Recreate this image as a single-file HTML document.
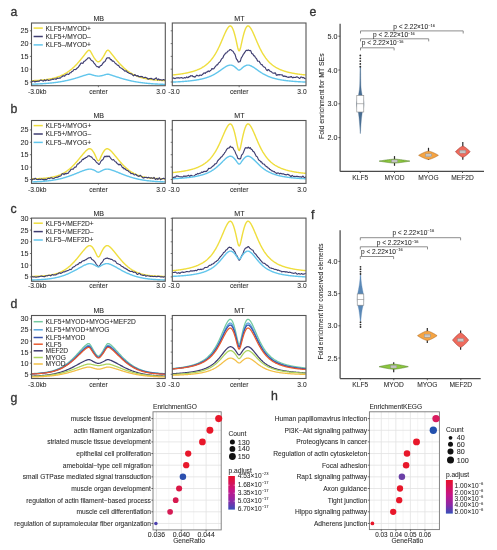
<!DOCTYPE html>
<html><head><meta charset="utf-8"><style>html,body{margin:0;padding:0;background:#fff;width:497px;height:550px;overflow:hidden}svg{display:block;filter:blur(0.3px)}</style></head>
<body><svg width="497" height="550" viewBox="0 0 497 550" font-family='"Liberation Sans", sans-serif'>
<rect width="497" height="550" fill="#fff"/>
<text x="10.6" y="15.6" font-size="12.3" text-anchor="start" fill="#333" stroke="#333" stroke-width="0.3" >a</text>
<svg x="0" y="0" width="497" height="550" overflow="visible"><clipPath id="cpaMB"><rect x="31.5" y="23.0" width="133.8" height="62.7"/></clipPath></svg>
<g clip-path="url(#cpaMB)" fill="none" stroke-linejoin="round">
<polyline points="31.5,80.68 32,80.67 32.5,80.66 33,80.64 33.5,80.62 34,80.59 34.5,80.57 35,80.55 35.5,80.52 36,80.49 36.5,80.46 37,80.43 37.5,80.4 38,80.37 38.5,80.34 39,80.3 39.5,80.26 40,80.22 40.5,80.18 41,80.14 41.5,80.09 42,80.05 42.5,80 43,79.95 43.5,79.89 44,79.84 44.5,79.78 45,79.72 45.5,79.66 46,79.59 46.5,79.52 47,79.45 47.5,79.38 48,79.3 48.5,79.22 49,79.13 49.5,79.04 50,78.95 50.5,78.86 51,78.76 51.5,78.65 52,78.55 52.5,78.43 53,78.32 53.5,78.2 54,78.07 54.5,77.94 55,77.8 55.5,77.66 56,77.51 56.5,77.36 57,77.2 57.5,77.04 58,76.87 58.5,76.69 59,76.5 59.5,76.31 60,76.12 60.5,75.91 61,75.7 61.5,75.48 62,75.25 62.5,75.02 63,74.77 63.5,74.52 64,74.26 64.5,73.99 65,73.71 65.5,73.42 66,73.13 66.5,72.82 67,72.51 67.5,72.18 68,71.84 68.5,71.5 69,71.14 69.5,70.77 70,70.39 70.5,70 71,69.6 71.5,69.19 72,68.77 72.5,68.33 73,67.89 73.5,67.43 74,66.96 74.5,66.48 75,65.99 75.5,65.49 76,64.97 76.5,64.45 77,63.91 77.5,63.36 78,62.8 78.5,62.24 79,61.66 79.5,61.07 80,60.47 80.5,59.87 81,59.25 81.5,58.63 82,58.01 82.5,57.37 83,56.74 83.5,56.1 84,55.46 84.5,54.82 85,54.18 85.5,53.54 86,52.92 86.5,52.3 87,51.71 87.5,51.15 88,50.68 88.5,50.33 89,50.2 89.5,50.34 90,50.76 90.5,51.42 91,52.26 91.5,53.17 92,54.11 92.5,55.03 93,55.92 93.5,56.76 94,57.57 94.5,58.32 95,59.03 95.5,59.69 96,60.28 96.5,60.8 97,61.24 97.5,61.56 98,61.75 98.5,61.8 99,61.69 99.5,61.44 100,61.07 100.5,60.6 101,60.04 101.5,59.42 102,58.74 102.5,58.01 103,57.23 103.5,56.41 104,55.54 104.5,54.63 105,53.7 105.5,52.77 106,51.89 106.5,51.12 107,50.54 107.5,50.23 108,50.2 108.5,50.41 109,50.81 109.5,51.32 110,51.89 110.5,52.49 111,53.11 111.5,53.74 112,54.37 112.5,55.01 113,55.65 113.5,56.29 114,56.93 114.5,57.56 115,58.19 115.5,58.82 116,59.43 116.5,60.04 117,60.64 117.5,61.24 118,61.82 118.5,62.39 119,62.96 119.5,63.51 120,64.05 120.5,64.58 121,65.1 121.5,65.61 122,66.11 122.5,66.6 123,67.07 123.5,67.54 124,67.99 124.5,68.43 125,68.86 125.5,69.28 126,69.68 126.5,70.08 127,70.46 127.5,70.84 128,71.2 128.5,71.55 129,71.89 129.5,72.22 130,72.55 130.5,72.86 131,73.16 131.5,73.45 132,73.74 132.5,74.01 133,74.28 133.5,74.53 134,74.78 134.5,75.02 135,75.25 135.5,75.48 136,75.69 136.5,75.9 137,76.1 137.5,76.3 138,76.48 138.5,76.67 139,76.84 139.5,77.01 140,77.17 140.5,77.33 141,77.48 141.5,77.62 142,77.76 142.5,77.89 143,78.02 143.5,78.15 144,78.27 144.5,78.38 145,78.49 145.5,78.6 146,78.7 146.5,78.8 147,78.89 147.5,78.98 148,79.07 148.5,79.15 149,79.23 149.5,79.31 150,79.38 150.5,79.45 151,79.52 151.5,79.58 152,79.65 152.5,79.71 153,79.76 153.5,79.82 154,79.87 154.5,79.92 155,79.97 155.5,80.01 156,80.06 156.5,80.1 157,80.14 157.5,80.18 158,80.21 158.5,80.25 159,80.28 159.5,80.32 160,80.35 160.5,80.38 161,80.4 161.5,80.43 162,80.46 162.5,80.48 163,80.5 163.5,80.52 164,80.54 164.5,80.56 165,80.57" stroke="#efde3e" stroke-width="1.4"/>
<polyline points="31.5,81.68 32,81.75 32.5,81.44 33,81.2 33.5,81.15 34,81.13 34.5,81.66 35,81.96 35.5,81.54 36,81.18 36.5,81.42 37,81.51 37.5,81.19 38,80.89 38.5,81.28 39,81.37 39.5,80.84 40,80.46 40.5,80.12 41,80.03 41.5,80.26 42,80.5 42.5,80.68 43,80.99 43.5,81.05 44,80.43 44.5,79.81 45,80.26 45.5,80.78 46,80.54 46.5,80.03 47,79.89 47.5,79.82 48,80.14 48.5,80.49 49,80.22 49.5,80.23 50,80.21 50.5,79.8 51,79.71 51.5,79.79 52,79.49 52.5,79.04 53,79.4 53.5,79.38 54,78.88 54.5,79 55,78.96 55.5,78.82 56,79.36 56.5,78.98 57,78.11 57.5,78.14 58,78.37 58.5,78.2 59,78.08 59.5,77.92 60,78.18 60.5,78 61,77.24 61.5,76.82 62,76.71 62.5,76.28 63,75.75 63.5,75.73 64,75.9 64.5,76.16 65,75.86 65.5,74.87 66,74.73 66.5,74.72 67,74.09 67.5,74.01 68,74.27 68.5,74.52 69,74.11 69.5,73.29 70,72.74 70.5,72.73 71,72.6 71.5,71.93 72,71.43 72.5,71.36 73,70.97 73.5,70.23 74,69.66 74.5,69.52 75,69.54 75.5,69.64 76,69.32 76.5,68.75 77,68.28 77.5,67.77 78,67.53 78.5,66.98 79,66.13 79.5,65.46 80,64.91 80.5,63.84 81,63.07 81.5,63.07 82,62.97 82.5,63.2 83,63.37 83.5,62.28 84,61.38 84.5,61.22 85,60.9 85.5,60.33 86,59.87 86.5,59.78 87,59.07 87.5,58.17 88,57.97 88.5,57.86 89,57.68 89.5,57.92 90,58.43 90.5,59.32 91,59.97 91.5,60.36 92,60.76 92.5,61.15 93,61.31 93.5,62.25 94,63.16 94.5,63.56 95,64.24 95.5,64.83 96,65.54 96.5,66.17 97,66.71 97.5,66.73 98,66.57 98.5,67.27 99,67.64 99.5,66.95 100,66.21 100.5,65.75 101,65.48 101.5,65.34 102,64.65 102.5,63.88 103,63.12 103.5,62.38 104,61.94 104.5,62 105,61.33 105.5,60.57 106,59.44 106.5,58.46 107,58.04 107.5,57.85 108,57.81 108.5,57.93 109,57.79 109.5,57.85 110,58.66 110.5,59.75 111,59.67 111.5,59.67 112,60.8 112.5,61.23 113,60.93 113.5,61.27 114,61.64 114.5,61.97 115,62.99 115.5,63.6 116,63.76 116.5,64.17 117,64.72 117.5,65.21 118,65.36 118.5,65.42 119,66.14 119.5,67.07 120,67.46 120.5,67.77 121,68.07 121.5,68.23 122,68.55 122.5,69.17 123,69.38 123.5,69.69 124,70.32 124.5,70.97 125,71.17 125.5,71.09 126,70.76 126.5,70.96 127,71.97 127.5,72.54 128,72.38 128.5,72.72 129,73.17 129.5,73.53 130,73.54 130.5,73.65 131,73.9 131.5,73.89 132,74.2 132.5,74.85 133,75.32 133.5,75.87 134,75.56 134.5,74.67 135,74.65 135.5,75.37 136,75.48 136.5,75.88 137,76.06 137.5,75.52 138,75.48 138.5,76.4 139,76.69 139.5,76.67 140,76.71 140.5,76.48 141,76.38 141.5,76.65 142,76.46 142.5,76.71 143,77.32 143.5,77.78 144,77.7 144.5,77.44 145,77.23 145.5,77.31 146,77.57 146.5,77.86 147,77.99 147.5,78.51 148,79.06 148.5,79.13 149,78.5 149.5,78.63 150,78.79 150.5,78.5 151,78.27 151.5,78.52 152,79.01 152.5,79.03 153,79.04 153.5,79.46 154,79.77 154.5,79.2 155,78.49 155.5,78.42 156,78.04 156.5,77.87 157,78.98 157.5,79.95 158,79.51 158.5,78.91 159,79.22 159.5,79.85 160,79.87 160.5,79.68 161,79.64 161.5,79.9 162,80.14 162.5,80.08 163,79.69 163.5,79.47 164,79.66 164.5,79.9 165,80.16" stroke="#3e3d70" stroke-width="1.15"/>
<polyline points="31.5,84.19 32,84.18 32.5,84.16 33,84.15 33.5,84.13 34,84.11 34.5,84.09 35,84.08 35.5,84.06 36,84.03 36.5,84.01 37,83.99 37.5,83.97 38,83.94 38.5,83.92 39,83.9 39.5,83.87 40,83.84 40.5,83.82 41,83.79 41.5,83.76 42,83.73 42.5,83.7 43,83.67 43.5,83.63 44,83.6 44.5,83.56 45,83.53 45.5,83.49 46,83.45 46.5,83.41 47,83.37 47.5,83.33 48,83.29 48.5,83.24 49,83.2 49.5,83.15 50,83.1 50.5,83.05 51,83 51.5,82.95 52,82.9 52.5,82.84 53,82.79 53.5,82.73 54,82.67 54.5,82.61 55,82.55 55.5,82.48 56,82.42 56.5,82.35 57,82.28 57.5,82.21 58,82.13 58.5,82.06 59,81.98 59.5,81.9 60,81.82 60.5,81.74 61,81.65 61.5,81.57 62,81.48 62.5,81.39 63,81.29 63.5,81.2 64,81.1 64.5,81 65,80.9 65.5,80.8 66,80.69 66.5,80.58 67,80.47 67.5,80.36 68,80.25 68.5,80.13 69,80.01 69.5,79.89 70,79.76 70.5,79.64 71,79.51 71.5,79.38 72,79.24 72.5,79.11 73,78.97 73.5,78.83 74,78.69 74.5,78.55 75,78.4 75.5,78.25 76,78.1 76.5,77.95 77,77.8 77.5,77.64 78,77.49 78.5,77.33 79,77.17 79.5,77.01 80,76.85 80.5,76.68 81,76.52 81.5,76.35 82,76.19 82.5,76.03 83,75.86 83.5,75.7 84,75.53 84.5,75.37 85,75.21 85.5,75.05 86,74.9 86.5,74.75 87,74.6 87.5,74.46 88,74.34 88.5,74.25 89,74.2 89.5,74.2 90,74.26 90.5,74.36 91,74.5 91.5,74.65 92,74.81 92.5,74.96 93,75.11 93.5,75.25 94,75.39 94.5,75.52 95,75.63 95.5,75.74 96,75.84 96.5,75.93 97,76 97.5,76.06 98,76.09 98.5,76.1 99,76.08 99.5,76.04 100,75.98 100.5,75.9 101,75.81 101.5,75.7 102,75.59 102.5,75.46 103,75.33 103.5,75.2 104,75.05 104.5,74.9 105,74.74 105.5,74.59 106,74.44 106.5,74.32 107,74.23 107.5,74.2 108,74.22 108.5,74.29 109,74.4 109.5,74.53 110,74.67 110.5,74.82 111,74.98 111.5,75.14 112,75.3 112.5,75.46 113,75.63 113.5,75.8 114,75.96 114.5,76.13 115,76.3 115.5,76.47 116,76.63 116.5,76.8 117,76.97 117.5,77.13 118,77.29 118.5,77.46 119,77.62 119.5,77.78 120,77.93 120.5,78.09 121,78.24 121.5,78.4 122,78.55 122.5,78.69 123,78.84 123.5,78.98 124,79.12 124.5,79.26 125,79.4 125.5,79.54 126,79.67 126.5,79.8 127,79.93 127.5,80.05 128,80.18 128.5,80.3 129,80.41 129.5,80.53 130,80.65 130.5,80.76 131,80.87 131.5,80.97 132,81.08 132.5,81.18 133,81.28 133.5,81.38 134,81.48 134.5,81.57 135,81.66 135.5,81.75 136,81.84 136.5,81.92 137,82.01 137.5,82.09 138,82.17 138.5,82.25 139,82.32 139.5,82.4 140,82.47 140.5,82.54 141,82.61 141.5,82.67 142,82.74 142.5,82.8 143,82.86 143.5,82.92 144,82.98 144.5,83.04 145,83.1 145.5,83.15 146,83.2 146.5,83.25 147,83.3 147.5,83.35 148,83.4 148.5,83.44 149,83.49 149.5,83.53 150,83.57 150.5,83.61 151,83.65 151.5,83.69 152,83.73 152.5,83.77 153,83.8 153.5,83.83 154,83.87 154.5,83.9 155,83.93 155.5,83.96 156,83.99 156.5,84.02 157,84.05 157.5,84.07 158,84.1 158.5,84.12 159,84.15 159.5,84.17 160,84.2 160.5,84.22 161,84.24 161.5,84.26 162,84.28 162.5,84.3 163,84.32 163.5,84.34 164,84.35 164.5,84.37 165,84.38" stroke="#62c6ec" stroke-width="1.4"/>
</g>
<rect x="31.5" y="23.0" width="133.8" height="62.7" fill="none" stroke="#555555" stroke-width="1.1"/>
<line x1="29.9" y1="30.8" x2="31.5" y2="30.8" stroke="#555555" stroke-width="0.8"/>
<line x1="29.9" y1="43.6" x2="31.5" y2="43.6" stroke="#555555" stroke-width="0.8"/>
<line x1="29.9" y1="56.4" x2="31.5" y2="56.4" stroke="#555555" stroke-width="0.8"/>
<line x1="29.9" y1="69.2" x2="31.5" y2="69.2" stroke="#555555" stroke-width="0.8"/>
<line x1="29.9" y1="82.0" x2="31.5" y2="82.0" stroke="#555555" stroke-width="0.8"/>
<line x1="98.4" y1="85.7" x2="98.4" y2="87.2" stroke="#555555" stroke-width="0.8"/>
<text x="98.7" y="20.6" font-size="7.1" text-anchor="middle" fill="#2a2a2a" stroke="#2a2a2a" stroke-width="0.07" >MB</text>
<text x="98.4" y="94.1" font-size="6.65" text-anchor="middle" fill="#2a2a2a" stroke="#2a2a2a" stroke-width="0.07" >center</text>
<svg x="0" y="0" width="497" height="550" overflow="visible"><clipPath id="cpaMT"><rect x="172.3" y="23.0" width="133.7" height="62.7"/></clipPath></svg>
<g clip-path="url(#cpaMT)" fill="none" stroke-linejoin="round">
<polyline points="172.25,74.96 172.75,74.93 173.25,74.89 173.75,74.85 174.25,74.8 174.75,74.75 175.25,74.69 175.75,74.64 176.25,74.58 176.75,74.52 177.25,74.46 177.75,74.4 178.25,74.34 178.75,74.27 179.25,74.21 179.75,74.14 180.25,74.07 180.75,74 181.25,73.92 181.75,73.85 182.25,73.77 182.75,73.69 183.25,73.61 183.75,73.52 184.25,73.43 184.75,73.34 185.25,73.25 185.75,73.16 186.25,73.06 186.75,72.96 187.25,72.85 187.75,72.75 188.25,72.64 188.75,72.52 189.25,72.41 189.75,72.29 190.25,72.16 190.75,72.03 191.25,71.9 191.75,71.76 192.25,71.62 192.75,71.48 193.25,71.33 193.75,71.17 194.25,71.01 194.75,70.84 195.25,70.67 195.75,70.49 196.25,70.31 196.75,70.11 197.25,69.92 197.75,69.71 198.25,69.5 198.75,69.28 199.25,69.05 199.75,68.81 200.25,68.56 200.75,68.31 201.25,68.04 201.75,67.77 202.25,67.48 202.75,67.18 203.25,66.87 203.75,66.55 204.25,66.21 204.75,65.87 205.25,65.5 205.75,65.13 206.25,64.73 206.75,64.33 207.25,63.9 207.75,63.46 208.25,63 208.75,62.51 209.25,62.01 209.75,61.49 210.25,60.95 210.75,60.38 211.25,59.79 211.75,59.17 212.25,58.53 212.75,57.86 213.25,57.17 213.75,56.45 214.25,55.69 214.75,54.91 215.25,54.1 215.75,53.25 216.25,52.38 216.75,51.47 217.25,50.53 217.75,49.56 218.25,48.56 218.75,47.53 219.25,46.47 219.75,45.38 220.25,44.27 220.75,43.13 221.25,41.98 221.75,40.81 222.25,39.63 222.75,38.45 223.25,37.27 223.75,36.09 224.25,34.94 224.75,33.8 225.25,32.7 225.75,31.64 226.25,30.64 226.75,29.69 227.25,28.82 227.75,28.03 228.25,27.34 228.75,26.75 229.25,26.3 229.75,26.01 230.25,25.9 230.75,26 231.25,26.33 231.75,26.9 232.25,27.69 232.75,28.7 233.25,29.91 233.75,31.33 234.25,32.94 234.75,34.72 235.25,36.67 235.75,38.76 236.25,40.97 236.75,43.27 237.25,45.56 237.75,47.71 238.25,49.48 238.75,50.62 239.25,50.9 239.75,50.26 240.25,48.84 240.75,46.88 241.25,44.65 241.75,42.34 242.25,40.06 242.75,37.89 243.25,35.85 243.75,33.97 244.25,32.26 244.75,30.72 245.25,29.38 245.75,28.24 246.25,27.32 246.75,26.62 247.25,26.16 247.75,25.92 248.25,25.9 248.75,26.08 249.25,26.44 249.75,26.95 250.25,27.58 250.75,28.31 251.25,29.14 251.75,30.04 252.25,31.01 252.75,32.04 253.25,33.12 253.75,34.23 254.25,35.38 254.75,36.54 255.25,37.72 255.75,38.91 256.25,40.09 256.75,41.27 257.25,42.43 257.75,43.58 258.25,44.7 258.75,45.81 259.25,46.88 259.75,47.93 260.25,48.95 260.75,49.94 261.25,50.9 261.75,51.83 262.25,52.72 262.75,53.58 263.25,54.42 263.75,55.22 264.25,55.99 264.75,56.73 265.25,57.44 265.75,58.13 266.25,58.78 266.75,59.42 267.25,60.02 267.75,60.6 268.25,61.16 268.75,61.7 269.25,62.21 269.75,62.7 270.25,63.18 270.75,63.63 271.25,64.07 271.75,64.49 272.25,64.89 272.75,65.28 273.25,65.65 273.75,66 274.25,66.35 274.75,66.68 275.25,66.99 275.75,67.3 276.25,67.59 276.75,67.87 277.25,68.15 277.75,68.41 278.25,68.66 278.75,68.9 279.25,69.14 279.75,69.36 280.25,69.58 280.75,69.79 281.25,69.99 281.75,70.19 282.25,70.38 282.75,70.56 283.25,70.74 283.75,70.91 284.25,71.07 284.75,71.23 285.25,71.38 285.75,71.53 286.25,71.68 286.75,71.82 287.25,71.95 287.75,72.08 288.25,72.21 288.75,72.33 289.25,72.45 289.75,72.57 290.25,72.68 290.75,72.79 291.25,72.9 291.75,73 292.25,73.1 292.75,73.19 293.25,73.29 293.75,73.38 294.25,73.47 294.75,73.55 295.25,73.64 295.75,73.72 296.25,73.8 296.75,73.88 297.25,73.95 297.75,74.02 298.25,74.1 298.75,74.16 299.25,74.23 299.75,74.3 300.25,74.36 300.75,74.42 301.25,74.48 301.75,74.54 302.25,74.6 302.75,74.66 303.25,74.71 303.75,74.77 304.25,74.82 304.75,74.86 305.25,74.9 305.75,74.93" stroke="#efde3e" stroke-width="1.4"/>
<polyline points="172.25,78.21 172.75,78.29 173.25,78.11 173.75,77.88 174.25,78.32 174.75,78.64 175.25,78.38 175.75,78.22 176.25,78.02 176.75,77.82 177.25,77.76 177.75,77.94 178.25,77.85 178.75,77.69 179.25,77.93 179.75,78.11 180.25,77.83 180.75,77.76 181.25,77.68 181.75,77.54 182.25,77.99 182.75,78.22 183.25,78.18 183.75,77.93 184.25,77.66 184.75,77.64 185.25,77.97 185.75,77.96 186.25,77.35 186.75,76.79 187.25,77.32 187.75,77.76 188.25,77.58 188.75,76.79 189.25,76.44 189.75,76.79 190.25,76.23 190.75,75.63 191.25,75.94 191.75,75.8 192.25,75.68 192.75,76.26 193.25,76.77 193.75,76.5 194.25,76.56 194.75,77.16 195.25,77.06 195.75,76.24 196.25,75.6 196.75,75.16 197.25,75.38 197.75,75.71 198.25,75.75 198.75,75.88 199.25,75.78 199.75,75.17 200.25,75.09 200.75,75.3 201.25,75.42 201.75,75.21 202.25,74.68 202.75,74.24 203.25,73.78 203.75,73.05 204.25,72.88 204.75,73.29 205.25,73.35 205.75,72.64 206.25,72.05 206.75,72.11 207.25,72.03 207.75,71.38 208.25,70.9 208.75,71.33 209.25,71.7 209.75,71.19 210.25,70.61 210.75,70.45 211.25,69.7 211.75,68.63 212.25,68.68 212.75,69.06 213.25,68.91 213.75,68.78 214.25,68.17 214.75,67.32 215.25,66.68 215.75,66.12 216.25,65.32 216.75,64.86 217.25,64.96 217.75,64.51 218.25,63.48 218.75,62.69 219.25,62.46 219.75,62.09 220.25,61.47 220.75,60.62 221.25,59.52 221.75,58.75 222.25,58.37 222.75,58.09 223.25,57.07 223.75,55.55 224.25,54.87 224.75,54.52 225.25,53.58 225.75,52.97 226.25,52.99 226.75,52.81 227.25,51.93 227.75,51.27 228.25,50.98 228.75,50.72 229.25,50.39 229.75,49.7 230.25,49.49 230.75,49.73 231.25,49.94 231.75,50.49 232.25,50.94 232.75,50.98 233.25,51.67 233.75,52.59 234.25,53.41 234.75,53.99 235.25,55.05 235.75,56.89 236.25,58.62 236.75,59.46 237.25,59.99 237.75,60.89 238.25,62.03 238.75,62.15 239.25,61.75 239.75,61.78 240.25,61.25 240.75,59.71 241.25,58.03 241.75,57.16 242.25,56.63 242.75,55.49 243.25,54.46 243.75,53.96 244.25,53.16 244.75,52.33 245.25,51.65 245.75,50.88 246.25,50.37 246.75,50.24 247.25,50.56 247.75,50.29 248.25,49.93 248.75,50.17 249.25,50.52 249.75,50.63 250.25,50.42 250.75,50.67 251.25,52.13 251.75,53.52 252.25,53.88 252.75,53.87 253.25,54.76 253.75,55.8 254.25,55.76 254.75,56.25 255.25,57.27 255.75,58.02 256.25,58.41 256.75,59.07 257.25,60.38 257.75,61.16 258.25,61.26 258.75,61.25 259.25,61.35 259.75,62.38 260.25,63.28 260.75,63.98 261.25,64.66 261.75,64.59 262.25,64.84 262.75,65.74 263.25,66.41 263.75,66.75 264.25,67.18 264.75,67.23 265.25,67.62 265.75,68.69 266.25,69.58 266.75,70.24 267.25,70.7 267.75,70.02 268.25,69.5 268.75,69.79 269.25,70.26 269.75,70.97 270.25,71.27 270.75,71.34 271.25,71.81 271.75,72.08 272.25,72.59 272.75,72.97 273.25,73.06 273.75,73.25 274.25,73.18 274.75,72.93 275.25,72.9 275.75,73.67 276.25,74.94 276.75,75.36 277.25,75.12 277.75,74.64 278.25,74.56 278.75,74.9 279.25,74.87 279.75,74.62 280.25,74.75 280.75,74.8 281.25,74.98 281.75,74.92 282.25,74.91 282.75,75.5 283.25,76.38 283.75,76.15 284.25,75.94 284.75,76.47 285.25,76.57 285.75,76.1 286.25,76.46 286.75,76.92 287.25,77.05 287.75,77.19 288.25,77.42 288.75,77.06 289.25,76.95 289.75,77.1 290.25,77.14 290.75,76.57 291.25,76.53 291.75,77.03 292.25,77.54 292.75,77.83 293.25,77.62 293.75,77.18 294.25,77.53 294.75,77.51 295.25,77.35 295.75,77.5 296.25,77.11 296.75,76.73 297.25,77.03 297.75,77.17 298.25,77.42 298.75,77.91 299.25,78.35 299.75,78.49 300.25,77.83 300.75,76.99 301.25,77.13 301.75,77.19 302.25,77.37 302.75,77.82 303.25,77.59 303.75,77.42 304.25,78.14 304.75,78.49 305.25,78.61 305.75,78.56" stroke="#3e3d70" stroke-width="1.15"/>
<polyline points="172.25,82.08 172.75,82.07 173.25,82.05 173.75,82.03 174.25,82.01 174.75,81.99 175.25,81.96 175.75,81.94 176.25,81.91 176.75,81.88 177.25,81.86 177.75,81.83 178.25,81.8 178.75,81.77 179.25,81.74 179.75,81.71 180.25,81.68 180.75,81.65 181.25,81.62 181.75,81.58 182.25,81.55 182.75,81.51 183.25,81.48 183.75,81.44 184.25,81.4 184.75,81.36 185.25,81.32 185.75,81.28 186.25,81.24 186.75,81.19 187.25,81.15 187.75,81.1 188.25,81.05 188.75,81 189.25,80.95 189.75,80.9 190.25,80.84 190.75,80.79 191.25,80.73 191.75,80.67 192.25,80.61 192.75,80.55 193.25,80.48 193.75,80.41 194.25,80.35 194.75,80.27 195.25,80.2 195.75,80.12 196.25,80.04 196.75,79.96 197.25,79.88 197.75,79.79 198.25,79.7 198.75,79.61 199.25,79.51 199.75,79.41 200.25,79.31 200.75,79.2 201.25,79.09 201.75,78.98 202.25,78.86 202.75,78.74 203.25,78.61 203.75,78.48 204.25,78.35 204.75,78.21 205.25,78.06 205.75,77.91 206.25,77.75 206.75,77.59 207.25,77.42 207.75,77.25 208.25,77.07 208.75,76.88 209.25,76.69 209.75,76.48 210.25,76.28 210.75,76.06 211.25,75.84 211.75,75.61 212.25,75.37 212.75,75.12 213.25,74.87 213.75,74.6 214.25,74.33 214.75,74.05 215.25,73.76 215.75,73.47 216.25,73.16 216.75,72.85 217.25,72.53 217.75,72.2 218.25,71.87 218.75,71.52 219.25,71.18 219.75,70.83 220.25,70.47 220.75,70.11 221.25,69.75 221.75,69.39 222.25,69.03 222.75,68.67 223.25,68.32 223.75,67.97 224.25,67.63 224.75,67.31 225.25,66.99 225.75,66.69 226.25,66.41 226.75,66.15 227.25,65.91 227.75,65.69 228.25,65.5 228.75,65.35 229.25,65.22 229.75,65.14 230.25,65.1 230.75,65.11 231.25,65.17 231.75,65.28 232.25,65.44 232.75,65.64 233.25,65.89 233.75,66.17 234.25,66.49 234.75,66.85 235.25,67.24 235.75,67.66 236.25,68.11 236.75,68.57 237.25,69.03 237.75,69.46 238.25,69.82 238.75,70.04 239.25,70.1 239.75,69.97 240.25,69.69 240.75,69.29 241.25,68.85 241.75,68.38 242.25,67.93 242.75,67.49 243.25,67.08 243.75,66.7 244.25,66.36 244.75,66.05 245.25,65.78 245.75,65.55 246.25,65.37 246.75,65.23 247.25,65.14 247.75,65.1 248.25,65.11 248.75,65.17 249.25,65.27 249.75,65.4 250.25,65.57 250.75,65.77 251.25,66 251.75,66.25 252.25,66.52 252.75,66.81 253.25,67.11 253.75,67.43 254.25,67.77 254.75,68.11 255.25,68.46 255.75,68.81 256.25,69.17 256.75,69.53 257.25,69.89 257.75,70.25 258.25,70.61 258.75,70.97 259.25,71.32 259.75,71.66 260.25,72 260.75,72.33 261.25,72.66 261.75,72.97 262.25,73.28 262.75,73.59 263.25,73.88 263.75,74.16 264.25,74.44 264.75,74.71 265.25,74.97 265.75,75.22 266.25,75.46 266.75,75.7 267.25,75.93 267.75,76.15 268.25,76.36 268.75,76.57 269.25,76.76 269.75,76.95 270.25,77.14 270.75,77.32 271.25,77.49 271.75,77.66 272.25,77.82 272.75,77.97 273.25,78.12 273.75,78.26 274.25,78.4 274.75,78.54 275.25,78.66 275.75,78.79 276.25,78.91 276.75,79.03 277.25,79.14 277.75,79.25 278.25,79.35 278.75,79.45 279.25,79.55 279.75,79.65 280.25,79.74 280.75,79.83 281.25,79.91 281.75,80 282.25,80.08 282.75,80.15 283.25,80.23 283.75,80.3 284.25,80.37 284.75,80.44 285.25,80.51 285.75,80.57 286.25,80.63 286.75,80.69 287.25,80.75 287.75,80.81 288.25,80.87 288.75,80.92 289.25,80.97 289.75,81.02 290.25,81.07 290.75,81.12 291.25,81.16 291.75,81.21 292.25,81.25 292.75,81.3 293.25,81.34 293.75,81.38 294.25,81.42 294.75,81.45 295.25,81.49 295.75,81.53 296.25,81.56 296.75,81.6 297.25,81.63 297.75,81.66 298.25,81.69 298.75,81.73 299.25,81.76 299.75,81.78 300.25,81.81 300.75,81.84 301.25,81.87 301.75,81.9 302.25,81.92 302.75,81.95 303.25,81.97 303.75,81.99 304.25,82.02 304.75,82.04 305.25,82.05 305.75,82.07" stroke="#62c6ec" stroke-width="1.4"/>
</g>
<rect x="172.3" y="23.0" width="133.7" height="62.7" fill="none" stroke="#555555" stroke-width="1.1"/>
<line x1="170.70000000000002" y1="30.8" x2="172.3" y2="30.8" stroke="#555555" stroke-width="0.8"/>
<line x1="170.70000000000002" y1="43.6" x2="172.3" y2="43.6" stroke="#555555" stroke-width="0.8"/>
<line x1="170.70000000000002" y1="56.4" x2="172.3" y2="56.4" stroke="#555555" stroke-width="0.8"/>
<line x1="170.70000000000002" y1="69.2" x2="172.3" y2="69.2" stroke="#555555" stroke-width="0.8"/>
<line x1="170.70000000000002" y1="82.0" x2="172.3" y2="82.0" stroke="#555555" stroke-width="0.8"/>
<line x1="239.15" y1="85.7" x2="239.15" y2="87.2" stroke="#555555" stroke-width="0.8"/>
<text x="239.45" y="20.6" font-size="7.1" text-anchor="middle" fill="#2a2a2a" stroke="#2a2a2a" stroke-width="0.07" >MT</text>
<text x="239.15" y="94.1" font-size="6.65" text-anchor="middle" fill="#2a2a2a" stroke="#2a2a2a" stroke-width="0.07" >center</text>
<text x="28.6" y="33.3" font-size="7.2" text-anchor="end" fill="#2a2a2a" stroke="#2a2a2a" stroke-width="0.07" >25</text>
<text x="28.6" y="46.1" font-size="7.2" text-anchor="end" fill="#2a2a2a" stroke="#2a2a2a" stroke-width="0.07" >20</text>
<text x="28.6" y="58.9" font-size="7.2" text-anchor="end" fill="#2a2a2a" stroke="#2a2a2a" stroke-width="0.07" >15</text>
<text x="28.6" y="71.7" font-size="7.2" text-anchor="end" fill="#2a2a2a" stroke="#2a2a2a" stroke-width="0.07" >10</text>
<text x="28.6" y="84.5" font-size="7.2" text-anchor="end" fill="#2a2a2a" stroke="#2a2a2a" stroke-width="0.07" >5</text>
<text x="28" y="94.1" font-size="6.65" text-anchor="start" fill="#2a2a2a" stroke="#2a2a2a" stroke-width="0.07" >-3.0kb</text>
<text x="165.6" y="94.1" font-size="6.65" text-anchor="end" fill="#2a2a2a" stroke="#2a2a2a" stroke-width="0.07" >3.0</text>
<text x="168.2" y="94.1" font-size="6.65" text-anchor="start" fill="#2a2a2a" stroke="#2a2a2a" stroke-width="0.07" >-3.0</text>
<text x="306.6" y="94.1" font-size="6.65" text-anchor="end" fill="#2a2a2a" stroke="#2a2a2a" stroke-width="0.07" >3.0</text>
<line x1="33.6" y1="28.1" x2="42.8" y2="28.1" stroke="#efde3e" stroke-width="1.5"/>
<text x="45.6" y="30.5" font-size="6.65" text-anchor="start" fill="#2a2a2a" stroke="#2a2a2a" stroke-width="0.07" >KLF5+/MYOD+</text>
<line x1="33.6" y1="36.5" x2="42.8" y2="36.5" stroke="#3e3d70" stroke-width="1.5"/>
<text x="45.6" y="38.9" font-size="6.65" text-anchor="start" fill="#2a2a2a" stroke="#2a2a2a" stroke-width="0.07" >KLF5+/MYOD–</text>
<line x1="33.6" y1="44.9" x2="42.8" y2="44.9" stroke="#62c6ec" stroke-width="1.5"/>
<text x="45.6" y="47.3" font-size="6.65" text-anchor="start" fill="#2a2a2a" stroke="#2a2a2a" stroke-width="0.07" >KLF5–/MYOD+</text>
<text x="10.6" y="112.6" font-size="12.3" text-anchor="start" fill="#333" stroke="#333" stroke-width="0.3" >b</text>
<svg x="0" y="0" width="497" height="550" overflow="visible"><clipPath id="cpbMB"><rect x="31.5" y="120.5" width="133.8" height="62.900000000000006"/></clipPath></svg>
<g clip-path="url(#cpbMB)" fill="none" stroke-linejoin="round">
<polyline points="31.5,178.79 32,178.79 32.5,178.78 33,178.77 33.5,178.76 34,178.75 34.5,178.74 35,178.72 35.5,178.71 36,178.69 36.5,178.68 37,178.66 37.5,178.64 38,178.62 38.5,178.6 39,178.58 39.5,178.56 40,178.53 40.5,178.5 41,178.48 41.5,178.45 42,178.42 42.5,178.38 43,178.35 43.5,178.31 44,178.27 44.5,178.23 45,178.18 45.5,178.13 46,178.08 46.5,178.03 47,177.97 47.5,177.91 48,177.85 48.5,177.78 49,177.71 49.5,177.64 50,177.56 50.5,177.48 51,177.39 51.5,177.3 52,177.2 52.5,177.1 53,176.99 53.5,176.88 54,176.76 54.5,176.64 55,176.51 55.5,176.38 56,176.23 56.5,176.08 57,175.93 57.5,175.76 58,175.59 58.5,175.41 59,175.22 59.5,175.03 60,174.82 60.5,174.61 61,174.38 61.5,174.15 62,173.91 62.5,173.66 63,173.4 63.5,173.12 64,172.84 64.5,172.55 65,172.24 65.5,171.92 66,171.6 66.5,171.26 67,170.9 67.5,170.54 68,170.17 68.5,169.78 69,169.38 69.5,168.97 70,168.54 70.5,168.11 71,167.66 71.5,167.2 72,166.72 72.5,166.24 73,165.74 73.5,165.23 74,164.71 74.5,164.18 75,163.64 75.5,163.09 76,162.53 76.5,161.96 77,161.38 77.5,160.79 78,160.2 78.5,159.6 79,159 79.5,158.39 80,157.78 80.5,157.17 81,156.56 81.5,155.95 82,155.34 82.5,154.74 83,154.14 83.5,153.56 84,152.98 84.5,152.42 85,151.88 85.5,151.36 86,150.86 86.5,150.39 87,149.96 87.5,149.56 88,149.23 88.5,148.96 89,148.78 89.5,148.7 90,148.73 90.5,148.89 91,149.16 91.5,149.54 92,150.03 92.5,150.62 93,151.31 93.5,152.09 94,152.95 94.5,153.89 95,154.91 95.5,155.98 96,157.1 96.5,158.21 97,159.25 97.5,160.11 98,160.66 98.5,160.8 99,160.49 99.5,159.8 100,158.85 100.5,157.77 101,156.65 101.5,155.54 102,154.49 102.5,153.5 103,152.59 103.5,151.76 104,151.01 104.5,150.36 105,149.81 105.5,149.36 106,149.03 106.5,148.8 107,148.7 107.5,148.71 108,148.83 108.5,149.05 109,149.35 109.5,149.71 110,150.12 110.5,150.57 111,151.05 111.5,151.56 112,152.09 112.5,152.64 113,153.21 113.5,153.79 114,154.38 114.5,154.97 115,155.58 115.5,156.19 116,156.8 116.5,157.41 117,158.02 117.5,158.63 118,159.23 118.5,159.84 119,160.43 119.5,161.02 120,161.61 120.5,162.18 121,162.75 121.5,163.3 122,163.85 122.5,164.39 123,164.92 123.5,165.43 124,165.94 124.5,166.43 125,166.91 125.5,167.38 126,167.83 126.5,168.28 127,168.71 127.5,169.13 128,169.54 128.5,169.93 129,170.32 129.5,170.69 130,171.05 130.5,171.39 131,171.73 131.5,172.05 132,172.36 132.5,172.66 133,172.95 133.5,173.23 134,173.5 134.5,173.76 135,174.01 135.5,174.24 136,174.47 136.5,174.69 137,174.9 137.5,175.1 138,175.3 138.5,175.48 139,175.66 139.5,175.83 140,175.99 140.5,176.14 141,176.29 141.5,176.43 142,176.56 142.5,176.69 143,176.81 143.5,176.93 144,177.04 144.5,177.14 145,177.24 145.5,177.34 146,177.43 146.5,177.51 147,177.59 147.5,177.67 148,177.74 148.5,177.81 149,177.87 149.5,177.94 150,177.99 150.5,178.05 151,178.1 151.5,178.15 152,178.2 152.5,178.24 153,178.28 153.5,178.32 154,178.36 154.5,178.4 155,178.43 155.5,178.46 156,178.49 156.5,178.52 157,178.54 157.5,178.57 158,178.59 158.5,178.61 159,178.63 159.5,178.65 160,178.67 160.5,178.68 161,178.7 161.5,178.71 162,178.73 162.5,178.74 163,178.75 163.5,178.76 164,178.77 164.5,178.78 165,178.79" stroke="#efde3e" stroke-width="1.4"/>
<polyline points="31.5,180.37 32,180.23 32.5,179.45 33,179.09 33.5,179.05 34,179.09 34.5,179.12 35,178.42 35.5,178.4 36,178.97 36.5,179.35 37,179.49 37.5,179.53 38,179.67 38.5,179.54 39,179 39.5,179.21 40,179.44 40.5,179.53 41,179.29 41.5,179 42,179.18 42.5,179.52 43,179.35 43.5,179.4 44,180.17 44.5,180.01 45,179.03 45.5,179.45 46,180.12 46.5,179.69 47,179.11 47.5,178.75 48,178.39 48.5,178.27 49,178.46 49.5,178.64 50,178.22 50.5,178.01 51,177.8 51.5,177.87 52,177.91 52.5,178.33 53,178.72 53.5,178.5 54,178.24 54.5,178.12 55,177.54 55.5,177.47 56,177.42 56.5,177.34 57,177.06 57.5,177.3 58,177.12 58.5,176.52 59,176.3 59.5,176.34 60,176.11 60.5,175.93 61,175.72 61.5,174.92 62,173.94 62.5,173.69 63,173.56 63.5,174.14 64,174.74 64.5,174.18 65,173.41 65.5,173.51 66,174.01 66.5,173.71 67,173.16 67.5,173.46 68,173.48 68.5,172.71 69,171.88 69.5,171.35 70,170.98 70.5,170.11 71,169.45 71.5,169.24 72,168.96 72.5,168.97 73,169.25 73.5,169 74,168.04 74.5,167.28 75,167.19 75.5,167.19 76,166.9 76.5,165.9 77,164.74 77.5,164.02 78,163.91 78.5,164 79,163.38 79.5,162.52 80,162.12 80.5,162.02 81,161.62 81.5,160.87 82,160.03 82.5,159.25 83,159.36 83.5,159.56 84,158.65 84.5,158.36 85,158.5 85.5,157.82 86,157.49 86.5,157.38 87,157.11 87.5,156.59 88,155.98 88.5,155.87 89,155.88 89.5,155.86 90,156.4 90.5,156.68 91,156.77 91.5,157 92,157.52 92.5,158.25 93,158.86 93.5,159.31 94,159.34 94.5,159.87 95,160.5 95.5,160.85 96,161.7 96.5,162.44 97,162.77 97.5,163.02 98,163.43 98.5,164.2 99,164.47 99.5,164.09 100,163.16 100.5,162.02 101,161.25 101.5,160.65 102,160.1 102.5,159.9 103,159.61 103.5,158.49 104,157.3 104.5,156.66 105,156.19 105.5,156.33 106,156.88 106.5,156.4 107,155.86 107.5,156.39 108,156.69 108.5,156.22 109,156.05 109.5,156.42 110,157.2 110.5,157.93 111,158.69 111.5,159.2 112,159.7 112.5,159.95 113,159.76 113.5,159.62 114,160.22 114.5,160.91 115,161.45 115.5,161.92 116,162 116.5,162.4 117,163.44 117.5,163.92 118,163.97 118.5,164.63 119,165 119.5,164.54 120,164.09 120.5,164.67 121,165.24 121.5,165.86 122,166.83 122.5,167.59 123,167.42 123.5,167.86 124,168.87 124.5,168.77 125,168.52 125.5,169.43 126,169.96 126.5,170.02 127,170.47 127.5,170.54 128,170.66 128.5,171.45 129,171.82 129.5,171.97 130,172.31 130.5,172.97 131,173.67 131.5,173.49 132,173.54 132.5,173.71 133,173.68 133.5,174.36 134,174.79 134.5,174.95 135,174.7 135.5,174.26 136,174.48 136.5,175.05 137,175.49 137.5,175.93 138,175.89 138.5,176.2 139,176.43 139.5,175.86 140,175.42 140.5,175.33 141,175.99 141.5,176.77 142,176.91 142.5,177.35 143,177.87 143.5,178.07 144,177.89 144.5,177.3 145,177.29 145.5,177.54 146,177.51 146.5,177.34 147,177.77 147.5,177.97 148,177.46 148.5,177.39 149,177.62 149.5,177.79 150,178.05 150.5,178.16 151,177.91 151.5,177.72 152,178.04 152.5,178.23 153,178.37 153.5,178.07 154,177.47 154.5,177.91 155,178.9 155.5,179.43 156,179.16 156.5,178.56 157,178.44 157.5,179.18 158,179.41 158.5,178.74 159,178.07 159.5,177.85 160,178.85 160.5,179.69 161,179.41 161.5,179.07 162,178.78 162.5,178.46 163,178.58 163.5,178.28 164,178.38 164.5,178.9 165,179.06" stroke="#3e3d70" stroke-width="1.15"/>
<polyline points="31.5,181.89 32,181.88 32.5,181.86 33,181.85 33.5,181.83 34,181.81 34.5,181.8 35,181.78 35.5,181.75 36,181.73 36.5,181.71 37,181.69 37.5,181.66 38,181.64 38.5,181.61 39,181.58 39.5,181.55 40,181.52 40.5,181.49 41,181.46 41.5,181.43 42,181.39 42.5,181.35 43,181.32 43.5,181.28 44,181.23 44.5,181.19 45,181.15 45.5,181.1 46,181.05 46.5,181 47,180.95 47.5,180.9 48,180.85 48.5,180.79 49,180.73 49.5,180.67 50,180.61 50.5,180.54 51,180.47 51.5,180.4 52,180.33 52.5,180.26 53,180.18 53.5,180.1 54,180.02 54.5,179.93 55,179.85 55.5,179.76 56,179.67 56.5,179.57 57,179.47 57.5,179.37 58,179.27 58.5,179.16 59,179.05 59.5,178.94 60,178.82 60.5,178.7 61,178.58 61.5,178.46 62,178.33 62.5,178.2 63,178.06 63.5,177.93 64,177.79 64.5,177.64 65,177.5 65.5,177.35 66,177.19 66.5,177.04 67,176.88 67.5,176.71 68,176.55 68.5,176.38 69,176.21 69.5,176.03 70,175.86 70.5,175.68 71,175.5 71.5,175.31 72,175.12 72.5,174.93 73,174.74 73.5,174.55 74,174.35 74.5,174.15 75,173.95 75.5,173.75 76,173.55 76.5,173.35 77,173.15 77.5,172.94 78,172.74 78.5,172.53 79,172.33 79.5,172.13 80,171.92 80.5,171.72 81,171.52 81.5,171.33 82,171.13 82.5,170.94 83,170.76 83.5,170.57 84,170.4 84.5,170.22 85,170.06 85.5,169.9 86,169.75 86.5,169.61 87,169.48 87.5,169.36 88,169.26 88.5,169.18 89,169.13 89.5,169.1 90,169.11 90.5,169.14 91,169.21 91.5,169.31 92,169.43 92.5,169.59 93,169.76 93.5,169.96 94,170.18 94.5,170.43 95,170.69 95.5,170.96 96,171.25 96.5,171.53 97,171.8 97.5,172.02 98,172.16 98.5,172.2 99,172.12 99.5,171.94 100,171.7 100.5,171.42 101,171.13 101.5,170.85 102,170.58 102.5,170.33 103,170.09 103.5,169.88 104,169.69 104.5,169.52 105,169.38 105.5,169.27 106,169.18 106.5,169.12 107,169.1 107.5,169.11 108,169.15 108.5,169.21 109,169.3 109.5,169.41 110,169.53 110.5,169.66 111,169.81 111.5,169.96 112,170.12 112.5,170.29 113,170.47 113.5,170.65 114,170.83 114.5,171.02 115,171.21 115.5,171.41 116,171.6 116.5,171.8 117,172.01 117.5,172.21 118,172.41 118.5,172.61 119,172.82 119.5,173.02 120,173.23 120.5,173.43 121,173.63 121.5,173.83 122,174.03 122.5,174.23 123,174.43 123.5,174.62 124,174.82 124.5,175.01 125,175.2 125.5,175.38 126,175.57 126.5,175.75 127,175.93 127.5,176.1 128,176.28 128.5,176.45 129,176.62 129.5,176.78 130,176.94 130.5,177.1 131,177.25 131.5,177.41 132,177.56 132.5,177.7 133,177.84 133.5,177.98 134,178.12 134.5,178.25 135,178.38 135.5,178.51 136,178.63 136.5,178.75 137,178.87 137.5,178.98 138,179.1 138.5,179.2 139,179.31 139.5,179.41 140,179.51 140.5,179.61 141,179.7 141.5,179.79 142,179.88 142.5,179.97 143,180.05 143.5,180.13 144,180.21 144.5,180.29 145,180.36 145.5,180.43 146,180.5 146.5,180.57 147,180.63 147.5,180.69 148,180.75 148.5,180.81 149,180.87 149.5,180.92 150,180.97 150.5,181.02 151,181.07 151.5,181.12 152,181.17 152.5,181.21 153,181.25 153.5,181.29 154,181.33 154.5,181.37 155,181.4 155.5,181.44 156,181.47 156.5,181.5 157,181.54 157.5,181.56 158,181.59 158.5,181.62 159,181.65 159.5,181.67 160,181.7 160.5,181.72 161,181.74 161.5,181.76 162,181.78 162.5,181.8 163,181.82 163.5,181.84 164,181.85 164.5,181.87 165,181.88" stroke="#62c6ec" stroke-width="1.4"/>
</g>
<rect x="31.5" y="120.5" width="133.8" height="62.9" fill="none" stroke="#555555" stroke-width="1.1"/>
<line x1="29.9" y1="129.9" x2="31.5" y2="129.9" stroke="#555555" stroke-width="0.8"/>
<line x1="29.9" y1="142.3" x2="31.5" y2="142.3" stroke="#555555" stroke-width="0.8"/>
<line x1="29.9" y1="154.7" x2="31.5" y2="154.7" stroke="#555555" stroke-width="0.8"/>
<line x1="29.9" y1="167.1" x2="31.5" y2="167.1" stroke="#555555" stroke-width="0.8"/>
<line x1="29.9" y1="179.5" x2="31.5" y2="179.5" stroke="#555555" stroke-width="0.8"/>
<line x1="98.4" y1="183.4" x2="98.4" y2="184.9" stroke="#555555" stroke-width="0.8"/>
<text x="98.7" y="118.1" font-size="7.1" text-anchor="middle" fill="#2a2a2a" stroke="#2a2a2a" stroke-width="0.07" >MB</text>
<text x="98.4" y="191.9" font-size="6.65" text-anchor="middle" fill="#2a2a2a" stroke="#2a2a2a" stroke-width="0.07" >center</text>
<svg x="0" y="0" width="497" height="550" overflow="visible"><clipPath id="cpbMT"><rect x="172.3" y="120.5" width="133.7" height="62.900000000000006"/></clipPath></svg>
<g clip-path="url(#cpbMT)" fill="none" stroke-linejoin="round">
<polyline points="172.25,172.56 172.75,172.53 173.25,172.49 173.75,172.45 174.25,172.4 174.75,172.35 175.25,172.29 175.75,172.24 176.25,172.18 176.75,172.12 177.25,172.06 177.75,172 178.25,171.94 178.75,171.88 179.25,171.81 179.75,171.74 180.25,171.67 180.75,171.6 181.25,171.53 181.75,171.45 182.25,171.38 182.75,171.3 183.25,171.22 183.75,171.13 184.25,171.05 184.75,170.96 185.25,170.87 185.75,170.77 186.25,170.67 186.75,170.57 187.25,170.47 187.75,170.37 188.25,170.26 188.75,170.14 189.25,170.03 189.75,169.91 190.25,169.78 190.75,169.66 191.25,169.53 191.75,169.39 192.25,169.25 192.75,169.1 193.25,168.95 193.75,168.8 194.25,168.64 194.75,168.47 195.25,168.3 195.75,168.12 196.25,167.94 196.75,167.75 197.25,167.55 197.75,167.35 198.25,167.14 198.75,166.92 199.25,166.69 199.75,166.46 200.25,166.21 200.75,165.96 201.25,165.7 201.75,165.42 202.25,165.14 202.75,164.84 203.25,164.53 203.75,164.21 204.25,163.88 204.75,163.54 205.25,163.18 205.75,162.8 206.25,162.41 206.75,162.01 207.25,161.59 207.75,161.15 208.25,160.69 208.75,160.21 209.25,159.71 209.75,159.2 210.25,158.66 210.75,158.09 211.25,157.51 211.75,156.9 212.25,156.26 212.75,155.6 213.25,154.91 213.75,154.19 214.25,153.44 214.75,152.67 215.25,151.86 215.75,151.02 216.25,150.15 216.75,149.25 217.25,148.32 217.75,147.36 218.25,146.37 218.75,145.34 219.25,144.29 219.75,143.21 220.25,142.11 220.75,140.98 221.25,139.84 221.75,138.68 222.25,137.51 222.75,136.33 223.25,135.16 223.75,134 224.25,132.85 224.75,131.72 225.25,130.63 225.75,129.58 226.25,128.58 226.75,127.64 227.25,126.78 227.75,125.99 228.25,125.31 228.75,124.73 229.25,124.28 229.75,124 230.25,123.9 230.75,124.02 231.25,124.38 231.75,124.98 232.25,125.82 232.75,126.89 233.25,128.19 233.75,129.7 234.25,131.41 234.75,133.3 235.25,135.37 235.75,137.59 236.25,139.95 236.75,142.39 237.25,144.83 237.75,147.11 238.25,149 238.75,150.2 239.25,150.5 239.75,149.82 240.25,148.31 240.75,146.23 241.25,143.85 241.75,141.4 242.25,138.98 242.75,136.67 243.25,134.51 243.75,132.5 244.25,130.68 244.75,129.05 245.25,127.62 245.75,126.42 246.25,125.43 246.75,124.69 247.25,124.19 247.75,123.93 248.25,123.9 248.75,124.08 249.25,124.44 249.75,124.95 250.25,125.58 250.75,126.32 251.25,127.15 251.75,128.06 252.25,129.04 252.75,130.08 253.25,131.17 253.75,132.29 254.25,133.45 254.75,134.62 255.25,135.81 255.75,137 256.25,138.2 256.75,139.38 257.25,140.56 257.75,141.71 258.25,142.85 258.75,143.96 259.25,145.05 259.75,146.11 260.25,147.13 260.75,148.13 261.25,149.1 261.75,150.03 262.25,150.93 262.75,151.81 263.25,152.64 263.75,153.45 264.25,154.23 264.75,154.98 265.25,155.7 265.75,156.39 266.25,157.05 266.75,157.68 267.25,158.3 267.75,158.88 268.25,159.44 268.75,159.98 269.25,160.5 269.75,161 270.25,161.48 270.75,161.94 271.25,162.38 271.75,162.8 272.25,163.2 272.75,163.59 273.25,163.97 273.75,164.33 274.25,164.67 274.75,165.01 275.25,165.33 275.75,165.63 276.25,165.93 276.75,166.21 277.25,166.49 277.75,166.75 278.25,167.01 278.75,167.25 279.25,167.49 279.75,167.72 280.25,167.93 280.75,168.15 281.25,168.35 281.75,168.55 282.25,168.74 282.75,168.92 283.25,169.1 283.75,169.27 284.25,169.44 284.75,169.6 285.25,169.75 285.75,169.91 286.25,170.05 286.75,170.19 287.25,170.33 287.75,170.46 288.25,170.59 288.75,170.71 289.25,170.83 289.75,170.95 290.25,171.06 290.75,171.17 291.25,171.28 291.75,171.38 292.25,171.48 292.75,171.58 293.25,171.67 293.75,171.77 294.25,171.86 294.75,171.94 295.25,172.03 295.75,172.11 296.25,172.19 296.75,172.27 297.25,172.34 297.75,172.42 298.25,172.49 298.75,172.56 299.25,172.63 299.75,172.69 300.25,172.76 300.75,172.82 301.25,172.88 301.75,172.94 302.25,173 302.75,173.06 303.25,173.11 303.75,173.16 304.25,173.21 304.75,173.26 305.25,173.3 305.75,173.33" stroke="#efde3e" stroke-width="1.4"/>
<polyline points="172.25,177.8 172.75,177.31 173.25,177.22 173.75,177.56 174.25,177.27 174.75,176.95 175.25,177.28 175.75,176.97 176.25,176.12 176.75,175.85 177.25,176.06 177.75,176.07 178.25,176.17 178.75,176.49 179.25,176.76 179.75,176.69 180.25,176.82 180.75,176.88 181.25,176.69 181.75,176.96 182.25,177.45 182.75,176.95 183.25,176.3 183.75,176.14 184.25,176.07 184.75,176.38 185.25,176.43 185.75,175.96 186.25,176.04 186.75,176.22 187.25,175.88 187.75,175.66 188.25,175.39 188.75,175.23 189.25,175.87 189.75,176.53 190.25,175.99 190.75,175.4 191.25,175.38 191.75,175.64 192.25,175.82 192.75,175.98 193.25,176.25 193.75,176 194.25,175.71 194.75,175.39 195.25,174.91 195.75,174.3 196.25,174.29 196.75,174.38 197.25,173.92 197.75,173.43 198.25,173.87 198.75,173.71 199.25,173.41 199.75,173.22 200.25,173.23 200.75,172.97 201.25,172.28 201.75,172.05 202.25,172.45 202.75,172.45 203.25,171.97 203.75,171.54 204.25,171.33 204.75,171.63 205.25,171.59 205.75,171.25 206.25,171.41 206.75,171.15 207.25,170.43 207.75,170.06 208.25,169.14 208.75,168.41 209.25,168.27 209.75,168.47 210.25,168.32 210.75,168.08 211.25,167.51 211.75,166.96 212.25,166.72 212.75,166.17 213.25,165.81 213.75,165.63 214.25,164.82 214.75,164.11 215.25,163.86 215.75,163.81 216.25,163.53 216.75,162.84 217.25,161.69 217.75,160.7 218.25,160.3 218.75,159.69 219.25,159.04 219.75,158.88 220.25,158.19 220.75,157.33 221.25,157.12 221.75,156.77 222.25,156.21 222.75,155.44 223.25,154.68 223.75,154.21 224.25,153.46 224.75,152.53 225.25,152.06 225.75,151.28 226.25,150.22 226.75,149.26 227.25,148.87 227.75,148.58 228.25,147.95 228.75,147.99 229.25,147.93 229.75,146.97 230.25,146.22 230.75,146.76 231.25,147.26 231.75,147.33 232.25,147.28 232.75,147.59 233.25,148.47 233.75,149.48 234.25,150.26 234.75,150.9 235.25,152.1 235.75,153.45 236.25,154.45 236.75,155.25 237.25,156.61 237.75,158.24 238.25,158.62 238.75,158.67 239.25,158.9 239.75,158.76 240.25,159 240.75,158.29 241.25,156.15 241.75,154.7 242.25,154.4 242.75,153.8 243.25,152.84 243.75,151.6 244.25,150.32 244.75,149.1 245.25,148.03 245.75,147.66 246.25,147.91 246.75,147.92 247.25,148.08 247.75,147.54 248.25,147.06 248.75,147.63 249.25,148.31 249.75,147.97 250.25,147.63 250.75,148.56 251.25,149.48 251.75,149.38 252.25,149.89 252.75,151.03 253.25,151.49 253.75,151.66 254.25,152.3 254.75,153.28 255.25,154.26 255.75,155.26 256.25,156.25 256.75,156.54 257.25,156.71 257.75,157.9 258.25,159.07 258.75,159.86 259.25,160.47 259.75,160.52 260.25,161.18 260.75,162 261.25,161.87 261.75,162.12 262.25,163.26 262.75,163.8 263.25,163.98 263.75,164.03 264.25,164.35 264.75,164.9 265.25,165.81 265.75,166.1 266.25,166.28 266.75,166.87 267.25,167.08 267.75,167.36 268.25,168.23 268.75,168.27 269.25,168.47 269.75,169.4 270.25,169.5 270.75,169.76 271.25,170.57 271.75,170.89 272.25,170.87 272.75,171.07 273.25,171.41 273.75,171.67 274.25,171.47 274.75,172.03 275.25,172.78 275.75,172.83 276.25,173.02 276.75,173.7 277.25,173.21 277.75,172.88 278.25,173.05 278.75,173.09 279.25,173.69 279.75,173.93 280.25,173.39 280.75,173.33 281.25,173.68 281.75,173.81 282.25,173.78 282.75,173.83 283.25,173.73 283.75,173.99 284.25,174.42 284.75,174.57 285.25,174.64 285.75,174.56 286.25,174.93 286.75,174.81 287.25,174.51 287.75,174.26 288.25,174.52 288.75,174.94 289.25,174.98 289.75,175.4 290.25,176.12 290.75,176.41 291.25,176.45 291.75,175.67 292.25,175.44 292.75,175.92 293.25,176.35 293.75,176.39 294.25,176.35 294.75,176.59 295.25,176.73 295.75,176.42 296.25,176.37 296.75,176.22 297.25,176.33 297.75,176.58 298.25,176.58 298.75,176.65 299.25,176.83 299.75,176.79 300.25,176.88 300.75,176.76 301.25,176.99 301.75,177.44 302.25,176.65 302.75,176.04 303.25,176.23 303.75,177.04 304.25,177.68 304.75,177.54 305.25,177.04 305.75,176.71" stroke="#3e3d70" stroke-width="1.15"/>
<polyline points="172.25,178.78 172.75,178.76 173.25,178.74 173.75,178.72 174.25,178.69 174.75,178.66 175.25,178.64 175.75,178.61 176.25,178.58 176.75,178.54 177.25,178.51 177.75,178.48 178.25,178.45 178.75,178.41 179.25,178.38 179.75,178.34 180.25,178.3 180.75,178.27 181.25,178.23 181.75,178.19 182.25,178.14 182.75,178.1 183.25,178.06 183.75,178.01 184.25,177.97 184.75,177.92 185.25,177.87 185.75,177.82 186.25,177.77 186.75,177.72 187.25,177.66 187.75,177.61 188.25,177.55 188.75,177.49 189.25,177.43 189.75,177.36 190.25,177.3 190.75,177.23 191.25,177.16 191.75,177.09 192.25,177.02 192.75,176.94 193.25,176.86 193.75,176.78 194.25,176.7 194.75,176.61 195.25,176.52 195.75,176.43 196.25,176.33 196.75,176.23 197.25,176.13 197.75,176.02 198.25,175.91 198.75,175.8 199.25,175.68 199.75,175.56 200.25,175.43 200.75,175.3 201.25,175.17 201.75,175.03 202.25,174.88 202.75,174.73 203.25,174.57 203.75,174.41 204.25,174.24 204.75,174.07 205.25,173.88 205.75,173.7 206.25,173.5 206.75,173.3 207.25,173.08 207.75,172.86 208.25,172.64 208.75,172.4 209.25,172.15 209.75,171.9 210.25,171.63 210.75,171.35 211.25,171.07 211.75,170.77 212.25,170.46 212.75,170.14 213.25,169.81 213.75,169.47 214.25,169.11 214.75,168.74 215.25,168.36 215.75,167.97 216.25,167.56 216.75,167.14 217.25,166.71 217.75,166.27 218.25,165.82 218.75,165.35 219.25,164.88 219.75,164.39 220.25,163.9 220.75,163.4 221.25,162.9 221.75,162.4 222.25,161.89 222.75,161.38 223.25,160.88 223.75,160.39 224.25,159.9 224.75,159.43 225.25,158.97 225.75,158.54 226.25,158.13 226.75,157.74 227.25,157.39 227.75,157.07 228.25,156.79 228.75,156.56 229.25,156.38 229.75,156.25 230.25,156.2 230.75,156.22 231.25,156.32 231.75,156.49 232.25,156.74 232.75,157.06 233.25,157.45 233.75,157.9 234.25,158.41 234.75,158.97 235.25,159.59 235.75,160.25 236.25,160.95 236.75,161.68 237.25,162.41 237.75,163.09 238.25,163.65 238.75,164.01 239.25,164.1 239.75,163.9 240.25,163.45 240.75,162.83 241.25,162.12 241.75,161.39 242.25,160.67 242.75,159.98 243.25,159.33 243.75,158.74 244.25,158.19 244.75,157.71 245.25,157.28 245.75,156.92 246.25,156.63 246.75,156.41 247.25,156.27 247.75,156.2 248.25,156.21 248.75,156.29 249.25,156.44 249.75,156.64 250.25,156.9 250.75,157.19 251.25,157.52 251.75,157.89 252.25,158.29 252.75,158.71 253.25,159.15 253.75,159.61 254.25,160.09 254.75,160.58 255.25,161.08 255.75,161.58 256.25,162.09 256.75,162.6 257.25,163.1 257.75,163.6 258.25,164.1 258.75,164.59 259.25,165.07 259.75,165.54 260.25,166 260.75,166.45 261.25,166.88 261.75,167.31 262.25,167.72 262.75,168.12 263.25,168.51 263.75,168.89 264.25,169.25 264.75,169.6 265.25,169.94 265.75,170.27 266.25,170.58 266.75,170.89 267.25,171.18 267.75,171.46 268.25,171.74 268.75,172 269.25,172.25 269.75,172.49 270.25,172.73 270.75,172.95 271.25,173.17 271.75,173.38 272.25,173.58 272.75,173.77 273.25,173.96 273.75,174.14 274.25,174.31 274.75,174.48 275.25,174.64 275.75,174.79 276.25,174.94 276.75,175.08 277.25,175.22 277.75,175.36 278.25,175.48 278.75,175.61 279.25,175.73 279.75,175.85 280.25,175.96 280.75,176.07 281.25,176.17 281.75,176.27 282.25,176.37 282.75,176.46 283.25,176.56 283.75,176.64 284.25,176.73 284.75,176.81 285.25,176.89 285.75,176.97 286.25,177.05 286.75,177.12 287.25,177.19 287.75,177.26 288.25,177.33 288.75,177.39 289.25,177.45 289.75,177.51 290.25,177.57 290.75,177.63 291.25,177.68 291.75,177.74 292.25,177.79 292.75,177.84 293.25,177.89 293.75,177.94 294.25,177.99 294.75,178.03 295.25,178.08 295.75,178.12 296.25,178.16 296.75,178.2 297.25,178.24 297.75,178.28 298.25,178.32 298.75,178.36 299.25,178.39 299.75,178.43 300.25,178.46 300.75,178.49 301.25,178.53 301.75,178.56 302.25,178.59 302.75,178.62 303.25,178.65 303.75,178.67 304.25,178.7 304.75,178.73 305.25,178.75 305.75,178.76" stroke="#62c6ec" stroke-width="1.4"/>
</g>
<rect x="172.3" y="120.5" width="133.7" height="62.9" fill="none" stroke="#555555" stroke-width="1.1"/>
<line x1="170.70000000000002" y1="129.9" x2="172.3" y2="129.9" stroke="#555555" stroke-width="0.8"/>
<line x1="170.70000000000002" y1="142.3" x2="172.3" y2="142.3" stroke="#555555" stroke-width="0.8"/>
<line x1="170.70000000000002" y1="154.7" x2="172.3" y2="154.7" stroke="#555555" stroke-width="0.8"/>
<line x1="170.70000000000002" y1="167.1" x2="172.3" y2="167.1" stroke="#555555" stroke-width="0.8"/>
<line x1="170.70000000000002" y1="179.5" x2="172.3" y2="179.5" stroke="#555555" stroke-width="0.8"/>
<line x1="239.15" y1="183.4" x2="239.15" y2="184.9" stroke="#555555" stroke-width="0.8"/>
<text x="239.45" y="118.1" font-size="7.1" text-anchor="middle" fill="#2a2a2a" stroke="#2a2a2a" stroke-width="0.07" >MT</text>
<text x="239.15" y="191.9" font-size="6.65" text-anchor="middle" fill="#2a2a2a" stroke="#2a2a2a" stroke-width="0.07" >center</text>
<text x="28.6" y="132.4" font-size="7.2" text-anchor="end" fill="#2a2a2a" stroke="#2a2a2a" stroke-width="0.07" >25</text>
<text x="28.6" y="144.8" font-size="7.2" text-anchor="end" fill="#2a2a2a" stroke="#2a2a2a" stroke-width="0.07" >20</text>
<text x="28.6" y="157.2" font-size="7.2" text-anchor="end" fill="#2a2a2a" stroke="#2a2a2a" stroke-width="0.07" >15</text>
<text x="28.6" y="169.6" font-size="7.2" text-anchor="end" fill="#2a2a2a" stroke="#2a2a2a" stroke-width="0.07" >10</text>
<text x="28.6" y="182" font-size="7.2" text-anchor="end" fill="#2a2a2a" stroke="#2a2a2a" stroke-width="0.07" >5</text>
<text x="28" y="191.9" font-size="6.65" text-anchor="start" fill="#2a2a2a" stroke="#2a2a2a" stroke-width="0.07" >-3.0kb</text>
<text x="165.6" y="191.9" font-size="6.65" text-anchor="end" fill="#2a2a2a" stroke="#2a2a2a" stroke-width="0.07" >3.0</text>
<text x="168.2" y="191.9" font-size="6.65" text-anchor="start" fill="#2a2a2a" stroke="#2a2a2a" stroke-width="0.07" >-3.0</text>
<text x="306.6" y="191.9" font-size="6.65" text-anchor="end" fill="#2a2a2a" stroke="#2a2a2a" stroke-width="0.07" >3.0</text>
<line x1="33.6" y1="125.6" x2="42.8" y2="125.6" stroke="#efde3e" stroke-width="1.5"/>
<text x="45.6" y="128" font-size="6.65" text-anchor="start" fill="#2a2a2a" stroke="#2a2a2a" stroke-width="0.07" >KLF5+/MYOG+</text>
<line x1="33.6" y1="134" x2="42.8" y2="134" stroke="#3e3d70" stroke-width="1.5"/>
<text x="45.6" y="136.4" font-size="6.65" text-anchor="start" fill="#2a2a2a" stroke="#2a2a2a" stroke-width="0.07" >KLF5+/MYOG–</text>
<line x1="33.6" y1="142.4" x2="42.8" y2="142.4" stroke="#62c6ec" stroke-width="1.5"/>
<text x="45.6" y="144.8" font-size="6.65" text-anchor="start" fill="#2a2a2a" stroke="#2a2a2a" stroke-width="0.07" >KLF5–/MYOG+</text>
<text x="10.6" y="212.6" font-size="12.3" text-anchor="start" fill="#333" stroke="#333" stroke-width="0.3" >c</text>
<svg x="0" y="0" width="497" height="550" overflow="visible"><clipPath id="cpcMB"><rect x="31.5" y="218.1" width="133.8" height="63.20000000000002"/></clipPath></svg>
<g clip-path="url(#cpcMB)" fill="none" stroke-linejoin="round">
<polyline points="31.5,276.39 32,276.39 32.5,276.38 33,276.37 33.5,276.36 34,276.35 34.5,276.33 35,276.32 35.5,276.31 36,276.29 36.5,276.27 37,276.26 37.5,276.24 38,276.22 38.5,276.2 39,276.17 39.5,276.15 40,276.13 40.5,276.1 41,276.07 41.5,276.04 42,276.01 42.5,275.97 43,275.94 43.5,275.9 44,275.86 44.5,275.81 45,275.77 45.5,275.72 46,275.67 46.5,275.61 47,275.55 47.5,275.49 48,275.43 48.5,275.36 49,275.29 49.5,275.21 50,275.13 50.5,275.05 51,274.96 51.5,274.86 52,274.77 52.5,274.66 53,274.55 53.5,274.44 54,274.32 54.5,274.19 55,274.06 55.5,273.92 56,273.77 56.5,273.62 57,273.46 57.5,273.29 58,273.12 58.5,272.93 59,272.74 59.5,272.54 60,272.33 60.5,272.11 61,271.88 61.5,271.65 62,271.4 62.5,271.14 63,270.87 63.5,270.59 64,270.3 64.5,270 65,269.69 65.5,269.37 66,269.03 66.5,268.68 67,268.32 67.5,267.95 68,267.57 68.5,267.17 69,266.76 69.5,266.34 70,265.91 70.5,265.46 71,265 71.5,264.53 72,264.04 72.5,263.55 73,263.04 73.5,262.52 74,261.99 74.5,261.44 75,260.89 75.5,260.33 76,259.75 76.5,259.17 77,258.58 77.5,257.98 78,257.37 78.5,256.76 79,256.14 79.5,255.52 80,254.9 80.5,254.27 81,253.65 81.5,253.02 82,252.4 82.5,251.79 83,251.18 83.5,250.58 84,249.99 84.5,249.42 85,248.86 85.5,248.33 86,247.82 86.5,247.34 87,246.89 87.5,246.49 88,246.15 88.5,245.87 89,245.69 89.5,245.6 90,245.62 90.5,245.76 91,246.02 91.5,246.38 92,246.84 92.5,247.39 93,248.04 93.5,248.78 94,249.59 94.5,250.48 95,251.44 95.5,252.46 96,253.51 96.5,254.56 97,255.54 97.5,256.35 98,256.87 98.5,257 99,256.71 99.5,256.06 100,255.16 100.5,254.14 101,253.08 101.5,252.04 102,251.05 102.5,250.12 103,249.26 103.5,248.47 104,247.77 104.5,247.16 105,246.64 105.5,246.22 106,245.9 106.5,245.69 107,245.6 107.5,245.62 108,245.75 108.5,245.97 109,246.28 109.5,246.65 110,247.07 110.5,247.53 111,248.02 111.5,248.54 112,249.08 112.5,249.65 113,250.23 113.5,250.82 114,251.42 114.5,252.03 115,252.65 115.5,253.27 116,253.9 116.5,254.52 117,255.15 117.5,255.77 118,256.39 118.5,257.01 119,257.62 119.5,258.22 120,258.82 120.5,259.4 121,259.98 121.5,260.55 122,261.11 122.5,261.66 123,262.2 123.5,262.73 124,263.24 124.5,263.75 125,264.24 125.5,264.72 126,265.19 126.5,265.64 127,266.08 127.5,266.51 128,266.93 128.5,267.33 129,267.72 129.5,268.1 130,268.47 130.5,268.82 131,269.17 131.5,269.5 132,269.82 132.5,270.12 133,270.42 133.5,270.71 134,270.98 134.5,271.24 135,271.5 135.5,271.74 136,271.98 136.5,272.2 137,272.41 137.5,272.62 138,272.82 138.5,273.01 139,273.19 139.5,273.36 140,273.52 140.5,273.68 141,273.83 141.5,273.98 142,274.11 142.5,274.24 143,274.37 143.5,274.49 144,274.6 144.5,274.7 145,274.81 145.5,274.9 146,274.99 146.5,275.08 147,275.16 147.5,275.24 148,275.32 148.5,275.39 149,275.45 149.5,275.52 150,275.58 150.5,275.63 151,275.69 151.5,275.74 152,275.78 152.5,275.83 153,275.87 153.5,275.91 154,275.95 154.5,275.99 155,276.02 155.5,276.05 156,276.08 156.5,276.11 157,276.14 157.5,276.16 158,276.18 158.5,276.21 159,276.23 159.5,276.25 160,276.26 160.5,276.28 161,276.3 161.5,276.31 162,276.33 162.5,276.34 163,276.35 163.5,276.36 164,276.37 164.5,276.38 165,276.39" stroke="#efde3e" stroke-width="1.4"/>
<polyline points="31.5,276.6 32,276.65 32.5,276.76 33,277.01 33.5,277.05 34,276.73 34.5,276.84 35,277.04 35.5,277.08 36,277.13 36.5,277.11 37,277.02 37.5,276.93 38,276.99 38.5,276.88 39,276.47 39.5,276.59 40,276.55 40.5,276.34 41,276.1 41.5,275.97 42,276.17 42.5,276.42 43,276.45 43.5,276.5 44,276.77 44.5,276.72 45,276.31 45.5,276.08 46,275.92 46.5,275.78 47,275.78 47.5,275.81 48,275.53 48.5,275.31 49,275.28 49.5,275.26 50,275.56 50.5,275.87 51,275.63 51.5,275.18 52,274.81 52.5,274.62 53,274.79 53.5,275.06 54,275.06 54.5,274.91 55,274.77 55.5,274.86 56,274.81 56.5,274.32 57,274.02 57.5,273.94 58,273.87 58.5,273.48 59,273.04 59.5,272.86 60,272.84 60.5,273.34 61,273.47 61.5,272.96 62,272.77 62.5,272.57 63,272.07 63.5,271.92 64,271.77 64.5,271.85 65,271.76 65.5,271.29 66,271.16 66.5,271.1 67,270.71 67.5,270.63 68,270.59 68.5,270.32 69,270.06 69.5,269.63 70,269.14 70.5,269.46 71,269.61 71.5,269.05 72,268.38 72.5,267.66 73,267.22 73.5,266.91 74,266.69 74.5,266.62 75,266.12 75.5,265.5 76,265.13 76.5,264.97 77,264.86 77.5,264.37 78,264.17 78.5,264.1 79,263.29 79.5,262.63 80,262.57 80.5,262.81 81,262.77 81.5,261.89 82,261.23 82.5,261.07 83,260.97 83.5,260.67 84,260.68 84.5,260.59 85,260.06 85.5,259.7 86,259.7 86.5,259.29 87,258.78 87.5,258.59 88,258.25 88.5,257.93 89,257.93 89.5,257.77 90,257.51 90.5,257.44 91,257.98 91.5,258.98 92,259.53 92.5,259.76 93,260.06 93.5,260.34 94,260.91 94.5,261.6 95,262.04 95.5,262.83 96,263.83 96.5,264.52 97,265.17 97.5,265.93 98,266.43 98.5,266.68 99,266.34 99.5,265.73 100,265.09 100.5,264.26 101,263.34 101.5,262.79 102,262.31 102.5,261.81 103,260.95 103.5,259.9 104,259.34 104.5,259.06 105,258.76 105.5,258.44 106,258.21 106.5,258.33 107,258.11 107.5,258.02 108,258.5 108.5,258.66 109,258.67 109.5,258.78 110,258.92 110.5,259.3 111,259.33 111.5,259.36 112,259.52 112.5,259.88 113,260.38 113.5,260.72 114,260.97 114.5,260.89 115,260.83 115.5,261.48 116,262.02 116.5,262.8 117,263.49 117.5,263.65 118,263.7 118.5,263.99 119,264.26 119.5,264.48 120,264.7 120.5,265.2 121,265.79 121.5,266.12 122,266.44 122.5,266.62 123,266.84 123.5,267.23 124,267.74 124.5,268.07 125,268.17 125.5,268.24 126,268.73 126.5,269.25 127,269.37 127.5,269.63 128,270.26 128.5,270.56 129,270.55 129.5,270.86 130,271.39 130.5,271.5 131,271.44 131.5,271.42 132,271.24 132.5,271.44 133,272.04 133.5,272.38 134,272.29 134.5,272.17 135,272.23 135.5,272.53 136,272.85 136.5,273.45 137,274.19 137.5,274.48 138,274.16 138.5,273.74 139,273.36 139.5,273.32 140,273.86 140.5,274.49 141,274.88 141.5,274.98 142,274.99 142.5,275.19 143,275.44 143.5,275.49 144,275.13 144.5,275 145,275.32 145.5,275.96 146,276.23 146.5,275.93 147,275.62 147.5,275.77 148,275.93 148.5,275.98 149,276.04 149.5,276.09 150,276.17 150.5,276.39 151,276.44 151.5,276.29 152,276.26 152.5,276.4 153,276.58 153.5,276.53 154,276.54 154.5,276.38 155,276.33 155.5,276.53 156,276.6 156.5,276.77 157,276.71 157.5,276.24 158,276.3 158.5,276.41 159,276.27 159.5,276.43 160,276.72 160.5,276.81 161,276.84 161.5,276.83 162,276.88 162.5,276.78 163,276.92 163.5,277.12 164,277.01 164.5,276.78 165,276.69" stroke="#3e3d70" stroke-width="1.15"/>
<polyline points="31.5,279.99 32,279.98 32.5,279.97 33,279.96 33.5,279.94 34,279.93 34.5,279.91 35,279.89 35.5,279.87 36,279.85 36.5,279.83 37,279.81 37.5,279.79 38,279.76 38.5,279.74 39,279.71 39.5,279.68 40,279.66 40.5,279.63 41,279.59 41.5,279.56 42,279.53 42.5,279.49 43,279.45 43.5,279.41 44,279.37 44.5,279.33 45,279.28 45.5,279.24 46,279.19 46.5,279.14 47,279.08 47.5,279.03 48,278.97 48.5,278.91 49,278.85 49.5,278.78 50,278.72 50.5,278.64 51,278.57 51.5,278.5 52,278.42 52.5,278.33 53,278.25 53.5,278.16 54,278.07 54.5,277.97 55,277.87 55.5,277.77 56,277.67 56.5,277.56 57,277.44 57.5,277.33 58,277.2 58.5,277.08 59,276.95 59.5,276.82 60,276.68 60.5,276.54 61,276.39 61.5,276.24 62,276.08 62.5,275.92 63,275.76 63.5,275.59 64,275.41 64.5,275.24 65,275.05 65.5,274.86 66,274.67 66.5,274.47 67,274.27 67.5,274.06 68,273.85 68.5,273.63 69,273.41 69.5,273.18 70,272.95 70.5,272.72 71,272.48 71.5,272.23 72,271.99 72.5,271.73 73,271.48 73.5,271.22 74,270.96 74.5,270.69 75,270.42 75.5,270.15 76,269.87 76.5,269.6 77,269.32 77.5,269.04 78,268.76 78.5,268.48 79,268.19 79.5,267.91 80,267.63 80.5,267.35 81,267.07 81.5,266.79 82,266.52 82.5,266.25 83,265.99 83.5,265.73 84,265.47 84.5,265.23 85,264.99 85.5,264.77 86,264.55 86.5,264.35 87,264.16 87.5,263.99 88,263.85 88.5,263.73 89,263.65 89.5,263.6 90,263.6 90.5,263.63 91,263.7 91.5,263.81 92,263.94 92.5,264.1 93,264.29 93.5,264.51 94,264.74 94.5,265 95,265.28 95.5,265.58 96,265.88 96.5,266.19 97,266.47 97.5,266.71 98,266.86 98.5,266.9 99,266.82 99.5,266.63 100,266.37 100.5,266.07 101,265.76 101.5,265.46 102,265.17 102.5,264.9 103,264.65 103.5,264.42 104,264.22 104.5,264.04 105,263.89 105.5,263.77 106,263.67 106.5,263.62 107,263.6 107.5,263.62 108,263.68 108.5,263.78 109,263.91 109.5,264.06 110,264.24 110.5,264.43 111,264.64 111.5,264.86 112,265.09 112.5,265.33 113,265.58 113.5,265.83 114,266.09 114.5,266.36 115,266.63 115.5,266.91 116,267.18 116.5,267.46 117,267.74 117.5,268.03 118,268.31 118.5,268.59 119,268.87 119.5,269.15 120,269.43 120.5,269.71 121,269.99 121.5,270.26 122,270.53 122.5,270.8 123,271.06 123.5,271.33 124,271.58 124.5,271.84 125,272.09 125.5,272.33 126,272.58 126.5,272.81 127,273.05 127.5,273.28 128,273.5 128.5,273.72 129,273.94 129.5,274.15 130,274.35 130.5,274.55 131,274.75 131.5,274.94 132,275.13 132.5,275.31 133,275.48 133.5,275.66 134,275.82 134.5,275.99 135,276.15 135.5,276.3 136,276.45 136.5,276.59 137,276.73 137.5,276.87 138,277 138.5,277.13 139,277.25 139.5,277.37 140,277.49 140.5,277.6 141,277.71 141.5,277.81 142,277.91 142.5,278.01 143,278.11 143.5,278.2 144,278.28 144.5,278.37 145,278.45 145.5,278.53 146,278.6 146.5,278.67 147,278.74 147.5,278.81 148,278.87 148.5,278.94 149,278.99 149.5,279.05 150,279.11 150.5,279.16 151,279.21 151.5,279.26 152,279.3 152.5,279.35 153,279.39 153.5,279.43 154,279.47 154.5,279.51 155,279.54 155.5,279.57 156,279.61 156.5,279.64 157,279.67 157.5,279.7 158,279.72 158.5,279.75 159,279.77 159.5,279.8 160,279.82 160.5,279.84 161,279.86 161.5,279.88 162,279.9 162.5,279.92 163,279.93 163.5,279.95 164,279.96 164.5,279.97 165,279.98" stroke="#62c6ec" stroke-width="1.4"/>
</g>
<rect x="31.5" y="218.1" width="133.8" height="63.2" fill="none" stroke="#555555" stroke-width="1.1"/>
<line x1="29.9" y1="218.4" x2="31.5" y2="218.4" stroke="#555555" stroke-width="0.8"/>
<line x1="29.9" y1="230.1" x2="31.5" y2="230.1" stroke="#555555" stroke-width="0.8"/>
<line x1="29.9" y1="241.8" x2="31.5" y2="241.8" stroke="#555555" stroke-width="0.8"/>
<line x1="29.9" y1="253.5" x2="31.5" y2="253.5" stroke="#555555" stroke-width="0.8"/>
<line x1="29.9" y1="265.2" x2="31.5" y2="265.2" stroke="#555555" stroke-width="0.8"/>
<line x1="29.9" y1="276.9" x2="31.5" y2="276.9" stroke="#555555" stroke-width="0.8"/>
<line x1="98.4" y1="281.3" x2="98.4" y2="282.8" stroke="#555555" stroke-width="0.8"/>
<text x="98.7" y="215.7" font-size="7.1" text-anchor="middle" fill="#2a2a2a" stroke="#2a2a2a" stroke-width="0.07" >MB</text>
<text x="98.4" y="288.4" font-size="6.65" text-anchor="middle" fill="#2a2a2a" stroke="#2a2a2a" stroke-width="0.07" >center</text>
<svg x="0" y="0" width="497" height="550" overflow="visible"><clipPath id="cpcMT"><rect x="172.3" y="218.1" width="133.7" height="63.20000000000002"/></clipPath></svg>
<g clip-path="url(#cpcMT)" fill="none" stroke-linejoin="round">
<polyline points="172.25,270.66 172.75,270.63 173.25,270.59 173.75,270.55 174.25,270.5 174.75,270.44 175.25,270.39 175.75,270.33 176.25,270.28 176.75,270.22 177.25,270.16 177.75,270.09 178.25,270.03 178.75,269.97 179.25,269.9 179.75,269.83 180.25,269.76 180.75,269.69 181.25,269.61 181.75,269.54 182.25,269.46 182.75,269.38 183.25,269.29 183.75,269.21 184.25,269.12 184.75,269.03 185.25,268.94 185.75,268.84 186.25,268.74 186.75,268.64 187.25,268.54 187.75,268.43 188.25,268.32 188.75,268.2 189.25,268.09 189.75,267.96 190.25,267.84 190.75,267.71 191.25,267.58 191.75,267.44 192.25,267.3 192.75,267.15 193.25,267 193.75,266.84 194.25,266.68 194.75,266.51 195.25,266.33 195.75,266.15 196.25,265.97 196.75,265.77 197.25,265.57 197.75,265.37 198.25,265.15 198.75,264.93 199.25,264.7 199.75,264.46 200.25,264.21 200.75,263.95 201.25,263.69 201.75,263.41 202.25,263.12 202.75,262.82 203.25,262.51 203.75,262.18 204.25,261.84 204.75,261.49 205.25,261.13 205.75,260.75 206.25,260.35 206.75,259.94 207.25,259.51 207.75,259.06 208.25,258.6 208.75,258.11 209.25,257.61 209.75,257.08 210.25,256.53 210.75,255.96 211.25,255.37 211.75,254.75 212.25,254.1 212.75,253.43 213.25,252.73 213.75,252 214.25,251.24 214.75,250.45 215.25,249.63 215.75,248.78 216.25,247.9 216.75,246.98 217.25,246.03 217.75,245.06 218.25,244.05 218.75,243.01 219.25,241.94 219.75,240.84 220.25,239.72 220.75,238.58 221.25,237.41 221.75,236.24 222.25,235.05 222.75,233.86 223.25,232.66 223.75,231.48 224.25,230.31 224.75,229.17 225.25,228.06 225.75,226.99 226.25,225.98 226.75,225.03 227.25,224.15 227.75,223.35 228.25,222.65 228.75,222.06 229.25,221.61 229.75,221.31 230.25,221.2 230.75,221.3 231.25,221.63 231.75,222.18 232.25,222.97 232.75,223.97 233.25,225.18 233.75,226.59 234.25,228.18 234.75,229.95 235.25,231.88 235.75,233.95 236.25,236.15 236.75,238.43 237.25,240.7 237.75,242.84 238.25,244.6 238.75,245.72 239.25,246 239.75,245.37 240.25,243.96 240.75,242.01 241.25,239.8 241.75,237.5 242.25,235.25 242.75,233.09 243.25,231.07 243.75,229.2 244.25,227.5 244.75,225.98 245.25,224.65 245.75,223.52 246.25,222.61 246.75,221.91 247.25,221.45 247.75,221.21 248.25,221.2 248.75,221.39 249.25,221.75 249.75,222.26 250.25,222.9 250.75,223.64 251.25,224.47 251.75,225.38 252.25,226.36 252.75,227.39 253.25,228.48 253.75,229.6 254.25,230.76 254.75,231.93 255.25,233.12 255.75,234.32 256.25,235.51 256.75,236.69 257.25,237.87 257.75,239.02 258.25,240.16 258.75,241.27 259.25,242.36 259.75,243.41 260.25,244.44 260.75,245.44 261.25,246.4 261.75,247.34 262.25,248.24 262.75,249.11 263.25,249.95 263.75,250.76 264.25,251.54 264.75,252.28 265.25,253 265.75,253.69 266.25,254.35 266.75,254.99 267.25,255.6 267.75,256.19 268.25,256.75 268.75,257.29 269.25,257.81 269.75,258.3 270.25,258.78 270.75,259.24 271.25,259.68 271.75,260.1 272.25,260.51 272.75,260.9 273.25,261.27 273.75,261.63 274.25,261.98 274.75,262.31 275.25,262.63 275.75,262.94 276.25,263.23 276.75,263.52 277.25,263.79 277.75,264.05 278.25,264.31 278.75,264.55 279.25,264.79 279.75,265.02 280.25,265.24 280.75,265.45 281.25,265.65 281.75,265.85 282.25,266.04 282.75,266.22 283.25,266.4 283.75,266.57 284.25,266.74 284.75,266.9 285.25,267.06 285.75,267.21 286.25,267.35 286.75,267.49 287.25,267.63 287.75,267.76 288.25,267.89 288.75,268.01 289.25,268.13 289.75,268.25 290.25,268.36 290.75,268.47 291.25,268.58 291.75,268.68 292.25,268.78 292.75,268.88 293.25,268.97 293.75,269.07 294.25,269.16 294.75,269.24 295.25,269.33 295.75,269.41 296.25,269.49 296.75,269.57 297.25,269.64 297.75,269.72 298.25,269.79 298.75,269.86 299.25,269.93 299.75,269.99 300.25,270.06 300.75,270.12 301.25,270.18 301.75,270.24 302.25,270.3 302.75,270.36 303.25,270.41 303.75,270.46 304.25,270.51 304.75,270.56 305.25,270.6 305.75,270.63" stroke="#efde3e" stroke-width="1.4"/>
<polyline points="172.25,272.59 172.75,272.5 173.25,272.46 173.75,272.47 174.25,272.51 174.75,272.19 175.25,272.02 175.75,272.22 176.25,272.65 176.75,272.94 177.25,273.13 177.75,273.07 178.25,272.88 178.75,272.65 179.25,272.78 179.75,273.33 180.25,273.25 180.75,272.61 181.25,272.28 181.75,272.25 182.25,271.96 182.75,272.05 183.25,272.43 183.75,272.37 184.25,272.24 184.75,272.23 185.25,272 185.75,271.9 186.25,271.66 186.75,271.48 187.25,271.51 187.75,271.68 188.25,271.8 188.75,271.78 189.25,271.73 189.75,271.43 190.25,271.1 190.75,270.82 191.25,270.74 191.75,271.12 192.25,271.09 192.75,270.89 193.25,270.94 193.75,270.72 194.25,270.61 194.75,270.89 195.25,270.55 195.75,270.27 196.25,270.68 196.75,270.66 197.25,270.1 197.75,269.59 198.25,269.36 198.75,269.48 199.25,269.67 199.75,269.48 200.25,269.16 200.75,269.38 201.25,269.62 201.75,269.2 202.25,269.07 202.75,269.23 203.25,269.1 203.75,268.61 204.25,268.05 204.75,267.62 205.25,267.41 205.75,267.45 206.25,267.47 206.75,267.42 207.25,267.26 207.75,266.98 208.25,266.49 208.75,265.86 209.25,265.41 209.75,265.41 210.25,265.28 210.75,265.09 211.25,264.88 211.75,264.34 212.25,264 212.75,264.05 213.25,263.76 213.75,263.28 214.25,263.01 214.75,262.45 215.25,261.83 215.75,261.71 216.25,261.56 216.75,260.88 217.25,260.57 217.75,260.31 218.25,259.59 218.75,258.8 219.25,258.4 219.75,257.7 220.25,256.77 220.75,256.29 221.25,255.84 221.75,255.18 222.25,254.67 222.75,254.06 223.25,253.07 223.75,252.48 224.25,252.18 224.75,251.88 225.25,251.11 225.75,250.28 226.25,249.89 226.75,249.77 227.25,249.18 227.75,248.42 228.25,247.92 228.75,247.6 229.25,247.08 229.75,247.23 230.25,247.65 230.75,247.56 231.25,247.58 231.75,248.28 232.25,248.89 232.75,249.19 233.25,249.4 233.75,250.17 234.25,251.13 234.75,251.65 235.25,252.56 235.75,254.07 236.25,255.21 236.75,255.53 237.25,256.1 237.75,257.4 238.25,258.78 238.75,259.72 239.25,260.22 239.75,259.78 240.25,258.98 240.75,257.99 241.25,256.68 241.75,255.48 242.25,254.74 242.75,254.19 243.25,252.84 243.75,251.14 244.25,250.04 244.75,249.24 245.25,248.36 245.75,247.99 246.25,247.84 246.75,247.76 247.25,247.28 247.75,246.83 248.25,246.62 248.75,246.88 249.25,247.37 249.75,248.06 250.25,248.54 250.75,248.89 251.25,249.36 251.75,249.76 252.25,249.95 252.75,250.03 253.25,250.78 253.75,252.05 254.25,252.92 254.75,253.35 255.25,253.81 255.75,254.24 256.25,254.84 256.75,255.57 257.25,256.46 257.75,257 258.25,257.35 258.75,257.98 259.25,258.78 259.75,259.26 260.25,259.84 260.75,260.6 261.25,260.98 261.75,261.49 262.25,262.34 262.75,262.85 263.25,262.98 263.75,263.18 264.25,263.36 264.75,263.43 265.25,263.86 265.75,264.53 266.25,264.82 266.75,265.22 267.25,265.37 267.75,265.62 268.25,266.21 268.75,266.75 269.25,267.34 269.75,267.82 270.25,267.98 270.75,268.01 271.25,268.09 271.75,268.41 272.25,268.52 272.75,268.45 273.25,268.62 273.75,268.93 274.25,269.24 274.75,269.43 275.25,269.33 275.75,269.54 276.25,269.77 276.75,269.67 277.25,270.09 277.75,270.42 278.25,269.96 278.75,270.19 279.25,270.59 279.75,270.87 280.25,271.07 280.75,270.93 281.25,271.38 281.75,271.98 282.25,271.78 282.75,271.54 283.25,271.52 283.75,271.57 284.25,271.71 284.75,271.67 285.25,271.83 285.75,272.08 286.25,271.82 286.75,271.89 287.25,272 287.75,272.1 288.25,272.51 288.75,272.45 289.25,272.12 289.75,272.24 290.25,272.33 290.75,272.49 291.25,272.68 291.75,272.91 292.25,273.02 292.75,273.09 293.25,273.27 293.75,273.36 294.25,273.28 294.75,273.05 295.25,272.77 295.75,272.89 296.25,273.32 296.75,273.88 297.25,274.22 297.75,274.06 298.25,273.62 298.75,273.53 299.25,273.66 299.75,273.93 300.25,274.21 300.75,274.06 301.25,273.63 301.75,273.69 302.25,274.06 302.75,274.09 303.25,274.02 303.75,274.14 304.25,273.94 304.75,273.74 305.25,273.53 305.75,273.33" stroke="#3e3d70" stroke-width="1.15"/>
<polyline points="172.25,276.38 172.75,276.36 173.25,276.34 173.75,276.32 174.25,276.3 174.75,276.27 175.25,276.24 175.75,276.21 176.25,276.18 176.75,276.15 177.25,276.12 177.75,276.09 178.25,276.06 178.75,276.03 179.25,275.99 179.75,275.96 180.25,275.92 180.75,275.88 181.25,275.85 181.75,275.81 182.25,275.77 182.75,275.73 183.25,275.68 183.75,275.64 184.25,275.59 184.75,275.55 185.25,275.5 185.75,275.45 186.25,275.4 186.75,275.35 187.25,275.3 187.75,275.24 188.25,275.19 188.75,275.13 189.25,275.07 189.75,275 190.25,274.94 190.75,274.87 191.25,274.81 191.75,274.74 192.25,274.66 192.75,274.59 193.25,274.51 193.75,274.43 194.25,274.35 194.75,274.26 195.25,274.17 195.75,274.08 196.25,273.99 196.75,273.89 197.25,273.79 197.75,273.68 198.25,273.57 198.75,273.46 199.25,273.34 199.75,273.22 200.25,273.09 200.75,272.96 201.25,272.82 201.75,272.68 202.25,272.53 202.75,272.38 203.25,272.22 203.75,272.05 204.25,271.88 204.75,271.7 205.25,271.52 205.75,271.32 206.25,271.12 206.75,270.91 207.25,270.69 207.75,270.46 208.25,270.23 208.75,269.98 209.25,269.72 209.75,269.45 210.25,269.17 210.75,268.88 211.25,268.58 211.75,268.26 212.25,267.93 212.75,267.59 213.25,267.23 213.75,266.86 214.25,266.47 214.75,266.07 215.25,265.65 215.75,265.22 216.25,264.77 216.75,264.3 217.25,263.82 217.75,263.32 218.25,262.8 218.75,262.27 219.25,261.73 219.75,261.17 220.25,260.6 220.75,260.01 221.25,259.42 221.75,258.82 222.25,258.21 222.75,257.61 223.25,257 223.75,256.39 224.25,255.8 224.75,255.22 225.25,254.65 225.75,254.11 226.25,253.59 226.75,253.1 227.25,252.65 227.75,252.25 228.25,251.89 228.75,251.59 229.25,251.35 229.75,251.18 230.25,251.1 230.75,251.1 231.25,251.19 231.75,251.36 232.25,251.62 232.75,251.94 233.25,252.33 233.75,252.79 234.25,253.31 234.75,253.88 235.25,254.51 235.75,255.18 236.25,255.9 236.75,256.64 237.25,257.38 237.75,258.07 238.25,258.64 238.75,259.01 239.25,259.1 239.75,258.89 240.25,258.44 240.75,257.81 241.25,257.09 241.75,256.34 242.25,255.61 242.75,254.91 243.25,254.26 243.75,253.65 244.25,253.1 244.75,252.6 245.25,252.17 245.75,251.81 246.25,251.51 246.75,251.29 247.25,251.15 247.75,251.1 248.25,251.13 248.75,251.25 249.25,251.45 249.75,251.72 250.25,252.06 250.75,252.44 251.25,252.87 251.75,253.34 252.25,253.85 252.75,254.39 253.25,254.96 253.75,255.54 254.25,256.14 254.75,256.75 255.25,257.37 255.75,257.99 256.25,258.61 256.75,259.23 257.25,259.84 257.75,260.44 258.25,261.03 258.75,261.6 259.25,262.17 259.75,262.72 260.25,263.25 260.75,263.77 261.25,264.27 261.75,264.76 262.25,265.23 262.75,265.68 263.25,266.12 263.75,266.54 264.25,266.94 264.75,267.33 265.25,267.7 265.75,268.06 266.25,268.4 266.75,268.73 267.25,269.05 267.75,269.36 268.25,269.65 268.75,269.93 269.25,270.2 269.75,270.46 270.25,270.71 270.75,270.94 271.25,271.17 271.75,271.39 272.25,271.6 272.75,271.8 273.25,272 273.75,272.19 274.25,272.37 274.75,272.54 275.25,272.7 275.75,272.86 276.25,273.02 276.75,273.17 277.25,273.31 277.75,273.45 278.25,273.58 278.75,273.71 279.25,273.83 279.75,273.95 280.25,274.06 280.75,274.17 281.25,274.28 281.75,274.38 282.25,274.48 282.75,274.57 283.25,274.67 283.75,274.76 284.25,274.84 284.75,274.93 285.25,275.01 285.75,275.08 286.25,275.16 286.75,275.23 287.25,275.3 287.75,275.37 288.25,275.44 288.75,275.5 289.25,275.57 289.75,275.63 290.25,275.69 290.75,275.74 291.25,275.8 291.75,275.85 292.25,275.9 292.75,275.95 293.25,276 293.75,276.05 294.25,276.1 294.75,276.14 295.25,276.19 295.75,276.23 296.25,276.27 296.75,276.31 297.25,276.35 297.75,276.39 298.25,276.43 298.75,276.46 299.25,276.5 299.75,276.53 300.25,276.57 300.75,276.6 301.25,276.63 301.75,276.66 302.25,276.69 302.75,276.72 303.25,276.75 303.75,276.78 304.25,276.8 304.75,276.83 305.25,276.85 305.75,276.86" stroke="#62c6ec" stroke-width="1.4"/>
</g>
<rect x="172.3" y="218.1" width="133.7" height="63.2" fill="none" stroke="#555555" stroke-width="1.1"/>
<line x1="170.70000000000002" y1="218.4" x2="172.3" y2="218.4" stroke="#555555" stroke-width="0.8"/>
<line x1="170.70000000000002" y1="230.1" x2="172.3" y2="230.1" stroke="#555555" stroke-width="0.8"/>
<line x1="170.70000000000002" y1="241.8" x2="172.3" y2="241.8" stroke="#555555" stroke-width="0.8"/>
<line x1="170.70000000000002" y1="253.5" x2="172.3" y2="253.5" stroke="#555555" stroke-width="0.8"/>
<line x1="170.70000000000002" y1="265.2" x2="172.3" y2="265.2" stroke="#555555" stroke-width="0.8"/>
<line x1="170.70000000000002" y1="276.9" x2="172.3" y2="276.9" stroke="#555555" stroke-width="0.8"/>
<line x1="239.15" y1="281.3" x2="239.15" y2="282.8" stroke="#555555" stroke-width="0.8"/>
<text x="239.45" y="215.7" font-size="7.1" text-anchor="middle" fill="#2a2a2a" stroke="#2a2a2a" stroke-width="0.07" >MT</text>
<text x="239.15" y="288.4" font-size="6.65" text-anchor="middle" fill="#2a2a2a" stroke="#2a2a2a" stroke-width="0.07" >center</text>
<text x="28.6" y="220.9" font-size="7.2" text-anchor="end" fill="#2a2a2a" stroke="#2a2a2a" stroke-width="0.07" >30</text>
<text x="28.6" y="232.6" font-size="7.2" text-anchor="end" fill="#2a2a2a" stroke="#2a2a2a" stroke-width="0.07" >25</text>
<text x="28.6" y="244.3" font-size="7.2" text-anchor="end" fill="#2a2a2a" stroke="#2a2a2a" stroke-width="0.07" >20</text>
<text x="28.6" y="256" font-size="7.2" text-anchor="end" fill="#2a2a2a" stroke="#2a2a2a" stroke-width="0.07" >15</text>
<text x="28.6" y="267.7" font-size="7.2" text-anchor="end" fill="#2a2a2a" stroke="#2a2a2a" stroke-width="0.07" >10</text>
<text x="28.6" y="279.4" font-size="7.2" text-anchor="end" fill="#2a2a2a" stroke="#2a2a2a" stroke-width="0.07" >5</text>
<text x="28" y="288.4" font-size="6.65" text-anchor="start" fill="#2a2a2a" stroke="#2a2a2a" stroke-width="0.07" >-3.0kb</text>
<text x="165.6" y="288.4" font-size="6.65" text-anchor="end" fill="#2a2a2a" stroke="#2a2a2a" stroke-width="0.07" >3.0</text>
<text x="168.2" y="288.4" font-size="6.65" text-anchor="start" fill="#2a2a2a" stroke="#2a2a2a" stroke-width="0.07" >-3.0</text>
<text x="306.6" y="288.4" font-size="6.65" text-anchor="end" fill="#2a2a2a" stroke="#2a2a2a" stroke-width="0.07" >3.0</text>
<line x1="33.6" y1="223.2" x2="42.8" y2="223.2" stroke="#efde3e" stroke-width="1.5"/>
<text x="45.6" y="225.6" font-size="6.65" text-anchor="start" fill="#2a2a2a" stroke="#2a2a2a" stroke-width="0.07" >KLF5+/MEF2D+</text>
<line x1="33.6" y1="231.6" x2="42.8" y2="231.6" stroke="#3e3d70" stroke-width="1.5"/>
<text x="45.6" y="234" font-size="6.65" text-anchor="start" fill="#2a2a2a" stroke="#2a2a2a" stroke-width="0.07" >KLF5+/MEF2D–</text>
<line x1="33.6" y1="240" x2="42.8" y2="240" stroke="#62c6ec" stroke-width="1.5"/>
<text x="45.6" y="242.4" font-size="6.65" text-anchor="start" fill="#2a2a2a" stroke="#2a2a2a" stroke-width="0.07" >KLF5–/MEF2D+</text>
<text x="10.6" y="307.6" font-size="12.3" text-anchor="start" fill="#333" stroke="#333" stroke-width="0.3" >d</text>
<svg x="0" y="0" width="497" height="550" overflow="visible"><clipPath id="cpdMB"><rect x="31.5" y="315.5" width="133.8" height="63.0"/></clipPath></svg>
<g clip-path="url(#cpdMB)" fill="none" stroke-linejoin="round">
<polyline points="31.5,373.58 32,373.57 32.5,373.55 33,373.53 33.5,373.51 34,373.49 34.5,373.46 35,373.44 35.5,373.41 36,373.38 36.5,373.35 37,373.31 37.5,373.28 38,373.24 38.5,373.2 39,373.16 39.5,373.12 40,373.08 40.5,373.03 41,372.98 41.5,372.93 42,372.87 42.5,372.82 43,372.76 43.5,372.69 44,372.63 44.5,372.56 45,372.49 45.5,372.41 46,372.33 46.5,372.25 47,372.16 47.5,372.07 48,371.97 48.5,371.87 49,371.77 49.5,371.66 50,371.55 50.5,371.43 51,371.31 51.5,371.18 52,371.04 52.5,370.9 53,370.76 53.5,370.61 54,370.45 54.5,370.29 55,370.12 55.5,369.94 56,369.75 56.5,369.56 57,369.37 57.5,369.16 58,368.95 58.5,368.73 59,368.5 59.5,368.26 60,368.01 60.5,367.76 61,367.5 61.5,367.23 62,366.95 62.5,366.66 63,366.36 63.5,366.06 64,365.74 64.5,365.41 65,365.08 65.5,364.73 66,364.38 66.5,364.01 67,363.64 67.5,363.26 68,362.86 68.5,362.46 69,362.04 69.5,361.62 70,361.19 70.5,360.75 71,360.3 71.5,359.84 72,359.37 72.5,358.89 73,358.41 73.5,357.91 74,357.41 74.5,356.9 75,356.39 75.5,355.87 76,355.34 76.5,354.81 77,354.27 77.5,353.73 78,353.18 78.5,352.64 79,352.09 79.5,351.54 80,350.99 80.5,350.44 81,349.9 81.5,349.36 82,348.82 82.5,348.29 83,347.77 83.5,347.26 84,346.76 84.5,346.28 85,345.81 85.5,345.36 86,344.94 86.5,344.53 87,344.17 87.5,343.85 88,343.62 88.5,343.5 89,343.56 89.5,343.84 90,344.33 90.5,345.02 91,345.84 91.5,346.73 92,347.64 92.5,348.54 93,349.42 93.5,350.28 94,351.11 94.5,351.92 95,352.69 95.5,353.42 96,354.11 96.5,354.73 97,355.27 97.5,355.69 98,355.94 98.5,356 99,355.86 99.5,355.53 100,355.06 100.5,354.48 101,353.83 101.5,353.12 102,352.37 102.5,351.59 103,350.77 103.5,349.93 104,349.06 104.5,348.16 105,347.26 105.5,346.36 106,345.49 106.5,344.72 107,344.1 107.5,343.69 108,343.5 108.5,343.51 109,343.67 109.5,343.94 110,344.28 110.5,344.66 111,345.07 111.5,345.51 112,345.97 112.5,346.44 113,346.93 113.5,347.44 114,347.95 114.5,348.48 115,349.01 115.5,349.55 116,350.09 116.5,350.64 117,351.19 117.5,351.74 118,352.29 118.5,352.83 119,353.38 119.5,353.92 120,354.46 120.5,355 121,355.53 121.5,356.06 122,356.58 122.5,357.09 123,357.6 123.5,358.1 124,358.59 124.5,359.07 125,359.54 125.5,360.01 126,360.47 126.5,360.91 127,361.35 127.5,361.78 128,362.2 128.5,362.61 129,363.01 129.5,363.4 130,363.78 130.5,364.15 131,364.51 131.5,364.86 132,365.2 132.5,365.54 133,365.86 133.5,366.17 134,366.48 134.5,366.77 135,367.06 135.5,367.33 136,367.6 136.5,367.86 137,368.11 137.5,368.35 138,368.58 138.5,368.81 139,369.03 139.5,369.24 140,369.44 140.5,369.64 141,369.82 141.5,370.01 142,370.18 142.5,370.35 143,370.51 143.5,370.67 144,370.81 144.5,370.96 145,371.1 145.5,371.23 146,371.35 146.5,371.48 147,371.59 147.5,371.7 148,371.81 148.5,371.91 149,372.01 149.5,372.1 150,372.19 150.5,372.28 151,372.36 151.5,372.44 152,372.51 152.5,372.59 153,372.65 153.5,372.72 154,372.78 154.5,372.84 155,372.9 155.5,372.95 156,373 156.5,373.05 157,373.09 157.5,373.14 158,373.18 158.5,373.22 159,373.26 159.5,373.29 160,373.33 160.5,373.36 161,373.39 161.5,373.42 162,373.45 162.5,373.47 163,373.5 163.5,373.52 164,373.54 164.5,373.56 165,373.57" stroke="#74c9a0" stroke-width="1.25"/>
<polyline points="31.5,373.78 32,373.77 32.5,373.76 33,373.74 33.5,373.72 34,373.7 34.5,373.67 35,373.65 35.5,373.62 36,373.59 36.5,373.56 37,373.53 37.5,373.5 38,373.46 38.5,373.43 39,373.39 39.5,373.35 40,373.3 40.5,373.26 41,373.21 41.5,373.16 42,373.11 42.5,373.06 43,373 43.5,372.94 44,372.88 44.5,372.81 45,372.74 45.5,372.67 46,372.6 46.5,372.52 47,372.44 47.5,372.35 48,372.26 48.5,372.17 49,372.07 49.5,371.96 50,371.86 50.5,371.75 51,371.63 51.5,371.51 52,371.38 52.5,371.25 53,371.11 53.5,370.97 54,370.82 54.5,370.66 55,370.5 55.5,370.33 56,370.16 56.5,369.98 57,369.79 57.5,369.6 58,369.39 58.5,369.19 59,368.97 59.5,368.74 60,368.51 60.5,368.27 61,368.02 61.5,367.77 62,367.5 62.5,367.23 63,366.95 63.5,366.66 64,366.36 64.5,366.05 65,365.73 65.5,365.4 66,365.07 66.5,364.72 67,364.37 67.5,364.01 68,363.63 68.5,363.25 69,362.86 69.5,362.46 70,362.05 70.5,361.63 71,361.21 71.5,360.77 72,360.33 72.5,359.87 73,359.42 73.5,358.95 74,358.47 74.5,357.99 75,357.5 75.5,357.01 76,356.51 76.5,356.01 77,355.5 77.5,354.99 78,354.47 78.5,353.95 79,353.43 79.5,352.91 80,352.39 80.5,351.88 81,351.36 81.5,350.85 82,350.34 82.5,349.84 83,349.35 83.5,348.86 84,348.39 84.5,347.93 85,347.49 85.5,347.07 86,346.66 86.5,346.28 87,345.93 87.5,345.64 88,345.41 88.5,345.3 89,345.35 89.5,345.61 90,346.08 90.5,346.72 91,347.49 91.5,348.32 92,349.17 92.5,350.02 93,350.84 93.5,351.65 94,352.43 94.5,353.18 95,353.9 95.5,354.58 96,355.23 96.5,355.81 97,356.32 97.5,356.71 98,356.94 98.5,357 99,356.87 99.5,356.56 100,356.12 100.5,355.58 101,354.97 101.5,354.31 102,353.6 102.5,352.87 103,352.11 103.5,351.31 104,350.5 104.5,349.66 105,348.81 105.5,347.97 106,347.16 106.5,346.44 107,345.86 107.5,345.48 108,345.3 108.5,345.31 109,345.47 109.5,345.72 110,346.04 110.5,346.4 111,346.79 111.5,347.21 112,347.64 112.5,348.09 113,348.56 113.5,349.03 114,349.52 114.5,350.02 115,350.52 115.5,351.03 116,351.54 116.5,352.06 117,352.58 117.5,353.1 118,353.62 118.5,354.14 119,354.66 119.5,355.17 120,355.68 120.5,356.19 121,356.69 121.5,357.19 122,357.68 122.5,358.17 123,358.65 123.5,359.12 124,359.59 124.5,360.04 125,360.49 125.5,360.93 126,361.37 126.5,361.79 127,362.2 127.5,362.61 128,363.01 128.5,363.39 129,363.77 129.5,364.14 130,364.5 130.5,364.85 131,365.2 131.5,365.53 132,365.85 132.5,366.17 133,366.47 133.5,366.77 134,367.05 134.5,367.33 135,367.6 135.5,367.87 136,368.12 136.5,368.36 137,368.6 137.5,368.83 138,369.05 138.5,369.27 139,369.47 139.5,369.67 140,369.86 140.5,370.05 141,370.23 141.5,370.4 142,370.56 142.5,370.72 143,370.87 143.5,371.02 144,371.16 144.5,371.3 145,371.43 145.5,371.55 146,371.67 146.5,371.79 147,371.9 147.5,372 148,372.11 148.5,372.2 149,372.3 149.5,372.38 150,372.47 150.5,372.55 151,372.63 151.5,372.7 152,372.77 152.5,372.84 153,372.9 153.5,372.97 154,373.02 154.5,373.08 155,373.13 155.5,373.18 156,373.23 156.5,373.28 157,373.32 157.5,373.36 158,373.4 158.5,373.44 159,373.48 159.5,373.51 160,373.54 160.5,373.57 161,373.6 161.5,373.63 162,373.66 162.5,373.68 163,373.7 163.5,373.73 164,373.74 164.5,373.76 165,373.77" stroke="#58a6de" stroke-width="1.25"/>
<polyline points="31.5,373.88 32,373.87 32.5,373.86 33,373.84 33.5,373.82 34,373.8 34.5,373.78 35,373.75 35.5,373.73 36,373.7 36.5,373.67 37,373.64 37.5,373.61 38,373.57 38.5,373.54 39,373.5 39.5,373.46 40,373.42 40.5,373.38 41,373.33 41.5,373.29 42,373.24 42.5,373.18 43,373.13 43.5,373.07 44,373.01 44.5,372.95 45,372.88 45.5,372.81 46,372.74 46.5,372.66 47,372.58 47.5,372.5 48,372.41 48.5,372.32 49,372.23 49.5,372.13 50,372.03 50.5,371.92 51,371.8 51.5,371.69 52,371.56 52.5,371.44 53,371.3 53.5,371.17 54,371.02 54.5,370.87 55,370.72 55.5,370.56 56,370.39 56.5,370.21 57,370.03 57.5,369.84 58,369.65 58.5,369.45 59,369.24 59.5,369.02 60,368.8 60.5,368.57 61,368.33 61.5,368.08 62,367.82 62.5,367.56 63,367.29 63.5,367.01 64,366.72 64.5,366.42 65,366.12 65.5,365.8 66,365.48 66.5,365.14 67,364.8 67.5,364.45 68,364.09 68.5,363.72 69,363.35 69.5,362.96 70,362.56 70.5,362.16 71,361.75 71.5,361.33 72,360.9 72.5,360.47 73,360.02 73.5,359.57 74,359.11 74.5,358.65 75,358.18 75.5,357.7 76,357.22 76.5,356.73 77,356.24 77.5,355.75 78,355.25 78.5,354.75 79,354.25 79.5,353.75 80,353.25 80.5,352.75 81,352.25 81.5,351.76 82,351.27 82.5,350.78 83,350.31 83.5,349.84 84,349.39 84.5,348.95 85,348.52 85.5,348.11 86,347.72 86.5,347.35 87,347.02 87.5,346.73 88,346.51 88.5,346.4 89,346.45 89.5,346.69 90,347.12 90.5,347.73 91,348.45 91.5,349.23 92,350.03 92.5,350.83 93,351.61 93.5,352.36 94,353.1 94.5,353.8 95,354.48 95.5,355.13 96,355.73 96.5,356.28 97,356.76 97.5,357.12 98,357.35 98.5,357.4 99,357.28 99.5,356.99 100,356.57 100.5,356.07 101,355.49 101.5,354.87 102,354.21 102.5,353.51 103,352.79 103.5,352.05 104,351.28 104.5,350.5 105,349.7 105.5,348.9 106,348.14 106.5,347.47 107,346.92 107.5,346.56 108,346.4 108.5,346.42 109,346.57 109.5,346.82 110,347.12 110.5,347.47 111,347.85 111.5,348.25 112,348.67 112.5,349.1 113,349.55 113.5,350.01 114,350.48 114.5,350.96 115,351.44 115.5,351.94 116,352.43 116.5,352.93 117,353.43 117.5,353.93 118,354.43 118.5,354.94 119,355.43 119.5,355.93 120,356.42 120.5,356.91 121,357.4 121.5,357.88 122,358.35 122.5,358.82 123,359.29 123.5,359.74 124,360.19 124.5,360.63 125,361.06 125.5,361.49 126,361.91 126.5,362.31 127,362.71 127.5,363.11 128,363.49 128.5,363.86 129,364.23 129.5,364.58 130,364.93 130.5,365.27 131,365.6 131.5,365.92 132,366.23 132.5,366.54 133,366.83 133.5,367.12 134,367.39 134.5,367.66 135,367.92 135.5,368.18 136,368.42 136.5,368.66 137,368.88 137.5,369.11 138,369.32 138.5,369.53 139,369.72 139.5,369.92 140,370.1 140.5,370.28 141,370.45 141.5,370.62 142,370.78 142.5,370.93 143,371.08 143.5,371.22 144,371.36 144.5,371.49 145,371.61 145.5,371.73 146,371.85 146.5,371.96 147,372.07 147.5,372.17 148,372.27 148.5,372.36 149,372.45 149.5,372.53 150,372.62 150.5,372.69 151,372.77 151.5,372.84 152,372.91 152.5,372.97 153,373.04 153.5,373.09 154,373.15 154.5,373.21 155,373.26 155.5,373.31 156,373.35 156.5,373.4 157,373.44 157.5,373.48 158,373.52 158.5,373.55 159,373.59 159.5,373.62 160,373.65 160.5,373.68 161,373.71 161.5,373.74 162,373.76 162.5,373.78 163,373.81 163.5,373.83 164,373.85 164.5,373.86 165,373.87" stroke="#3553ac" stroke-width="1.25"/>
<polyline points="31.5,373.98 32,373.97 32.5,373.96 33,373.94 33.5,373.92 34,373.9 34.5,373.88 35,373.86 35.5,373.83 36,373.8 36.5,373.78 37,373.75 37.5,373.72 38,373.68 38.5,373.65 39,373.61 39.5,373.58 40,373.54 40.5,373.49 41,373.45 41.5,373.4 42,373.36 42.5,373.31 43,373.25 43.5,373.2 44,373.14 44.5,373.08 45,373.01 45.5,372.94 46,372.87 46.5,372.8 47,372.72 47.5,372.64 48,372.56 48.5,372.47 49,372.38 49.5,372.28 50,372.18 50.5,372.08 51,371.97 51.5,371.85 52,371.73 52.5,371.61 53,371.48 53.5,371.35 54,371.21 54.5,371.06 55,370.91 55.5,370.75 56,370.59 56.5,370.42 57,370.24 57.5,370.06 58,369.87 58.5,369.68 59,369.47 59.5,369.26 60,369.05 60.5,368.82 61,368.59 61.5,368.35 62,368.1 62.5,367.85 63,367.58 63.5,367.31 64,367.03 64.5,366.74 65,366.44 65.5,366.14 66,365.82 66.5,365.5 67,365.17 67.5,364.83 68,364.48 68.5,364.12 69,363.75 69.5,363.38 70,362.99 70.5,362.6 71,362.2 71.5,361.8 72,361.38 72.5,360.96 73,360.53 73.5,360.09 74,359.64 74.5,359.19 75,358.74 75.5,358.27 76,357.81 76.5,357.33 77,356.86 77.5,356.38 78,355.89 78.5,355.41 79,354.92 79.5,354.43 80,353.95 80.5,353.46 81,352.98 81.5,352.5 82,352.03 82.5,351.56 83,351.1 83.5,350.64 84,350.2 84.5,349.77 85,349.36 85.5,348.96 86,348.58 86.5,348.22 87,347.9 87.5,347.62 88,347.41 88.5,347.3 89,347.35 89.5,347.58 90,348 90.5,348.59 91,349.3 91.5,350.06 92,350.83 92.5,351.61 93,352.36 93.5,353.1 94,353.81 94.5,354.5 95,355.16 95.5,355.79 96,356.38 96.5,356.91 97,357.37 97.5,357.73 98,357.95 98.5,358 99,357.88 99.5,357.6 100,357.2 100.5,356.7 101,356.14 101.5,355.53 102,354.89 102.5,354.22 103,353.52 103.5,352.8 104,352.05 104.5,351.28 105,350.51 105.5,349.73 106,348.99 106.5,348.33 107,347.81 107.5,347.46 108,347.3 108.5,347.32 109,347.47 109.5,347.71 110,348.01 110.5,348.36 111,348.73 111.5,349.12 112,349.53 112.5,349.95 113,350.39 113.5,350.84 114,351.31 114.5,351.78 115,352.25 115.5,352.74 116,353.22 116.5,353.71 117,354.21 117.5,354.7 118,355.19 118.5,355.68 119,356.17 119.5,356.66 120,357.14 120.5,357.63 121,358.1 121.5,358.57 122,359.04 122.5,359.5 123,359.95 123.5,360.4 124,360.84 124.5,361.27 125,361.7 125.5,362.12 126,362.52 126.5,362.93 127,363.32 127.5,363.7 128,364.08 128.5,364.45 129,364.8 129.5,365.15 130,365.5 130.5,365.83 131,366.15 131.5,366.47 132,366.77 132.5,367.07 133,367.36 133.5,367.64 134,367.91 134.5,368.18 135,368.43 135.5,368.68 136,368.92 136.5,369.15 137,369.38 137.5,369.59 138,369.8 138.5,370.01 139,370.2 139.5,370.39 140,370.57 140.5,370.75 141,370.92 141.5,371.08 142,371.23 142.5,371.38 143,371.53 143.5,371.67 144,371.8 144.5,371.93 145,372.05 145.5,372.17 146,372.29 146.5,372.4 147,372.5 147.5,372.6 148,372.7 148.5,372.79 149,372.87 149.5,372.96 150,373.04 150.5,373.12 151,373.19 151.5,373.26 152,373.33 152.5,373.39 153,373.45 153.5,373.51 154,373.56 154.5,373.62 155,373.67 155.5,373.72 156,373.76 156.5,373.81 157,373.85 157.5,373.89 158,373.92 158.5,373.96 159,373.99 159.5,374.03 160,374.06 160.5,374.09 161,374.11 161.5,374.14 162,374.16 162.5,374.19 163,374.21 163.5,374.23 164,374.25 164.5,374.26 165,374.27" stroke="#e85a2e" stroke-width="1.25"/>
<polyline points="31.5,376.09 32,376.07 32.5,376.06 33,376.04 33.5,376.03 34,376.01 34.5,375.99 35,375.96 35.5,375.94 36,375.92 36.5,375.89 37,375.87 37.5,375.84 38,375.81 38.5,375.78 39,375.75 39.5,375.72 40,375.68 40.5,375.65 41,375.61 41.5,375.57 42,375.53 42.5,375.49 43,375.44 43.5,375.4 44,375.35 44.5,375.3 45,375.25 45.5,375.19 46,375.14 46.5,375.08 47,375.02 47.5,374.96 48,374.89 48.5,374.82 49,374.75 49.5,374.68 50,374.61 50.5,374.53 51,374.45 51.5,374.36 52,374.27 52.5,374.18 53,374.09 53.5,373.99 54,373.89 54.5,373.79 55,373.68 55.5,373.57 56,373.46 56.5,373.34 57,373.22 57.5,373.09 58,372.96 58.5,372.83 59,372.69 59.5,372.55 60,372.4 60.5,372.25 61,372.1 61.5,371.94 62,371.78 62.5,371.61 63,371.44 63.5,371.26 64,371.08 64.5,370.9 65,370.71 65.5,370.52 66,370.32 66.5,370.12 67,369.91 67.5,369.7 68,369.48 68.5,369.26 69,369.04 69.5,368.81 70,368.58 70.5,368.34 71,368.1 71.5,367.85 72,367.61 72.5,367.35 73,367.1 73.5,366.84 74,366.58 74.5,366.32 75,366.05 75.5,365.78 76,365.51 76.5,365.24 77,364.96 77.5,364.69 78,364.41 78.5,364.14 79,363.86 79.5,363.59 80,363.31 80.5,363.04 81,362.77 81.5,362.5 82,362.24 82.5,361.98 83,361.72 83.5,361.47 84,361.23 84.5,360.99 85,360.77 85.5,360.55 86,360.34 86.5,360.15 87,359.97 87.5,359.81 88,359.69 88.5,359.61 89,359.6 89.5,359.66 90,359.8 90.5,360.01 91,360.26 91.5,360.53 92,360.81 92.5,361.09 93,361.37 93.5,361.63 94,361.89 94.5,362.14 95,362.37 95.5,362.6 96,362.81 96.5,363.01 97,363.17 97.5,363.3 98,363.38 98.5,363.4 99,363.36 99.5,363.26 100,363.11 100.5,362.93 101,362.73 101.5,362.51 102,362.28 102.5,362.04 103,361.79 103.5,361.52 104,361.26 104.5,360.98 105,360.7 105.5,360.42 106,360.16 106.5,359.92 107,359.74 107.5,359.63 108,359.6 108.5,359.64 109,359.73 109.5,359.87 110,360.04 110.5,360.22 111,360.42 111.5,360.63 112,360.85 112.5,361.08 113,361.32 113.5,361.57 114,361.82 114.5,362.08 115,362.34 115.5,362.61 116,362.88 116.5,363.15 117,363.42 117.5,363.7 118,363.97 118.5,364.25 119,364.52 119.5,364.8 120,365.07 120.5,365.35 121,365.62 121.5,365.89 122,366.15 122.5,366.42 123,366.68 123.5,366.94 124,367.2 124.5,367.45 125,367.7 125.5,367.95 126,368.19 126.5,368.43 127,368.67 127.5,368.9 128,369.13 128.5,369.35 129,369.57 129.5,369.78 130,369.99 130.5,370.2 131,370.4 131.5,370.59 132,370.79 132.5,370.97 133,371.16 133.5,371.34 134,371.51 134.5,371.68 135,371.84 135.5,372.01 136,372.16 136.5,372.31 137,372.46 137.5,372.61 138,372.75 138.5,372.88 139,373.01 139.5,373.14 140,373.27 140.5,373.39 141,373.5 141.5,373.62 142,373.72 142.5,373.83 143,373.93 143.5,374.03 144,374.13 144.5,374.22 145,374.31 145.5,374.39 146,374.48 146.5,374.56 147,374.64 147.5,374.71 148,374.78 148.5,374.85 149,374.92 149.5,374.98 150,375.04 150.5,375.1 151,375.16 151.5,375.22 152,375.27 152.5,375.32 153,375.37 153.5,375.42 154,375.46 154.5,375.5 155,375.55 155.5,375.59 156,375.62 156.5,375.66 157,375.69 157.5,375.73 158,375.76 158.5,375.79 159,375.82 159.5,375.85 160,375.88 160.5,375.9 161,375.93 161.5,375.95 162,375.97 162.5,375.99 163,376.01 163.5,376.03 164,376.05 164.5,376.06 165,376.08" stroke="#3e3d70" stroke-width="1.25"/>
<polyline points="31.5,376.39 32,376.38 32.5,376.37 33,376.35 33.5,376.33 34,376.32 34.5,376.3 35,376.28 35.5,376.26 36,376.24 36.5,376.22 37,376.19 37.5,376.17 38,376.14 38.5,376.12 39,376.09 39.5,376.06 40,376.03 40.5,376 41,375.97 41.5,375.94 42,375.9 42.5,375.87 43,375.83 43.5,375.79 44,375.75 44.5,375.71 45,375.67 45.5,375.62 46,375.58 46.5,375.53 47,375.48 47.5,375.43 48,375.37 48.5,375.32 49,375.26 49.5,375.2 50,375.14 50.5,375.08 51,375.01 51.5,374.94 52,374.87 52.5,374.8 53,374.72 53.5,374.65 54,374.57 54.5,374.48 55,374.4 55.5,374.31 56,374.22 56.5,374.13 57,374.03 57.5,373.94 58,373.84 58.5,373.73 59,373.62 59.5,373.52 60,373.4 60.5,373.29 61,373.17 61.5,373.05 62,372.92 62.5,372.79 63,372.66 63.5,372.53 64,372.39 64.5,372.25 65,372.11 65.5,371.96 66,371.81 66.5,371.66 67,371.51 67.5,371.35 68,371.19 68.5,371.02 69,370.86 69.5,370.69 70,370.51 70.5,370.34 71,370.16 71.5,369.98 72,369.8 72.5,369.61 73,369.43 73.5,369.24 74,369.05 74.5,368.85 75,368.66 75.5,368.46 76,368.27 76.5,368.07 77,367.87 77.5,367.67 78,367.47 78.5,367.27 79,367.08 79.5,366.88 80,366.68 80.5,366.49 81,366.29 81.5,366.1 82,365.91 82.5,365.73 83,365.54 83.5,365.37 84,365.19 84.5,365.02 85,364.86 85.5,364.71 86,364.56 86.5,364.42 87,364.3 87.5,364.19 88,364.09 88.5,364.03 89,364 89.5,364.01 90,364.06 90.5,364.14 91,364.25 91.5,364.37 92,364.49 92.5,364.61 93,364.72 93.5,364.84 94,364.95 94.5,365.06 95,365.16 95.5,365.26 96,365.35 96.5,365.43 97,365.5 97.5,365.56 98,365.59 98.5,365.6 99,365.58 99.5,365.54 100,365.48 100.5,365.4 101,365.31 101.5,365.22 102,365.12 102.5,365.01 103,364.9 103.5,364.79 104,364.67 104.5,364.56 105,364.43 105.5,364.32 106,364.2 106.5,364.11 107,364.03 107.5,364 108,364.01 108.5,364.05 109,364.13 109.5,364.23 110,364.34 110.5,364.47 111,364.62 111.5,364.77 112,364.92 112.5,365.09 113,365.26 113.5,365.43 114,365.61 114.5,365.8 115,365.98 115.5,366.17 116,366.37 116.5,366.56 117,366.76 117.5,366.95 118,367.15 118.5,367.35 119,367.55 119.5,367.75 120,367.95 120.5,368.15 121,368.34 121.5,368.54 122,368.73 122.5,368.93 123,369.12 123.5,369.31 124,369.5 124.5,369.68 125,369.87 125.5,370.05 126,370.23 126.5,370.41 127,370.58 127.5,370.75 128,370.92 128.5,371.09 129,371.25 129.5,371.41 130,371.57 130.5,371.72 131,371.87 131.5,372.02 132,372.17 132.5,372.31 133,372.45 133.5,372.58 134,372.72 134.5,372.84 135,372.97 135.5,373.09 136,373.22 136.5,373.33 137,373.45 137.5,373.56 138,373.67 138.5,373.77 139,373.88 139.5,373.98 140,374.07 140.5,374.17 141,374.26 141.5,374.35 142,374.43 142.5,374.52 143,374.6 143.5,374.68 144,374.75 144.5,374.83 145,374.9 145.5,374.97 146,375.04 146.5,375.1 147,375.16 147.5,375.22 148,375.28 148.5,375.34 149,375.39 149.5,375.45 150,375.5 150.5,375.55 151,375.59 151.5,375.64 152,375.68 152.5,375.73 153,375.77 153.5,375.81 154,375.85 154.5,375.88 155,375.92 155.5,375.95 156,375.98 156.5,376.01 157,376.04 157.5,376.07 158,376.1 158.5,376.13 159,376.15 159.5,376.18 160,376.2 160.5,376.22 161,376.25 161.5,376.27 162,376.29 162.5,376.31 163,376.32 163.5,376.34 164,376.36 164.5,376.37 165,376.38" stroke="#acd35e" stroke-width="1.25"/>
<polyline points="31.5,376.99 32,376.98 32.5,376.97 33,376.96 33.5,376.95 34,376.93 34.5,376.92 35,376.9 35.5,376.89 36,376.87 36.5,376.85 37,376.83 37.5,376.81 38,376.79 38.5,376.77 39,376.75 39.5,376.73 40,376.7 40.5,376.68 41,376.65 41.5,376.63 42,376.6 42.5,376.57 43,376.54 43.5,376.51 44,376.48 44.5,376.44 45,376.41 45.5,376.37 46,376.33 46.5,376.29 47,376.25 47.5,376.21 48,376.17 48.5,376.12 49,376.08 49.5,376.03 50,375.98 50.5,375.93 51,375.88 51.5,375.82 52,375.76 52.5,375.7 53,375.64 53.5,375.58 54,375.52 54.5,375.45 55,375.38 55.5,375.31 56,375.24 56.5,375.16 57,375.09 57.5,375.01 58,374.93 58.5,374.84 59,374.76 59.5,374.67 60,374.58 60.5,374.48 61,374.39 61.5,374.29 62,374.19 62.5,374.08 63,373.98 63.5,373.87 64,373.76 64.5,373.65 65,373.53 65.5,373.41 66,373.29 66.5,373.17 67,373.04 67.5,372.91 68,372.78 68.5,372.65 69,372.51 69.5,372.38 70,372.24 70.5,372.1 71,371.95 71.5,371.81 72,371.66 72.5,371.51 73,371.36 73.5,371.2 74,371.05 74.5,370.89 75,370.74 75.5,370.58 76,370.42 76.5,370.26 77,370.1 77.5,369.94 78,369.78 78.5,369.62 79,369.46 79.5,369.3 80,369.14 80.5,368.98 81,368.82 81.5,368.67 82,368.52 82.5,368.37 83,368.22 83.5,368.07 84,367.93 84.5,367.8 85,367.67 85.5,367.54 86,367.42 86.5,367.31 87,367.21 87.5,367.12 88,367.05 88.5,367.01 89,367 89.5,367.04 90,367.12 90.5,367.24 91,367.38 91.5,367.54 92,367.7 92.5,367.86 93,368.02 93.5,368.18 94,368.33 94.5,368.47 95,368.61 95.5,368.74 96,368.86 96.5,368.97 97,369.07 97.5,369.14 98,369.19 98.5,369.2 99,369.17 99.5,369.12 100,369.03 100.5,368.93 101,368.81 101.5,368.69 102,368.55 102.5,368.41 103,368.27 103.5,368.12 104,367.96 104.5,367.8 105,367.64 105.5,367.48 106,367.32 106.5,367.19 107,367.08 107.5,367.02 108,367 108.5,367.02 109,367.08 109.5,367.15 110,367.25 110.5,367.35 111,367.47 111.5,367.59 112,367.72 112.5,367.85 113,367.99 113.5,368.13 114,368.28 114.5,368.42 115,368.58 115.5,368.73 116,368.88 116.5,369.04 117,369.2 117.5,369.36 118,369.52 118.5,369.68 119,369.84 119.5,370 120,370.16 120.5,370.32 121,370.48 121.5,370.64 122,370.8 122.5,370.96 123,371.11 123.5,371.27 124,371.42 124.5,371.57 125,371.72 125.5,371.86 126,372.01 126.5,372.15 127,372.29 127.5,372.43 128,372.57 128.5,372.7 129,372.83 129.5,372.96 130,373.09 130.5,373.22 131,373.34 131.5,373.46 132,373.58 132.5,373.69 133,373.8 133.5,373.91 134,374.02 134.5,374.12 135,374.23 135.5,374.33 136,374.42 136.5,374.52 137,374.61 137.5,374.7 138,374.79 138.5,374.88 139,374.96 139.5,375.04 140,375.12 140.5,375.19 141,375.27 141.5,375.34 142,375.41 142.5,375.48 143,375.54 143.5,375.61 144,375.67 144.5,375.73 145,375.79 145.5,375.84 146,375.9 146.5,375.95 147,376 147.5,376.05 148,376.1 148.5,376.14 149,376.19 149.5,376.23 150,376.27 150.5,376.31 151,376.35 151.5,376.39 152,376.42 152.5,376.46 153,376.49 153.5,376.52 154,376.55 154.5,376.58 155,376.61 155.5,376.64 156,376.66 156.5,376.69 157,376.71 157.5,376.74 158,376.76 158.5,376.78 159,376.8 159.5,376.82 160,376.84 160.5,376.86 161,376.88 161.5,376.89 162,376.91 162.5,376.92 163,376.94 163.5,376.95 164,376.96 164.5,376.97 165,376.98" stroke="#f3bf45" stroke-width="1.25"/>
</g>
<rect x="31.5" y="315.5" width="133.8" height="63" fill="none" stroke="#555555" stroke-width="1.1"/>
<line x1="29.9" y1="318.8" x2="31.5" y2="318.8" stroke="#555555" stroke-width="0.8"/>
<line x1="29.9" y1="329.9" x2="31.5" y2="329.9" stroke="#555555" stroke-width="0.8"/>
<line x1="29.9" y1="341.0" x2="31.5" y2="341.0" stroke="#555555" stroke-width="0.8"/>
<line x1="29.9" y1="352.1" x2="31.5" y2="352.1" stroke="#555555" stroke-width="0.8"/>
<line x1="29.9" y1="363.2" x2="31.5" y2="363.2" stroke="#555555" stroke-width="0.8"/>
<line x1="29.9" y1="374.3" x2="31.5" y2="374.3" stroke="#555555" stroke-width="0.8"/>
<line x1="98.4" y1="378.5" x2="98.4" y2="380.0" stroke="#555555" stroke-width="0.8"/>
<text x="98.7" y="313.2" font-size="7.1" text-anchor="middle" fill="#2a2a2a" stroke="#2a2a2a" stroke-width="0.07" >MB</text>
<text x="98.4" y="386.7" font-size="6.65" text-anchor="middle" fill="#2a2a2a" stroke="#2a2a2a" stroke-width="0.07" >center</text>
<svg x="0" y="0" width="497" height="550" overflow="visible"><clipPath id="cpdMT"><rect x="172.3" y="315.5" width="133.7" height="63.0"/></clipPath></svg>
<g clip-path="url(#cpdMT)" fill="none" stroke-linejoin="round">
<polyline points="172.25,368.56 172.75,368.53 173.25,368.49 173.75,368.45 174.25,368.4 174.75,368.34 175.25,368.29 175.75,368.23 176.25,368.18 176.75,368.12 177.25,368.06 177.75,368 178.25,367.93 178.75,367.87 179.25,367.8 179.75,367.73 180.25,367.66 180.75,367.59 181.25,367.52 181.75,367.44 182.25,367.36 182.75,367.28 183.25,367.2 183.75,367.11 184.25,367.03 184.75,366.94 185.25,366.84 185.75,366.75 186.25,366.65 186.75,366.55 187.25,366.45 187.75,366.34 188.25,366.23 188.75,366.11 189.25,366 189.75,365.88 190.25,365.75 190.75,365.62 191.25,365.49 191.75,365.35 192.25,365.21 192.75,365.06 193.25,364.91 193.75,364.75 194.25,364.59 194.75,364.42 195.25,364.25 195.75,364.07 196.25,363.89 196.75,363.69 197.25,363.49 197.75,363.29 198.25,363.07 198.75,362.85 199.25,362.62 199.75,362.38 200.25,362.14 200.75,361.88 201.25,361.61 201.75,361.34 202.25,361.05 202.75,360.75 203.25,360.44 203.75,360.12 204.25,359.78 204.75,359.43 205.25,359.07 205.75,358.69 206.25,358.29 206.75,357.88 207.25,357.46 207.75,357.01 208.25,356.55 208.75,356.06 209.25,355.56 209.75,355.04 210.25,354.49 210.75,353.92 211.25,353.33 211.75,352.71 212.25,352.07 212.75,351.4 213.25,350.7 213.75,349.97 214.25,349.22 214.75,348.43 215.25,347.61 215.75,346.77 216.25,345.89 216.75,344.98 217.25,344.03 217.75,343.06 218.25,342.05 218.75,341.02 219.25,339.95 219.75,338.86 220.25,337.75 220.75,336.61 221.25,335.45 221.75,334.27 222.25,333.09 222.75,331.9 223.25,330.72 223.75,329.54 224.25,328.38 224.75,327.24 225.25,326.13 225.75,325.07 226.25,324.06 226.75,323.11 227.25,322.23 227.75,321.44 228.25,320.74 228.75,320.16 229.25,319.7 229.75,319.41 230.25,319.3 230.75,319.4 231.25,319.73 231.75,320.29 232.25,321.08 232.75,322.08 233.25,323.3 233.75,324.71 234.25,326.31 234.75,328.08 235.25,330.02 235.75,332.1 236.25,334.31 236.75,336.6 237.25,338.88 237.75,341.02 238.25,342.79 238.75,343.92 239.25,344.2 239.75,343.57 240.25,342.15 240.75,340.2 241.25,337.97 241.75,335.67 242.25,333.41 242.75,331.24 243.25,329.22 243.75,327.34 244.25,325.63 244.75,324.1 245.25,322.77 245.75,321.64 246.25,320.72 246.75,320.02 247.25,319.56 247.75,319.32 248.25,319.3 248.75,319.48 249.25,319.84 249.75,320.34 250.25,320.97 250.75,321.69 251.25,322.51 251.75,323.41 252.25,324.37 252.75,325.39 253.25,326.46 253.75,327.56 254.25,328.7 254.75,329.86 255.25,331.03 255.75,332.2 256.25,333.37 256.75,334.54 257.25,335.69 257.75,336.83 258.25,337.95 258.75,339.04 259.25,340.11 259.75,341.15 260.25,342.16 260.75,343.15 261.25,344.1 261.75,345.01 262.25,345.9 262.75,346.76 263.25,347.58 263.75,348.38 264.25,349.14 264.75,349.88 265.25,350.59 265.75,351.26 266.25,351.92 266.75,352.54 267.25,353.14 267.75,353.72 268.25,354.27 268.75,354.8 269.25,355.31 269.75,355.8 270.25,356.27 270.75,356.72 271.25,357.16 271.75,357.57 272.25,357.97 272.75,358.35 273.25,358.72 273.75,359.08 274.25,359.42 274.75,359.74 275.25,360.06 275.75,360.36 276.25,360.65 276.75,360.93 277.25,361.2 277.75,361.46 278.25,361.71 278.75,361.95 279.25,362.18 279.75,362.41 280.25,362.62 280.75,362.83 281.25,363.03 281.75,363.23 282.25,363.42 282.75,363.6 283.25,363.77 283.75,363.94 284.25,364.1 284.75,364.26 285.25,364.41 285.75,364.56 286.25,364.71 286.75,364.84 287.25,364.98 287.75,365.11 288.25,365.23 288.75,365.36 289.25,365.47 289.75,365.59 290.25,365.7 290.75,365.81 291.25,365.91 291.75,366.01 292.25,366.11 292.75,366.21 293.25,366.3 293.75,366.39 294.25,366.48 294.75,366.57 295.25,366.65 295.75,366.73 296.25,366.81 296.75,366.89 297.25,366.96 297.75,367.03 298.25,367.1 298.75,367.17 299.25,367.24 299.75,367.3 300.25,367.37 300.75,367.43 301.25,367.49 301.75,367.55 302.25,367.6 302.75,367.66 303.25,367.72 303.75,367.77 304.25,367.82 304.75,367.86 305.25,367.9 305.75,367.93" stroke="#74c9a0" stroke-width="1.25"/>
<polyline points="172.25,368.76 172.75,368.73 173.25,368.7 173.75,368.66 174.25,368.61 174.75,368.56 175.25,368.51 175.75,368.46 176.25,368.41 176.75,368.35 177.25,368.3 177.75,368.24 178.25,368.18 178.75,368.12 179.25,368.06 179.75,368 180.25,367.93 180.75,367.86 181.25,367.79 181.75,367.72 182.25,367.65 182.75,367.58 183.25,367.5 183.75,367.42 184.25,367.34 184.75,367.26 185.25,367.17 185.75,367.08 186.25,366.99 186.75,366.9 187.25,366.8 187.75,366.7 188.25,366.6 188.75,366.49 189.25,366.38 189.75,366.27 190.25,366.15 190.75,366.03 191.25,365.91 191.75,365.78 192.25,365.65 192.75,365.51 193.25,365.37 193.75,365.23 194.25,365.08 194.75,364.92 195.25,364.76 195.75,364.59 196.25,364.42 196.75,364.24 197.25,364.06 197.75,363.87 198.25,363.67 198.75,363.46 199.25,363.25 199.75,363.03 200.25,362.8 200.75,362.56 201.25,362.31 201.75,362.05 202.25,361.78 202.75,361.51 203.25,361.22 203.75,360.92 204.25,360.61 204.75,360.28 205.25,359.94 205.75,359.59 206.25,359.23 206.75,358.84 207.25,358.45 207.75,358.03 208.25,357.6 208.75,357.15 209.25,356.69 209.75,356.2 210.25,355.69 210.75,355.16 211.25,354.61 211.75,354.04 212.25,353.44 212.75,352.82 213.25,352.17 213.75,351.49 214.25,350.79 214.75,350.06 215.25,349.3 215.75,348.52 216.25,347.7 216.75,346.85 217.25,345.98 217.75,345.07 218.25,344.14 218.75,343.18 219.25,342.19 219.75,341.17 220.25,340.14 220.75,339.08 221.25,338 221.75,336.91 222.25,335.81 222.75,334.71 223.25,333.61 223.75,332.51 224.25,331.43 224.75,330.37 225.25,329.35 225.75,328.36 226.25,327.42 226.75,326.54 227.25,325.73 227.75,324.99 228.25,324.34 228.75,323.8 229.25,323.38 229.75,323.1 230.25,323 230.75,323.09 231.25,323.4 231.75,323.91 232.25,324.64 232.75,325.57 233.25,326.69 233.75,328 234.25,329.47 234.75,331.11 235.25,332.9 235.75,334.83 236.25,336.87 236.75,338.98 237.25,341.09 237.75,343.07 238.25,344.7 238.75,345.74 239.25,346 239.75,345.41 240.25,344.11 240.75,342.3 241.25,340.25 241.75,338.12 242.25,336.03 242.75,334.03 243.25,332.16 243.75,330.42 244.25,328.84 244.75,327.43 245.25,326.2 245.75,325.15 246.25,324.3 246.75,323.66 247.25,323.23 247.75,323.01 248.25,323 248.75,323.17 249.25,323.51 249.75,323.98 250.25,324.57 250.75,325.25 251.25,326.02 251.75,326.86 252.25,327.77 252.75,328.73 253.25,329.73 253.75,330.78 254.25,331.84 254.75,332.93 255.25,334.03 255.75,335.13 256.25,336.24 256.75,337.33 257.25,338.42 257.75,339.49 258.25,340.54 258.75,341.57 259.25,342.57 259.75,343.55 260.25,344.5 260.75,345.43 261.25,346.32 261.75,347.19 262.25,348.02 262.75,348.83 263.25,349.6 263.75,350.35 264.25,351.07 264.75,351.76 265.25,352.42 265.75,353.06 266.25,353.67 266.75,354.26 267.25,354.83 267.75,355.37 268.25,355.89 268.75,356.39 269.25,356.87 269.75,357.33 270.25,357.77 270.75,358.2 271.25,358.6 271.75,358.99 272.25,359.37 272.75,359.73 273.25,360.08 273.75,360.41 274.25,360.73 274.75,361.04 275.25,361.33 275.75,361.62 276.25,361.89 276.75,362.15 277.25,362.41 277.75,362.65 278.25,362.89 278.75,363.11 279.25,363.33 279.75,363.54 280.25,363.74 280.75,363.94 281.25,364.13 281.75,364.31 282.25,364.49 282.75,364.66 283.25,364.82 283.75,364.98 284.25,365.14 284.75,365.28 285.25,365.43 285.75,365.57 286.25,365.7 286.75,365.83 287.25,365.96 287.75,366.08 288.25,366.2 288.75,366.31 289.25,366.42 289.75,366.53 290.25,366.64 290.75,366.74 291.25,366.84 291.75,366.93 292.25,367.03 292.75,367.12 293.25,367.2 293.75,367.29 294.25,367.37 294.75,367.45 295.25,367.53 295.75,367.61 296.25,367.68 296.75,367.75 297.25,367.82 297.75,367.89 298.25,367.96 298.75,368.02 299.25,368.08 299.75,368.14 300.25,368.2 300.75,368.26 301.25,368.32 301.75,368.37 302.25,368.43 302.75,368.48 303.25,368.53 303.75,368.58 304.25,368.63 304.75,368.67 305.25,368.71 305.75,368.73" stroke="#58a6de" stroke-width="1.25"/>
<polyline points="172.25,368.86 172.75,368.84 173.25,368.8 173.75,368.76 174.25,368.72 174.75,368.67 175.25,368.62 175.75,368.57 176.25,368.52 176.75,368.47 177.25,368.42 177.75,368.36 178.25,368.31 178.75,368.25 179.25,368.19 179.75,368.13 180.25,368.07 180.75,368 181.25,367.94 181.75,367.87 182.25,367.8 182.75,367.73 183.25,367.65 183.75,367.58 184.25,367.5 184.75,367.42 185.25,367.34 185.75,367.25 186.25,367.16 186.75,367.07 187.25,366.98 187.75,366.89 188.25,366.79 188.75,366.69 189.25,366.58 189.75,366.47 190.25,366.36 190.75,366.25 191.25,366.13 191.75,366.01 192.25,365.88 192.75,365.75 193.25,365.62 193.75,365.48 194.25,365.33 194.75,365.18 195.25,365.03 195.75,364.87 196.25,364.7 196.75,364.53 197.25,364.35 197.75,364.17 198.25,363.98 198.75,363.78 199.25,363.58 199.75,363.37 200.25,363.14 200.75,362.92 201.25,362.68 201.75,362.43 202.25,362.18 202.75,361.91 203.25,361.63 203.75,361.35 204.25,361.05 204.75,360.73 205.25,360.41 205.75,360.07 206.25,359.72 206.75,359.36 207.25,358.98 207.75,358.58 208.25,358.17 208.75,357.74 209.25,357.29 209.75,356.82 210.25,356.34 210.75,355.83 211.25,355.3 211.75,354.75 212.25,354.18 212.75,353.58 213.25,352.96 213.75,352.31 214.25,351.64 214.75,350.94 215.25,350.21 215.75,349.46 216.25,348.68 216.75,347.86 217.25,347.03 217.75,346.16 218.25,345.26 218.75,344.34 219.25,343.39 219.75,342.42 220.25,341.43 220.75,340.41 221.25,339.38 221.75,338.34 222.25,337.28 222.75,336.22 223.25,335.17 223.75,334.12 224.25,333.08 224.75,332.07 225.25,331.08 225.75,330.14 226.25,329.24 226.75,328.39 227.25,327.61 227.75,326.91 228.25,326.29 228.75,325.77 229.25,325.36 229.75,325.1 230.25,325 230.75,325.09 231.25,325.38 231.75,325.87 232.25,326.57 232.75,327.46 233.25,328.53 233.75,329.78 234.25,331.19 234.75,332.76 235.25,334.47 235.75,336.31 236.25,338.26 236.75,340.28 237.25,342.3 237.75,344.19 238.25,345.75 238.75,346.75 239.25,347 239.75,346.44 240.25,345.19 240.75,343.46 241.25,341.5 241.75,339.46 242.25,337.46 242.75,335.55 243.25,333.76 243.75,332.1 244.25,330.59 244.75,329.24 245.25,328.06 245.75,327.06 246.25,326.25 246.75,325.63 247.25,325.22 247.75,325.01 248.25,325 248.75,325.17 249.25,325.49 249.75,325.94 250.25,326.51 250.75,327.17 251.25,327.9 251.75,328.71 252.25,329.58 252.75,330.51 253.25,331.47 253.75,332.47 254.25,333.5 254.75,334.54 255.25,335.6 255.75,336.66 256.25,337.72 256.75,338.77 257.25,339.81 257.75,340.84 258.25,341.85 258.75,342.84 259.25,343.81 259.75,344.75 260.25,345.66 260.75,346.55 261.25,347.4 261.75,348.23 262.25,349.04 262.75,349.81 263.25,350.56 263.75,351.27 264.25,351.96 264.75,352.63 265.25,353.27 265.75,353.88 266.25,354.47 266.75,355.04 267.25,355.58 267.75,356.1 268.25,356.6 268.75,357.08 269.25,357.54 269.75,357.98 270.25,358.41 270.75,358.81 271.25,359.2 271.75,359.58 272.25,359.94 272.75,360.29 273.25,360.62 273.75,360.94 274.25,361.25 274.75,361.54 275.25,361.82 275.75,362.1 276.25,362.36 276.75,362.61 277.25,362.86 277.75,363.09 278.25,363.32 278.75,363.54 279.25,363.75 279.75,363.95 280.25,364.14 280.75,364.33 281.25,364.51 281.75,364.69 282.25,364.86 282.75,365.02 283.25,365.18 283.75,365.33 284.25,365.48 284.75,365.62 285.25,365.76 285.75,365.89 286.25,366.02 286.75,366.15 287.25,366.27 287.75,366.39 288.25,366.5 288.75,366.61 289.25,366.72 289.75,366.82 290.25,366.92 290.75,367.02 291.25,367.11 291.75,367.21 292.25,367.3 292.75,367.38 293.25,367.47 293.75,367.55 294.25,367.63 294.75,367.7 295.25,367.78 295.75,367.85 296.25,367.92 296.75,367.99 297.25,368.06 297.75,368.13 298.25,368.19 298.75,368.25 299.25,368.31 299.75,368.37 300.25,368.43 300.75,368.48 301.25,368.54 301.75,368.59 302.25,368.64 302.75,368.69 303.25,368.74 303.75,368.79 304.25,368.83 304.75,368.88 305.25,368.91 305.75,368.94" stroke="#3553ac" stroke-width="1.25"/>
<polyline points="172.25,368.97 172.75,368.94 173.25,368.91 173.75,368.87 174.25,368.83 174.75,368.79 175.25,368.74 175.75,368.7 176.25,368.65 176.75,368.6 177.25,368.55 177.75,368.5 178.25,368.45 178.75,368.39 179.25,368.34 179.75,368.28 180.25,368.22 180.75,368.16 181.25,368.1 181.75,368.04 182.25,367.97 182.75,367.9 183.25,367.84 183.75,367.76 184.25,367.69 184.75,367.62 185.25,367.54 185.75,367.46 186.25,367.38 186.75,367.3 187.25,367.21 187.75,367.12 188.25,367.03 188.75,366.93 189.25,366.84 189.75,366.73 190.25,366.63 190.75,366.52 191.25,366.41 191.75,366.3 192.25,366.18 192.75,366.06 193.25,365.93 193.75,365.8 194.25,365.67 194.75,365.53 195.25,365.38 195.75,365.23 196.25,365.08 196.75,364.92 197.25,364.75 197.75,364.58 198.25,364.4 198.75,364.22 199.25,364.03 199.75,363.83 200.25,363.62 200.75,363.41 201.25,363.19 201.75,362.96 202.25,362.72 202.75,362.47 203.25,362.21 203.75,361.94 204.25,361.66 204.75,361.37 205.25,361.07 205.75,360.76 206.25,360.43 206.75,360.09 207.25,359.73 207.75,359.36 208.25,358.98 208.75,358.57 209.25,358.16 209.75,357.72 210.25,357.26 210.75,356.79 211.25,356.3 211.75,355.78 212.25,355.25 212.75,354.69 213.25,354.11 213.75,353.51 214.25,352.88 214.75,352.22 215.25,351.54 215.75,350.84 216.25,350.11 216.75,349.35 217.25,348.57 217.75,347.76 218.25,346.92 218.75,346.06 219.25,345.17 219.75,344.27 220.25,343.34 220.75,342.39 221.25,341.43 221.75,340.45 222.25,339.47 222.75,338.48 223.25,337.49 223.75,336.51 224.25,335.54 224.75,334.6 225.25,333.68 225.75,332.79 226.25,331.95 226.75,331.16 227.25,330.44 227.75,329.78 228.25,329.2 228.75,328.71 229.25,328.33 229.75,328.09 230.25,328 230.75,328.09 231.25,328.37 231.75,328.84 232.25,329.51 232.75,330.36 233.25,331.39 233.75,332.59 234.25,333.94 234.75,335.45 235.25,337.09 235.75,338.85 236.25,340.72 236.75,342.66 237.25,344.6 237.75,346.41 238.25,347.91 238.75,348.86 239.25,349.1 239.75,348.56 240.25,347.36 240.75,345.71 241.25,343.82 241.75,341.87 242.25,339.95 242.75,338.12 243.25,336.4 243.75,334.81 244.25,333.36 244.75,332.07 245.25,330.94 245.75,329.98 246.25,329.2 246.75,328.61 247.25,328.21 247.75,328.01 248.25,328 248.75,328.16 249.25,328.46 249.75,328.89 250.25,329.42 250.75,330.05 251.25,330.74 251.75,331.51 252.25,332.33 252.75,333.2 253.25,334.12 253.75,335.06 254.25,336.03 254.75,337.02 255.25,338.02 255.75,339.02 256.25,340.02 256.75,341.02 257.25,342 257.75,342.98 258.25,343.93 258.75,344.87 259.25,345.78 259.75,346.67 260.25,347.53 260.75,348.37 261.25,349.18 261.75,349.97 262.25,350.72 262.75,351.46 263.25,352.16 263.75,352.84 264.25,353.49 264.75,354.12 265.25,354.72 265.75,355.3 266.25,355.86 266.75,356.4 267.25,356.91 267.75,357.4 268.25,357.87 268.75,358.33 269.25,358.76 269.75,359.18 270.25,359.58 270.75,359.97 271.25,360.34 271.75,360.69 272.25,361.03 272.75,361.36 273.25,361.68 273.75,361.98 274.25,362.27 274.75,362.55 275.25,362.82 275.75,363.07 276.25,363.32 276.75,363.56 277.25,363.79 277.75,364.01 278.25,364.23 278.75,364.43 279.25,364.63 279.75,364.82 280.25,365.01 280.75,365.19 281.25,365.36 281.75,365.52 282.25,365.68 282.75,365.84 283.25,365.99 283.75,366.13 284.25,366.27 284.75,366.41 285.25,366.54 285.75,366.66 286.25,366.79 286.75,366.9 287.25,367.02 287.75,367.13 288.25,367.24 288.75,367.34 289.25,367.44 289.75,367.54 290.25,367.64 290.75,367.73 291.25,367.82 291.75,367.9 292.25,367.99 292.75,368.07 293.25,368.15 293.75,368.23 294.25,368.3 294.75,368.38 295.25,368.45 295.75,368.52 296.25,368.58 296.75,368.65 297.25,368.71 297.75,368.77 298.25,368.83 298.75,368.89 299.25,368.95 299.75,369 300.25,369.06 300.75,369.11 301.25,369.16 301.75,369.21 302.25,369.26 302.75,369.31 303.25,369.36 303.75,369.4 304.25,369.44 304.75,369.48 305.25,369.51 305.75,369.54" stroke="#e85a2e" stroke-width="1.25"/>
<polyline points="172.25,373.68 172.75,373.66 173.25,373.64 173.75,373.62 174.25,373.59 174.75,373.56 175.25,373.53 175.75,373.5 176.25,373.47 176.75,373.44 177.25,373.4 177.75,373.37 178.25,373.34 178.75,373.3 179.25,373.26 179.75,373.23 180.25,373.19 180.75,373.15 181.25,373.11 181.75,373.07 182.25,373.02 182.75,372.98 183.25,372.93 183.75,372.89 184.25,372.84 184.75,372.79 185.25,372.74 185.75,372.69 186.25,372.64 186.75,372.58 187.25,372.52 187.75,372.46 188.25,372.4 188.75,372.34 189.25,372.28 189.75,372.21 190.25,372.14 190.75,372.07 191.25,372 191.75,371.92 192.25,371.85 192.75,371.77 193.25,371.68 193.75,371.6 194.25,371.51 194.75,371.42 195.25,371.32 195.75,371.23 196.25,371.12 196.75,371.02 197.25,370.91 197.75,370.8 198.25,370.68 198.75,370.56 199.25,370.43 199.75,370.3 200.25,370.17 200.75,370.03 201.25,369.88 201.75,369.73 202.25,369.57 202.75,369.41 203.25,369.24 203.75,369.06 204.25,368.88 204.75,368.69 205.25,368.49 205.75,368.28 206.25,368.07 206.75,367.84 207.25,367.61 207.75,367.37 208.25,367.11 208.75,366.85 209.25,366.57 209.75,366.29 210.25,365.99 210.75,365.68 211.25,365.35 211.75,365.02 212.25,364.66 212.75,364.3 213.25,363.92 213.75,363.52 214.25,363.11 214.75,362.68 215.25,362.23 215.75,361.77 216.25,361.29 216.75,360.79 217.25,360.28 217.75,359.74 218.25,359.19 218.75,358.63 219.25,358.05 219.75,357.45 220.25,356.84 220.75,356.22 221.25,355.58 221.75,354.94 222.25,354.3 222.75,353.65 223.25,353 223.75,352.35 224.25,351.72 224.75,351.1 225.25,350.49 225.75,349.91 226.25,349.36 226.75,348.84 227.25,348.36 227.75,347.93 228.25,347.55 228.75,347.23 229.25,346.97 229.75,346.79 230.25,346.7 230.75,346.7 231.25,346.79 231.75,346.97 232.25,347.22 232.75,347.56 233.25,347.96 233.75,348.43 234.25,348.96 234.75,349.55 235.25,350.19 235.75,350.88 236.25,351.62 236.75,352.37 237.25,353.13 237.75,353.84 238.25,354.43 238.75,354.81 239.25,354.9 239.75,354.69 240.25,354.22 240.75,353.58 241.25,352.84 241.75,352.07 242.25,351.32 242.75,350.61 243.25,349.94 243.75,349.31 244.25,348.75 244.75,348.24 245.25,347.8 245.75,347.43 246.25,347.12 246.75,346.9 247.25,346.76 247.75,346.7 248.25,346.73 248.75,346.86 249.25,347.06 249.75,347.33 250.25,347.67 250.75,348.06 251.25,348.5 251.75,348.98 252.25,349.49 252.75,350.04 253.25,350.62 253.75,351.21 254.25,351.82 254.75,352.44 255.25,353.07 255.75,353.7 256.25,354.33 256.75,354.95 257.25,355.57 257.75,356.18 258.25,356.78 258.75,357.37 259.25,357.94 259.75,358.5 260.25,359.04 260.75,359.57 261.25,360.08 261.75,360.57 262.25,361.05 262.75,361.51 263.25,361.95 263.75,362.37 264.25,362.78 264.75,363.18 265.25,363.56 265.75,363.92 266.25,364.27 266.75,364.61 267.25,364.93 267.75,365.24 268.25,365.54 268.75,365.82 269.25,366.09 269.75,366.36 270.25,366.61 270.75,366.85 271.25,367.08 271.75,367.31 272.25,367.52 272.75,367.73 273.25,367.92 273.75,368.11 274.25,368.3 274.75,368.47 275.25,368.64 275.75,368.8 276.25,368.96 276.75,369.11 277.25,369.25 277.75,369.39 278.25,369.53 278.75,369.66 279.25,369.78 279.75,369.9 280.25,370.02 280.75,370.13 281.25,370.24 281.75,370.34 282.25,370.44 282.75,370.54 283.25,370.63 283.75,370.72 284.25,370.81 284.75,370.89 285.25,370.98 285.75,371.06 286.25,371.13 286.75,371.21 287.25,371.28 287.75,371.35 288.25,371.42 288.75,371.48 289.25,371.55 289.75,371.61 290.25,371.67 290.75,371.72 291.25,371.78 291.75,371.83 292.25,371.89 292.75,371.94 293.25,371.99 293.75,372.04 294.25,372.08 294.75,372.13 295.25,372.18 295.75,372.22 296.25,372.26 296.75,372.3 297.25,372.34 297.75,372.38 298.25,372.42 298.75,372.46 299.25,372.49 299.75,372.53 300.25,372.56 300.75,372.59 301.25,372.63 301.75,372.66 302.25,372.69 302.75,372.72 303.25,372.75 303.75,372.78 304.25,372.8 304.75,372.83 305.25,372.85 305.75,372.86" stroke="#3e3d70" stroke-width="1.25"/>
<polyline points="172.25,374.48 172.75,374.47 173.25,374.45 173.75,374.43 174.25,374.4 174.75,374.38 175.25,374.35 175.75,374.32 176.25,374.3 176.75,374.27 177.25,374.24 177.75,374.21 178.25,374.18 178.75,374.15 179.25,374.11 179.75,374.08 180.25,374.05 180.75,374.01 181.25,373.98 181.75,373.94 182.25,373.9 182.75,373.86 183.25,373.82 183.75,373.78 184.25,373.74 184.75,373.7 185.25,373.65 185.75,373.6 186.25,373.56 186.75,373.51 187.25,373.46 187.75,373.41 188.25,373.35 188.75,373.3 189.25,373.24 189.75,373.18 190.25,373.12 190.75,373.06 191.25,372.99 191.75,372.93 192.25,372.86 192.75,372.79 193.25,372.71 193.75,372.64 194.25,372.56 194.75,372.48 195.25,372.4 195.75,372.31 196.25,372.22 196.75,372.13 197.25,372.03 197.75,371.93 198.25,371.83 198.75,371.72 199.25,371.61 199.75,371.49 200.25,371.37 200.75,371.25 201.25,371.12 201.75,370.99 202.25,370.85 202.75,370.7 203.25,370.55 203.75,370.39 204.25,370.23 204.75,370.06 205.25,369.89 205.75,369.7 206.25,369.51 206.75,369.31 207.25,369.11 207.75,368.89 208.25,368.67 208.75,368.43 209.25,368.19 209.75,367.94 210.25,367.67 210.75,367.4 211.25,367.11 211.75,366.81 212.25,366.5 212.75,366.17 213.25,365.84 213.75,365.49 214.25,365.12 214.75,364.74 215.25,364.34 215.75,363.93 216.25,363.51 216.75,363.07 217.25,362.61 217.75,362.14 218.25,361.65 218.75,361.15 219.25,360.64 219.75,360.11 220.25,359.57 220.75,359.02 221.25,358.46 221.75,357.89 222.25,357.32 222.75,356.74 223.25,356.17 223.75,355.6 224.25,355.04 224.75,354.48 225.25,353.95 225.75,353.44 226.25,352.95 226.75,352.49 227.25,352.06 227.75,351.68 228.25,351.34 228.75,351.06 229.25,350.83 229.75,350.68 230.25,350.6 230.75,350.61 231.25,350.7 231.75,350.87 232.25,351.12 232.75,351.45 233.25,351.84 233.75,352.3 234.25,352.81 234.75,353.39 235.25,354.01 235.75,354.69 236.25,355.4 236.75,356.14 237.25,356.88 237.75,357.57 238.25,358.14 238.75,358.51 239.25,358.6 239.75,358.4 240.25,357.94 240.75,357.31 241.25,356.59 241.75,355.85 242.25,355.12 242.75,354.42 243.25,353.76 243.75,353.16 244.25,352.61 244.75,352.12 245.25,351.68 245.75,351.32 246.25,351.02 246.75,350.8 247.25,350.66 247.75,350.6 248.25,350.62 248.75,350.72 249.25,350.9 249.75,351.13 250.25,351.42 250.75,351.76 251.25,352.14 251.75,352.55 252.25,353 252.75,353.47 253.25,353.96 253.75,354.48 254.25,355 254.75,355.54 255.25,356.08 255.75,356.62 256.25,357.17 256.75,357.71 257.25,358.24 257.75,358.77 258.25,359.29 258.75,359.79 259.25,360.29 259.75,360.77 260.25,361.24 260.75,361.69 261.25,362.13 261.75,362.56 262.25,362.97 262.75,363.36 263.25,363.75 263.75,364.11 264.25,364.47 264.75,364.81 265.25,365.14 265.75,365.45 266.25,365.75 266.75,366.04 267.25,366.32 267.75,366.59 268.25,366.84 268.75,367.09 269.25,367.33 269.75,367.55 270.25,367.77 270.75,367.98 271.25,368.18 271.75,368.37 272.25,368.56 272.75,368.73 273.25,368.9 273.75,369.07 274.25,369.23 274.75,369.38 275.25,369.52 275.75,369.66 276.25,369.8 276.75,369.93 277.25,370.05 277.75,370.17 278.25,370.29 278.75,370.4 279.25,370.51 279.75,370.61 280.25,370.71 280.75,370.81 281.25,370.9 281.75,370.99 282.25,371.08 282.75,371.16 283.25,371.24 283.75,371.32 284.25,371.4 284.75,371.47 285.25,371.54 285.75,371.61 286.25,371.67 286.75,371.74 287.25,371.8 287.75,371.86 288.25,371.92 288.75,371.98 289.25,372.03 289.75,372.08 290.25,372.14 290.75,372.19 291.25,372.23 291.75,372.28 292.25,372.33 292.75,372.37 293.25,372.41 293.75,372.46 294.25,372.5 294.75,372.54 295.25,372.57 295.75,372.61 296.25,372.65 296.75,372.68 297.25,372.72 297.75,372.75 298.25,372.78 298.75,372.82 299.25,372.85 299.75,372.88 300.25,372.91 300.75,372.94 301.25,372.96 301.75,372.99 302.25,373.02 302.75,373.04 303.25,373.07 303.75,373.09 304.25,373.12 304.75,373.14 305.25,373.15 305.75,373.17" stroke="#acd35e" stroke-width="1.25"/>
<polyline points="172.25,375.29 172.75,375.28 173.25,375.26 173.75,375.25 174.25,375.23 174.75,375.21 175.25,375.19 175.75,375.17 176.25,375.15 176.75,375.13 177.25,375.11 177.75,375.09 178.25,375.07 178.75,375.05 179.25,375.02 179.75,375 180.25,374.97 180.75,374.95 181.25,374.92 181.75,374.9 182.25,374.87 182.75,374.84 183.25,374.81 183.75,374.78 184.25,374.75 184.75,374.72 185.25,374.69 185.75,374.66 186.25,374.62 186.75,374.59 187.25,374.55 187.75,374.51 188.25,374.47 188.75,374.44 189.25,374.39 189.75,374.35 190.25,374.31 190.75,374.26 191.25,374.22 191.75,374.17 192.25,374.12 192.75,374.07 193.25,374.02 193.75,373.96 194.25,373.91 194.75,373.85 195.25,373.79 195.75,373.72 196.25,373.66 196.75,373.59 197.25,373.52 197.75,373.45 198.25,373.38 198.75,373.3 199.25,373.22 199.75,373.14 200.25,373.05 200.75,372.96 201.25,372.87 201.75,372.77 202.25,372.67 202.75,372.57 203.25,372.46 203.75,372.35 204.25,372.23 204.75,372.11 205.25,371.98 205.75,371.85 206.25,371.71 206.75,371.57 207.25,371.42 207.75,371.27 208.25,371.11 208.75,370.94 209.25,370.76 209.75,370.58 210.25,370.39 210.75,370.19 211.25,369.99 211.75,369.77 212.25,369.55 212.75,369.31 213.25,369.07 213.75,368.82 214.25,368.55 214.75,368.28 215.25,368 215.75,367.7 216.25,367.4 216.75,367.08 217.25,366.75 217.75,366.41 218.25,366.06 218.75,365.7 219.25,365.33 219.75,364.95 220.25,364.56 220.75,364.17 221.25,363.76 221.75,363.36 222.25,362.94 222.75,362.53 223.25,362.12 223.75,361.71 224.25,361.3 224.75,360.91 225.25,360.52 225.75,360.15 226.25,359.8 226.75,359.47 227.25,359.17 227.75,358.89 228.25,358.65 228.75,358.44 229.25,358.28 229.75,358.16 230.25,358.1 230.75,358.1 231.25,358.15 231.75,358.26 232.25,358.41 232.75,358.61 233.25,358.85 233.75,359.13 234.25,359.45 234.75,359.8 235.25,360.18 235.75,360.6 236.25,361.04 236.75,361.49 237.25,361.94 237.75,362.37 238.25,362.72 238.75,362.94 239.25,363 239.75,362.87 240.25,362.59 240.75,362.21 241.25,361.77 241.75,361.31 242.25,360.86 242.75,360.43 243.25,360.03 243.75,359.66 244.25,359.32 244.75,359.02 245.25,358.75 245.75,358.53 246.25,358.35 246.75,358.22 247.25,358.13 247.75,358.1 248.25,358.12 248.75,358.2 249.25,358.33 249.75,358.5 250.25,358.71 250.75,358.95 251.25,359.23 251.75,359.53 252.25,359.85 252.75,360.2 253.25,360.55 253.75,360.93 254.25,361.31 254.75,361.7 255.25,362.09 255.75,362.48 256.25,362.88 256.75,363.27 257.25,363.65 257.75,364.04 258.25,364.41 258.75,364.78 259.25,365.14 259.75,365.49 260.25,365.83 260.75,366.16 261.25,366.48 261.75,366.78 262.25,367.08 262.75,367.37 263.25,367.65 263.75,367.91 264.25,368.17 264.75,368.42 265.25,368.65 265.75,368.88 266.25,369.1 266.75,369.31 267.25,369.51 267.75,369.71 268.25,369.89 268.75,370.07 269.25,370.24 269.75,370.41 270.25,370.56 270.75,370.71 271.25,370.86 271.75,371 272.25,371.13 272.75,371.26 273.25,371.39 273.75,371.5 274.25,371.62 274.75,371.73 275.25,371.83 275.75,371.94 276.25,372.03 276.75,372.13 277.25,372.22 277.75,372.3 278.25,372.39 278.75,372.47 279.25,372.55 279.75,372.62 280.25,372.7 280.75,372.77 281.25,372.83 281.75,372.9 282.25,372.96 282.75,373.02 283.25,373.08 283.75,373.14 284.25,373.19 284.75,373.24 285.25,373.3 285.75,373.35 286.25,373.39 286.75,373.44 287.25,373.49 287.75,373.53 288.25,373.57 288.75,373.61 289.25,373.65 289.75,373.69 290.25,373.73 290.75,373.76 291.25,373.8 291.75,373.83 292.25,373.87 292.75,373.9 293.25,373.93 293.75,373.96 294.25,373.99 294.75,374.02 295.25,374.05 295.75,374.07 296.25,374.1 296.75,374.13 297.25,374.15 297.75,374.17 298.25,374.2 298.75,374.22 299.25,374.24 299.75,374.27 300.25,374.29 300.75,374.31 301.25,374.33 301.75,374.35 302.25,374.37 302.75,374.39 303.25,374.4 303.75,374.42 304.25,374.44 304.75,374.45 305.25,374.47 305.75,374.48" stroke="#f3bf45" stroke-width="1.25"/>
</g>
<rect x="172.3" y="315.5" width="133.7" height="63" fill="none" stroke="#555555" stroke-width="1.1"/>
<line x1="170.70000000000002" y1="318.8" x2="172.3" y2="318.8" stroke="#555555" stroke-width="0.8"/>
<line x1="170.70000000000002" y1="329.9" x2="172.3" y2="329.9" stroke="#555555" stroke-width="0.8"/>
<line x1="170.70000000000002" y1="341.0" x2="172.3" y2="341.0" stroke="#555555" stroke-width="0.8"/>
<line x1="170.70000000000002" y1="352.1" x2="172.3" y2="352.1" stroke="#555555" stroke-width="0.8"/>
<line x1="170.70000000000002" y1="363.2" x2="172.3" y2="363.2" stroke="#555555" stroke-width="0.8"/>
<line x1="170.70000000000002" y1="374.3" x2="172.3" y2="374.3" stroke="#555555" stroke-width="0.8"/>
<line x1="239.15" y1="378.5" x2="239.15" y2="380.0" stroke="#555555" stroke-width="0.8"/>
<text x="239.45" y="313.2" font-size="7.1" text-anchor="middle" fill="#2a2a2a" stroke="#2a2a2a" stroke-width="0.07" >MT</text>
<text x="239.15" y="386.7" font-size="6.65" text-anchor="middle" fill="#2a2a2a" stroke="#2a2a2a" stroke-width="0.07" >center</text>
<text x="28.6" y="321.3" font-size="7.2" text-anchor="end" fill="#2a2a2a" stroke="#2a2a2a" stroke-width="0.07" >30</text>
<text x="28.6" y="332.4" font-size="7.2" text-anchor="end" fill="#2a2a2a" stroke="#2a2a2a" stroke-width="0.07" >25</text>
<text x="28.6" y="343.5" font-size="7.2" text-anchor="end" fill="#2a2a2a" stroke="#2a2a2a" stroke-width="0.07" >20</text>
<text x="28.6" y="354.6" font-size="7.2" text-anchor="end" fill="#2a2a2a" stroke="#2a2a2a" stroke-width="0.07" >15</text>
<text x="28.6" y="365.7" font-size="7.2" text-anchor="end" fill="#2a2a2a" stroke="#2a2a2a" stroke-width="0.07" >10</text>
<text x="28.6" y="376.8" font-size="7.2" text-anchor="end" fill="#2a2a2a" stroke="#2a2a2a" stroke-width="0.07" >5</text>
<text x="28" y="386.7" font-size="6.65" text-anchor="start" fill="#2a2a2a" stroke="#2a2a2a" stroke-width="0.07" >-3.0kb</text>
<text x="165.6" y="386.7" font-size="6.65" text-anchor="end" fill="#2a2a2a" stroke="#2a2a2a" stroke-width="0.07" >3.0</text>
<text x="168.2" y="386.7" font-size="6.65" text-anchor="start" fill="#2a2a2a" stroke="#2a2a2a" stroke-width="0.07" >-3.0</text>
<text x="306.6" y="386.7" font-size="6.65" text-anchor="end" fill="#2a2a2a" stroke="#2a2a2a" stroke-width="0.07" >3.0</text>
<line x1="33.6" y1="321.7" x2="42.8" y2="321.7" stroke="#74c9a0" stroke-width="1.5"/>
<text x="45.6" y="324.1" font-size="6.65" text-anchor="start" fill="#2a2a2a" stroke="#2a2a2a" stroke-width="0.07" >KLF5+MYOD+MYOG+MEF2D</text>
<line x1="33.6" y1="329.8" x2="42.8" y2="329.8" stroke="#58a6de" stroke-width="1.5"/>
<text x="45.6" y="332.2" font-size="6.65" text-anchor="start" fill="#2a2a2a" stroke="#2a2a2a" stroke-width="0.07" >KLF5+MYOD+MYOG</text>
<line x1="33.6" y1="337.5" x2="42.8" y2="337.5" stroke="#3553ac" stroke-width="1.5"/>
<text x="45.6" y="339.9" font-size="6.65" text-anchor="start" fill="#2a2a2a" stroke="#2a2a2a" stroke-width="0.07" >KLF5+MYOD</text>
<line x1="33.6" y1="344.2" x2="42.8" y2="344.2" stroke="#e85a2e" stroke-width="1.5"/>
<text x="45.6" y="346.6" font-size="6.65" text-anchor="start" fill="#2a2a2a" stroke="#2a2a2a" stroke-width="0.07" >KLF5</text>
<line x1="33.6" y1="350.8" x2="42.8" y2="350.8" stroke="#3e3d70" stroke-width="1.5"/>
<text x="45.6" y="353.2" font-size="6.65" text-anchor="start" fill="#2a2a2a" stroke="#2a2a2a" stroke-width="0.07" >MEF2D</text>
<line x1="33.6" y1="357.5" x2="42.8" y2="357.5" stroke="#acd35e" stroke-width="1.5"/>
<text x="45.6" y="359.9" font-size="6.65" text-anchor="start" fill="#2a2a2a" stroke="#2a2a2a" stroke-width="0.07" >MYOG</text>
<line x1="33.6" y1="364" x2="42.8" y2="364" stroke="#f3bf45" stroke-width="1.5"/>
<text x="45.6" y="366.4" font-size="6.65" text-anchor="start" fill="#2a2a2a" stroke="#2a2a2a" stroke-width="0.07" >MYOD</text>
<text x="309.6" y="15.7" font-size="12.3" text-anchor="start" fill="#333" stroke="#333" stroke-width="0.3" >e</text>
<line x1="340.1" y1="23.7" x2="340.1" y2="171.4" stroke="#4a4a4a" stroke-width="1.25"/>
<line x1="340.1" y1="171.4" x2="484.0" y2="171.4" stroke="#4a4a4a" stroke-width="1.25"/>
<line x1="338.4" y1="36.2" x2="340.1" y2="36.2" stroke="#4a4a4a" stroke-width="0.9"/>
<text x="337.6" y="38.7" font-size="7.2" text-anchor="end" fill="#2a2a2a" stroke="#2a2a2a" stroke-width="0.07" >5.0</text>
<line x1="338.4" y1="70.0" x2="340.1" y2="70.0" stroke="#4a4a4a" stroke-width="0.9"/>
<text x="337.6" y="72.5" font-size="7.2" text-anchor="end" fill="#2a2a2a" stroke="#2a2a2a" stroke-width="0.07" >4.0</text>
<line x1="338.4" y1="103.8" x2="340.1" y2="103.8" stroke="#4a4a4a" stroke-width="0.9"/>
<text x="337.6" y="106.3" font-size="7.2" text-anchor="end" fill="#2a2a2a" stroke="#2a2a2a" stroke-width="0.07" >3.0</text>
<line x1="338.4" y1="137.6" x2="340.1" y2="137.6" stroke="#4a4a4a" stroke-width="0.9"/>
<text x="337.6" y="140.1" font-size="7.2" text-anchor="end" fill="#2a2a2a" stroke="#2a2a2a" stroke-width="0.07" >2.0</text>
<line x1="360.3" y1="171.4" x2="360.3" y2="173.0" stroke="#4a4a4a" stroke-width="0.9"/>
<text x="360.3" y="180" font-size="6.65" text-anchor="middle" fill="#2a2a2a" stroke="#2a2a2a" stroke-width="0.07" >KLF5</text>
<line x1="394.5" y1="171.4" x2="394.5" y2="173.0" stroke="#4a4a4a" stroke-width="0.9"/>
<text x="394.5" y="180" font-size="6.65" text-anchor="middle" fill="#2a2a2a" stroke="#2a2a2a" stroke-width="0.07" >MYOD</text>
<line x1="428.4" y1="171.4" x2="428.4" y2="173.0" stroke="#4a4a4a" stroke-width="0.9"/>
<text x="428.4" y="180" font-size="6.65" text-anchor="middle" fill="#2a2a2a" stroke="#2a2a2a" stroke-width="0.07" >MYOG</text>
<line x1="462.5" y1="171.4" x2="462.5" y2="173.0" stroke="#4a4a4a" stroke-width="0.9"/>
<text x="462.5" y="180" font-size="6.65" text-anchor="middle" fill="#2a2a2a" stroke="#2a2a2a" stroke-width="0.07" >MEF2D</text>
<text x="0" y="0" font-size="6.9" text-anchor="middle" fill="#2a2a2a" stroke="#2a2a2a" stroke-width="0.07" transform="translate(323.8,96.2) rotate(-90)">Fold enrichment for MT SEs</text>
<path d="M360.5,33.5 V30.9 H463.2 V33.5" fill="none" stroke="#7a7a7a" stroke-width="0.85"/>
<text x="393.2" y="29.2" font-size="6.55" fill="#2a2a2a" stroke="#2a2a2a" stroke-width="0.06">p &lt; 2.22×10<tspan font-size="4.0" dy="-2.7">−16</tspan></text>
<path d="M360.5,41.4 V38.8 H428.7 V41.4" fill="none" stroke="#7a7a7a" stroke-width="0.85"/>
<text x="373.1" y="37.4" font-size="6.55" fill="#2a2a2a" stroke="#2a2a2a" stroke-width="0.06">p &lt; 2.22×10<tspan font-size="4.0" dy="-2.7">−16</tspan></text>
<path d="M360.5,50.4 V47.8 H394.1 V50.4" fill="none" stroke="#7a7a7a" stroke-width="0.85"/>
<text x="361.8" y="45.4" font-size="6.55" fill="#2a2a2a" stroke="#2a2a2a" stroke-width="0.06">p &lt; 2.22×10<tspan font-size="4.0" dy="-2.7">−16</tspan></text>
<polygon points="360,66.5 359.99,66.92 359.99,67.34 359.99,67.76 359.98,68.19 359.98,68.61 359.97,69.03 359.97,69.45 359.96,69.87 359.96,70.29 359.95,70.71 359.95,71.14 359.94,71.56 359.94,71.98 359.93,72.4 359.93,72.82 359.93,73.24 359.92,73.66 359.92,74.08 359.91,74.51 359.91,74.93 359.9,75.35 359.9,75.77 359.89,76.19 359.89,76.61 359.88,77.03 359.88,77.46 359.87,77.88 359.87,78.3 359.86,78.72 359.86,79.14 359.85,79.56 359.85,79.98 359.84,80.41 359.83,80.83 359.82,81.25 359.81,81.67 359.8,82.09 359.79,82.51 359.78,82.93 359.77,83.36 359.76,83.78 359.75,84.2 359.73,84.62 359.72,85.04 359.7,85.46 359.68,85.88 359.66,86.31 359.63,86.73 359.6,87.15 359.56,87.57 359.53,87.99 359.49,88.41 359.45,88.83 359.41,89.25 359.36,89.68 359.31,90.1 359.25,90.52 359.19,90.94 359.12,91.36 359.05,91.78 358.98,92.2 358.9,92.63 358.83,93.05 358.76,93.47 358.69,93.89 358.61,94.31 358.52,94.73 358.42,95.15 358.32,95.58 358.22,96 358.1,96.42 357.98,96.84 357.87,97.26 357.75,97.68 357.63,98.1 357.51,98.53 357.4,98.95 357.29,99.37 357.19,99.79 357.1,100.21 357.02,100.63 356.95,101.05 356.88,101.47 356.82,101.9 356.75,102.32 356.69,102.74 356.64,103.16 356.61,103.58 356.6,104 356.6,104.42 356.62,104.85 356.66,105.27 356.71,105.69 356.76,106.11 356.82,106.53 356.88,106.95 356.95,107.37 357.03,107.8 357.12,108.22 357.23,108.64 357.35,109.06 357.48,109.48 357.62,109.9 357.76,110.32 357.89,110.75 358.02,111.17 358.13,111.59 358.23,112.01 358.32,112.43 358.4,112.85 358.47,113.27 358.53,113.69 358.58,114.12 358.64,114.54 358.69,114.96 358.75,115.38 358.81,115.8 358.86,116.22 358.92,116.64 358.97,117.07 359.02,117.49 359.07,117.91 359.12,118.33 359.16,118.75 359.19,119.17 359.23,119.59 359.26,120.02 359.3,120.44 359.33,120.86 359.37,121.28 359.4,121.7 359.43,122.12 359.47,122.54 359.5,122.97 359.54,123.39 359.57,123.81 359.61,124.23 359.64,124.65 359.67,125.07 359.71,125.49 359.74,125.92 359.77,126.34 359.79,126.76 359.82,127.18 359.85,127.6 359.87,128.02 359.9,128.44 359.92,128.86 359.95,129.29 359.97,129.71 360,130.13 360.02,130.55 360.05,130.97 360.07,131.39 360.1,131.81 360.12,132.24 360.15,132.66 360.16,133.08 360.2,133.5 360.4,133.5 360.44,133.08 360.45,132.66 360.48,132.24 360.5,131.81 360.53,131.39 360.55,130.97 360.58,130.55 360.6,130.13 360.63,129.71 360.65,129.29 360.68,128.86 360.7,128.44 360.73,128.02 360.75,127.6 360.78,127.18 360.81,126.76 360.83,126.34 360.86,125.92 360.89,125.49 360.93,125.07 360.96,124.65 360.99,124.23 361.03,123.81 361.06,123.39 361.1,122.97 361.13,122.54 361.17,122.12 361.2,121.7 361.23,121.28 361.27,120.86 361.3,120.44 361.34,120.02 361.37,119.59 361.41,119.17 361.44,118.75 361.48,118.33 361.53,117.91 361.58,117.49 361.63,117.07 361.68,116.64 361.74,116.22 361.79,115.8 361.85,115.38 361.91,114.96 361.96,114.54 362.02,114.12 362.07,113.69 362.13,113.27 362.2,112.85 362.28,112.43 362.37,112.01 362.47,111.59 362.58,111.17 362.71,110.75 362.84,110.32 362.98,109.9 363.12,109.48 363.25,109.06 363.37,108.64 363.48,108.22 363.57,107.8 363.65,107.37 363.72,106.95 363.78,106.53 363.84,106.11 363.89,105.69 363.94,105.27 363.98,104.85 364,104.42 364,104 363.99,103.58 363.96,103.16 363.91,102.74 363.85,102.32 363.78,101.9 363.72,101.47 363.65,101.05 363.58,100.63 363.5,100.21 363.41,99.79 363.31,99.37 363.2,98.95 363.09,98.53 362.97,98.1 362.85,97.68 362.73,97.26 362.62,96.84 362.5,96.42 362.38,96 362.28,95.58 362.18,95.15 362.08,94.73 361.99,94.31 361.91,93.89 361.84,93.47 361.77,93.05 361.7,92.63 361.62,92.2 361.55,91.78 361.48,91.36 361.41,90.94 361.35,90.52 361.29,90.1 361.24,89.68 361.19,89.25 361.15,88.83 361.11,88.41 361.07,87.99 361.04,87.57 361,87.15 360.97,86.73 360.94,86.31 360.92,85.88 360.9,85.46 360.88,85.04 360.87,84.62 360.85,84.2 360.84,83.78 360.83,83.36 360.82,82.93 360.81,82.51 360.8,82.09 360.79,81.67 360.78,81.25 360.77,80.83 360.76,80.41 360.75,79.98 360.75,79.56 360.74,79.14 360.74,78.72 360.73,78.3 360.73,77.88 360.72,77.46 360.72,77.03 360.71,76.61 360.71,76.19 360.7,75.77 360.7,75.35 360.69,74.93 360.69,74.51 360.68,74.08 360.68,73.66 360.67,73.24 360.67,72.82 360.67,72.4 360.66,71.98 360.66,71.56 360.65,71.14 360.65,70.71 360.64,70.29 360.64,69.87 360.63,69.45 360.63,69.03 360.62,68.61 360.62,68.19 360.61,67.76 360.61,67.34 360.61,66.92 360.6,66.5" fill="#486d92" stroke="#486d92" stroke-width="0.35" stroke-linejoin="round"/>
<circle cx="360.3" cy="55.5" r="0.9" fill="#2a2a2a"/>
<circle cx="360.3" cy="58.3" r="0.9" fill="#2a2a2a"/>
<circle cx="360.3" cy="61.1" r="0.9" fill="#2a2a2a"/>
<circle cx="360.3" cy="63.9" r="0.9" fill="#2a2a2a"/>
<circle cx="360.3" cy="66.7" r="0.9" fill="#2a2a2a"/>
<rect x="356.8" y="95.4" width="7" height="16.6" fill="#fff" stroke="#8a8a8a" stroke-width="0.6"/>
<line x1="356.8" y1="103.7" x2="363.8" y2="103.7" stroke="#8a8a8a" stroke-width="0.6"/>
<line x1="394.5" y1="156.1" x2="394.5" y2="165.8" stroke="#2a2a2a" stroke-width="1.2"/>
<polygon points="394.5,159.1 393.91,159.13 393.63,159.15 393.31,159.18 392.96,159.2 392.62,159.23 392.3,159.25 392.01,159.28 391.74,159.3 391.48,159.33 391.23,159.35 390.98,159.38 390.74,159.4 390.5,159.43 390.27,159.45 390.05,159.48 389.82,159.5 389.61,159.53 389.39,159.55 389.18,159.58 388.97,159.6 388.76,159.63 388.56,159.65 388.35,159.68 388.15,159.7 387.96,159.73 387.76,159.75 387.57,159.78 387.37,159.8 387.18,159.83 386.99,159.85 386.81,159.88 386.62,159.91 386.44,159.93 386.25,159.96 386.07,159.98 385.89,160.01 385.71,160.03 385.54,160.06 385.36,160.08 385.18,160.11 385.01,160.13 384.84,160.16 384.66,160.18 384.49,160.21 384.32,160.23 384.15,160.26 383.99,160.28 383.82,160.31 383.65,160.33 383.49,160.36 383.32,160.38 383.16,160.41 382.99,160.43 382.83,160.46 382.67,160.48 382.51,160.51 382.35,160.53 382.19,160.56 382.03,160.58 381.87,160.61 381.71,160.63 381.56,160.66 381.4,160.68 381.24,160.71 381.09,160.74 380.93,160.76 380.78,160.79 380.63,160.81 380.47,160.84 380.32,160.86 380.17,160.89 380.02,160.91 379.87,160.94 379.72,160.96 379.57,160.99 379.42,161.01 379.29,161.04 379.21,161.06 379.16,161.09 379.16,161.11 379.21,161.14 379.29,161.16 379.42,161.19 379.57,161.21 379.72,161.24 379.87,161.26 380.02,161.29 380.17,161.31 380.32,161.34 380.47,161.36 380.63,161.39 380.78,161.41 380.93,161.44 381.09,161.46 381.24,161.49 381.4,161.52 381.56,161.54 381.71,161.57 381.87,161.59 382.03,161.62 382.19,161.64 382.35,161.67 382.51,161.69 382.67,161.72 382.83,161.74 382.99,161.77 383.16,161.79 383.32,161.82 383.49,161.84 383.65,161.87 383.82,161.89 383.99,161.92 384.15,161.94 384.32,161.97 384.49,161.99 384.66,162.02 384.84,162.04 385.01,162.07 385.18,162.09 385.36,162.12 385.54,162.14 385.71,162.17 385.89,162.19 386.07,162.22 386.25,162.24 386.44,162.27 386.62,162.29 386.81,162.32 386.99,162.35 387.18,162.37 387.37,162.4 387.57,162.42 387.76,162.45 387.96,162.47 388.15,162.5 388.35,162.52 388.56,162.55 388.76,162.57 388.97,162.6 389.18,162.62 389.39,162.65 389.61,162.67 389.82,162.7 390.05,162.72 390.27,162.75 390.5,162.77 390.74,162.8 390.98,162.82 391.23,162.85 391.48,162.87 391.74,162.9 392.01,162.92 392.3,162.95 392.62,162.97 392.96,163 393.31,163.02 393.63,163.05 393.91,163.07 394.5,163.1 394.5,163.1 395.09,163.07 395.37,163.05 395.69,163.02 396.04,163 396.38,162.97 396.7,162.95 396.99,162.92 397.26,162.9 397.52,162.87 397.77,162.85 398.02,162.82 398.26,162.8 398.5,162.77 398.73,162.75 398.95,162.72 399.18,162.7 399.39,162.67 399.61,162.65 399.82,162.62 400.03,162.6 400.24,162.57 400.44,162.55 400.65,162.52 400.85,162.5 401.04,162.47 401.24,162.45 401.43,162.42 401.63,162.4 401.82,162.37 402.01,162.35 402.19,162.32 402.38,162.29 402.56,162.27 402.75,162.24 402.93,162.22 403.11,162.19 403.29,162.17 403.46,162.14 403.64,162.12 403.82,162.09 403.99,162.07 404.16,162.04 404.34,162.02 404.51,161.99 404.68,161.97 404.85,161.94 405.01,161.92 405.18,161.89 405.35,161.87 405.51,161.84 405.68,161.82 405.84,161.79 406.01,161.77 406.17,161.74 406.33,161.72 406.49,161.69 406.65,161.67 406.81,161.64 406.97,161.62 407.13,161.59 407.29,161.57 407.44,161.54 407.6,161.52 407.76,161.49 407.91,161.46 408.07,161.44 408.22,161.41 408.37,161.39 408.53,161.36 408.68,161.34 408.83,161.31 408.98,161.29 409.13,161.26 409.28,161.24 409.43,161.21 409.58,161.19 409.71,161.16 409.79,161.14 409.84,161.11 409.84,161.09 409.79,161.06 409.71,161.04 409.58,161.01 409.43,160.99 409.28,160.96 409.13,160.94 408.98,160.91 408.83,160.89 408.68,160.86 408.53,160.84 408.37,160.81 408.22,160.79 408.07,160.76 407.91,160.74 407.76,160.71 407.6,160.68 407.44,160.66 407.29,160.63 407.13,160.61 406.97,160.58 406.81,160.56 406.65,160.53 406.49,160.51 406.33,160.48 406.17,160.46 406.01,160.43 405.84,160.41 405.68,160.38 405.51,160.36 405.35,160.33 405.18,160.31 405.01,160.28 404.85,160.26 404.68,160.23 404.51,160.21 404.34,160.18 404.16,160.16 403.99,160.13 403.82,160.11 403.64,160.08 403.46,160.06 403.29,160.03 403.11,160.01 402.93,159.98 402.75,159.96 402.56,159.93 402.38,159.91 402.19,159.88 402.01,159.85 401.82,159.83 401.63,159.8 401.43,159.78 401.24,159.75 401.04,159.73 400.85,159.7 400.65,159.68 400.44,159.65 400.24,159.63 400.03,159.6 399.82,159.58 399.61,159.55 399.39,159.53 399.18,159.5 398.95,159.48 398.73,159.45 398.5,159.43 398.26,159.4 398.02,159.38 397.77,159.35 397.52,159.33 397.26,159.3 396.99,159.28 396.7,159.25 396.38,159.23 396.04,159.2 395.69,159.18 395.37,159.15 395.09,159.13 394.5,159.1" fill="#8cc63f" stroke="#4f7a25" stroke-width="0.55" stroke-linejoin="round"/>
<rect x="391.5" y="159.9" width="6" height="2.4" fill="#d4d4d4" stroke="#8a8a8a" stroke-width="0.45"/>
<line x1="391.5" y1="161.1" x2="397.5" y2="161.1" stroke="#999" stroke-width="0.4"/>
<line x1="428.5" y1="147.8" x2="428.5" y2="160.0" stroke="#2a2a2a" stroke-width="1.2"/>
<polygon points="428.5,151.1 428.08,151.15 427.89,151.21 427.67,151.26 427.43,151.31 427.19,151.36 426.98,151.42 426.79,151.47 426.61,151.52 426.43,151.58 426.27,151.63 426.11,151.68 425.95,151.73 425.8,151.79 425.65,151.84 425.5,151.89 425.36,151.95 425.21,152 425.08,152.05 424.94,152.1 424.8,152.16 424.67,152.21 424.54,152.26 424.41,152.32 424.28,152.37 424.16,152.42 424.03,152.47 423.91,152.53 423.79,152.58 423.67,152.63 423.55,152.68 423.43,152.74 423.31,152.79 423.19,152.84 423.08,152.9 422.96,152.95 422.85,153 422.74,153.05 422.63,153.11 422.51,153.16 422.4,153.21 422.29,153.27 422.19,153.32 422.08,153.37 421.97,153.42 421.86,153.48 421.76,153.53 421.65,153.58 421.55,153.64 421.44,153.69 421.34,153.74 421.24,153.79 421.14,153.85 421.03,153.9 420.93,153.95 420.83,154.01 420.73,154.06 420.63,154.11 420.53,154.16 420.43,154.22 420.34,154.27 420.24,154.32 420.14,154.38 420.04,154.43 419.95,154.48 419.85,154.53 419.76,154.59 419.66,154.64 419.57,154.69 419.47,154.75 419.38,154.8 419.28,154.85 419.19,154.9 419.1,154.96 419,155.01 418.91,155.06 418.82,155.12 418.74,155.17 418.69,155.22 418.66,155.27 418.66,155.33 418.69,155.38 418.74,155.43 418.82,155.48 418.91,155.54 419,155.59 419.1,155.64 419.19,155.7 419.28,155.75 419.38,155.8 419.47,155.85 419.57,155.91 419.66,155.96 419.76,156.01 419.85,156.07 419.95,156.12 420.04,156.17 420.14,156.22 420.24,156.28 420.34,156.33 420.43,156.38 420.53,156.44 420.63,156.49 420.73,156.54 420.83,156.59 420.93,156.65 421.03,156.7 421.14,156.75 421.24,156.81 421.34,156.86 421.44,156.91 421.55,156.96 421.65,157.02 421.76,157.07 421.86,157.12 421.97,157.18 422.08,157.23 422.19,157.28 422.29,157.33 422.4,157.39 422.51,157.44 422.63,157.49 422.74,157.55 422.85,157.6 422.96,157.65 423.08,157.7 423.19,157.76 423.31,157.81 423.43,157.86 423.55,157.92 423.67,157.97 423.79,158.02 423.91,158.07 424.03,158.13 424.16,158.18 424.28,158.23 424.41,158.28 424.54,158.34 424.67,158.39 424.8,158.44 424.94,158.5 425.08,158.55 425.21,158.6 425.36,158.65 425.5,158.71 425.65,158.76 425.8,158.81 425.95,158.87 426.11,158.92 426.27,158.97 426.43,159.02 426.61,159.08 426.79,159.13 426.98,159.18 427.19,159.24 427.43,159.29 427.67,159.34 427.89,159.39 428.08,159.45 428.5,159.5 428.5,159.5 428.92,159.45 429.11,159.39 429.33,159.34 429.57,159.29 429.81,159.24 430.02,159.18 430.21,159.13 430.39,159.08 430.57,159.02 430.73,158.97 430.89,158.92 431.05,158.87 431.2,158.81 431.35,158.76 431.5,158.71 431.64,158.65 431.79,158.6 431.92,158.55 432.06,158.5 432.2,158.44 432.33,158.39 432.46,158.34 432.59,158.28 432.72,158.23 432.84,158.18 432.97,158.13 433.09,158.07 433.21,158.02 433.33,157.97 433.45,157.92 433.57,157.86 433.69,157.81 433.81,157.76 433.92,157.7 434.04,157.65 434.15,157.6 434.26,157.55 434.37,157.49 434.49,157.44 434.6,157.39 434.71,157.33 434.81,157.28 434.92,157.23 435.03,157.18 435.14,157.12 435.24,157.07 435.35,157.02 435.45,156.96 435.56,156.91 435.66,156.86 435.76,156.81 435.86,156.75 435.97,156.7 436.07,156.65 436.17,156.59 436.27,156.54 436.37,156.49 436.47,156.44 436.57,156.38 436.66,156.33 436.76,156.28 436.86,156.22 436.96,156.17 437.05,156.12 437.15,156.07 437.24,156.01 437.34,155.96 437.43,155.91 437.53,155.85 437.62,155.8 437.72,155.75 437.81,155.7 437.9,155.64 438,155.59 438.09,155.54 438.18,155.48 438.26,155.43 438.31,155.38 438.34,155.33 438.34,155.27 438.31,155.22 438.26,155.17 438.18,155.12 438.09,155.06 438,155.01 437.9,154.96 437.81,154.9 437.72,154.85 437.62,154.8 437.53,154.75 437.43,154.69 437.34,154.64 437.24,154.59 437.15,154.53 437.05,154.48 436.96,154.43 436.86,154.38 436.76,154.32 436.66,154.27 436.57,154.22 436.47,154.16 436.37,154.11 436.27,154.06 436.17,154.01 436.07,153.95 435.97,153.9 435.86,153.85 435.76,153.79 435.66,153.74 435.56,153.69 435.45,153.64 435.35,153.58 435.24,153.53 435.14,153.48 435.03,153.42 434.92,153.37 434.81,153.32 434.71,153.27 434.6,153.21 434.49,153.16 434.37,153.11 434.26,153.05 434.15,153 434.04,152.95 433.92,152.9 433.81,152.84 433.69,152.79 433.57,152.74 433.45,152.68 433.33,152.63 433.21,152.58 433.09,152.53 432.97,152.47 432.84,152.42 432.72,152.37 432.59,152.32 432.46,152.26 432.33,152.21 432.2,152.16 432.06,152.1 431.92,152.05 431.79,152 431.64,151.95 431.5,151.89 431.35,151.84 431.2,151.79 431.05,151.73 430.89,151.68 430.73,151.63 430.57,151.58 430.39,151.52 430.21,151.47 430.02,151.42 429.81,151.36 429.57,151.31 429.33,151.26 429.11,151.21 428.92,151.15 428.5,151.1" fill="#f5a443" stroke="#a86a28" stroke-width="0.55" stroke-linejoin="round"/>
<rect x="425.5" y="153.9" width="6" height="2.8" fill="#d4d4d4" stroke="#8a8a8a" stroke-width="0.45"/>
<line x1="425.5" y1="155.3" x2="431.5" y2="155.3" stroke="#999" stroke-width="0.4"/>
<line x1="462.8" y1="142.0" x2="462.8" y2="159.8" stroke="#2a2a2a" stroke-width="1.2"/>
<polygon points="462.8,146.1 462.49,146.17 462.35,146.24 462.19,146.31 462,146.38 461.83,146.45 461.68,146.52 461.53,146.59 461.4,146.66 461.27,146.73 461.15,146.8 461.03,146.87 460.91,146.95 460.8,147.02 460.69,147.09 460.58,147.16 460.47,147.23 460.37,147.3 460.27,147.37 460.16,147.44 460.07,147.51 459.97,147.58 459.87,147.65 459.77,147.72 459.68,147.79 459.59,147.86 459.49,147.93 459.4,148 459.31,148.07 459.22,148.14 459.13,148.21 459.05,148.28 458.96,148.35 458.87,148.42 458.79,148.49 458.7,148.57 458.62,148.64 458.54,148.71 458.45,148.78 458.37,148.85 458.29,148.92 458.21,148.99 458.13,149.06 458.05,149.13 457.97,149.2 457.89,149.27 457.81,149.34 457.73,149.41 457.66,149.48 457.58,149.55 457.5,149.62 457.43,149.69 457.35,149.76 457.27,149.83 457.2,149.9 457.13,149.97 457.05,150.04 456.98,150.12 456.9,150.19 456.83,150.26 456.76,150.33 456.69,150.4 456.61,150.47 456.54,150.54 456.47,150.61 456.4,150.68 456.33,150.75 456.26,150.82 456.19,150.89 456.12,150.96 456.05,151.03 455.98,151.1 455.91,151.17 455.84,151.24 455.77,151.31 455.7,151.38 455.64,151.45 455.58,151.52 455.54,151.59 455.52,151.66 455.52,151.74 455.54,151.81 455.58,151.88 455.64,151.95 455.7,152.02 455.77,152.09 455.84,152.16 455.91,152.23 455.98,152.3 456.05,152.37 456.12,152.44 456.19,152.51 456.26,152.58 456.33,152.65 456.4,152.72 456.47,152.79 456.54,152.86 456.61,152.93 456.69,153 456.76,153.07 456.83,153.14 456.9,153.21 456.98,153.28 457.05,153.36 457.13,153.43 457.2,153.5 457.27,153.57 457.35,153.64 457.43,153.71 457.5,153.78 457.58,153.85 457.66,153.92 457.73,153.99 457.81,154.06 457.89,154.13 457.97,154.2 458.05,154.27 458.13,154.34 458.21,154.41 458.29,154.48 458.37,154.55 458.45,154.62 458.54,154.69 458.62,154.76 458.7,154.83 458.79,154.91 458.87,154.98 458.96,155.05 459.05,155.12 459.13,155.19 459.22,155.26 459.31,155.33 459.4,155.4 459.49,155.47 459.59,155.54 459.68,155.61 459.77,155.68 459.87,155.75 459.97,155.82 460.07,155.89 460.16,155.96 460.27,156.03 460.37,156.1 460.47,156.17 460.58,156.24 460.69,156.31 460.8,156.38 460.91,156.45 461.03,156.53 461.15,156.6 461.27,156.67 461.4,156.74 461.53,156.81 461.68,156.88 461.83,156.95 462,157.02 462.19,157.09 462.35,157.16 462.49,157.23 462.8,157.3 462.8,157.3 463.11,157.23 463.25,157.16 463.41,157.09 463.6,157.02 463.77,156.95 463.92,156.88 464.07,156.81 464.2,156.74 464.33,156.67 464.45,156.6 464.57,156.53 464.69,156.45 464.8,156.38 464.91,156.31 465.02,156.24 465.13,156.17 465.23,156.1 465.33,156.03 465.44,155.96 465.53,155.89 465.63,155.82 465.73,155.75 465.83,155.68 465.92,155.61 466.01,155.54 466.11,155.47 466.2,155.4 466.29,155.33 466.38,155.26 466.47,155.19 466.55,155.12 466.64,155.05 466.73,154.98 466.81,154.91 466.9,154.83 466.98,154.76 467.06,154.69 467.15,154.62 467.23,154.55 467.31,154.48 467.39,154.41 467.47,154.34 467.55,154.27 467.63,154.2 467.71,154.13 467.79,154.06 467.87,153.99 467.94,153.92 468.02,153.85 468.1,153.78 468.17,153.71 468.25,153.64 468.33,153.57 468.4,153.5 468.47,153.43 468.55,153.36 468.62,153.28 468.7,153.21 468.77,153.14 468.84,153.07 468.91,153 468.99,152.93 469.06,152.86 469.13,152.79 469.2,152.72 469.27,152.65 469.34,152.58 469.41,152.51 469.48,152.44 469.55,152.37 469.62,152.3 469.69,152.23 469.76,152.16 469.83,152.09 469.9,152.02 469.96,151.95 470.02,151.88 470.06,151.81 470.08,151.74 470.08,151.66 470.06,151.59 470.02,151.52 469.96,151.45 469.9,151.38 469.83,151.31 469.76,151.24 469.69,151.17 469.62,151.1 469.55,151.03 469.48,150.96 469.41,150.89 469.34,150.82 469.27,150.75 469.2,150.68 469.13,150.61 469.06,150.54 468.99,150.47 468.91,150.4 468.84,150.33 468.77,150.26 468.7,150.19 468.62,150.12 468.55,150.04 468.47,149.97 468.4,149.9 468.33,149.83 468.25,149.76 468.17,149.69 468.1,149.62 468.02,149.55 467.94,149.48 467.87,149.41 467.79,149.34 467.71,149.27 467.63,149.2 467.55,149.13 467.47,149.06 467.39,148.99 467.31,148.92 467.23,148.85 467.15,148.78 467.06,148.71 466.98,148.64 466.9,148.57 466.81,148.49 466.73,148.42 466.64,148.35 466.55,148.28 466.47,148.21 466.38,148.14 466.29,148.07 466.2,148 466.11,147.93 466.01,147.86 465.92,147.79 465.83,147.72 465.73,147.65 465.63,147.58 465.53,147.51 465.44,147.44 465.33,147.37 465.23,147.3 465.13,147.23 465.02,147.16 464.91,147.09 464.8,147.02 464.69,146.95 464.57,146.87 464.45,146.8 464.33,146.73 464.2,146.66 464.07,146.59 463.92,146.52 463.77,146.45 463.6,146.38 463.41,146.31 463.25,146.24 463.11,146.17 462.8,146.1" fill="#ee6b5d" stroke="#9a3e36" stroke-width="0.55" stroke-linejoin="round"/>
<rect x="459.8" y="150.3" width="6" height="2.8" fill="#d4d4d4" stroke="#8a8a8a" stroke-width="0.45"/>
<line x1="459.8" y1="151.7" x2="465.8" y2="151.7" stroke="#999" stroke-width="0.4"/>
<text x="311" y="219" font-size="12.3" text-anchor="start" fill="#333" stroke="#333" stroke-width="0.3" >f</text>
<line x1="340.1" y1="230.2" x2="340.1" y2="378.6" stroke="#4a4a4a" stroke-width="1.25"/>
<line x1="340.1" y1="378.6" x2="480.7" y2="378.6" stroke="#4a4a4a" stroke-width="1.25"/>
<line x1="338.4" y1="261.4" x2="340.1" y2="261.4" stroke="#4a4a4a" stroke-width="0.9"/>
<text x="337.6" y="263.9" font-size="7.2" text-anchor="end" fill="#2a2a2a" stroke="#2a2a2a" stroke-width="0.07" >4.0</text>
<line x1="338.4" y1="293.6" x2="340.1" y2="293.6" stroke="#4a4a4a" stroke-width="0.9"/>
<text x="337.6" y="296.1" font-size="7.2" text-anchor="end" fill="#2a2a2a" stroke="#2a2a2a" stroke-width="0.07" >3.5</text>
<line x1="338.4" y1="325.8" x2="340.1" y2="325.8" stroke="#4a4a4a" stroke-width="0.9"/>
<text x="337.6" y="328.3" font-size="7.2" text-anchor="end" fill="#2a2a2a" stroke="#2a2a2a" stroke-width="0.07" >3.0</text>
<line x1="338.4" y1="358.0" x2="340.1" y2="358.0" stroke="#4a4a4a" stroke-width="0.9"/>
<text x="337.6" y="360.5" font-size="7.2" text-anchor="end" fill="#2a2a2a" stroke="#2a2a2a" stroke-width="0.07" >2.5</text>
<line x1="360.3" y1="378.6" x2="360.3" y2="380.20000000000005" stroke="#4a4a4a" stroke-width="0.9"/>
<text x="360.3" y="386.6" font-size="6.65" text-anchor="middle" fill="#2a2a2a" stroke="#2a2a2a" stroke-width="0.07" >KLF5</text>
<line x1="393.8" y1="378.6" x2="393.8" y2="380.20000000000005" stroke="#4a4a4a" stroke-width="0.9"/>
<text x="393.8" y="386.6" font-size="6.65" text-anchor="middle" fill="#2a2a2a" stroke="#2a2a2a" stroke-width="0.07" >MYOD</text>
<line x1="427.3" y1="378.6" x2="427.3" y2="380.20000000000005" stroke="#4a4a4a" stroke-width="0.9"/>
<text x="427.3" y="386.6" font-size="6.65" text-anchor="middle" fill="#2a2a2a" stroke="#2a2a2a" stroke-width="0.07" >MYOG</text>
<line x1="460.8" y1="378.6" x2="460.8" y2="380.20000000000005" stroke="#4a4a4a" stroke-width="0.9"/>
<text x="460.8" y="386.6" font-size="6.65" text-anchor="middle" fill="#2a2a2a" stroke="#2a2a2a" stroke-width="0.07" >MEF2D</text>
<text x="0" y="0" font-size="6.5" text-anchor="middle" fill="#2a2a2a" stroke="#2a2a2a" stroke-width="0.07" transform="translate(323.4,301.6) rotate(-90)">Fold enrichment for conserved elements</text>
<path d="M360.3,240.3 V237.7 H460.6 V240.3" fill="none" stroke="#7a7a7a" stroke-width="0.85"/>
<text x="392.4" y="234.8" font-size="6.55" fill="#2a2a2a" stroke="#2a2a2a" stroke-width="0.06">p &lt; 2.22×10<tspan font-size="4.0" dy="-2.7">−16</tspan></text>
<path d="M360.3,249.4 V246.8 H427.5 V249.4" fill="none" stroke="#7a7a7a" stroke-width="0.85"/>
<text x="376.7" y="245.4" font-size="6.55" fill="#2a2a2a" stroke="#2a2a2a" stroke-width="0.06">p &lt; 2.22×10<tspan font-size="4.0" dy="-2.7">−16</tspan></text>
<path d="M360.3,259.1 V256.5 H393.6 V259.1" fill="none" stroke="#7a7a7a" stroke-width="0.85"/>
<text x="361" y="254.1" font-size="6.55" fill="#2a2a2a" stroke="#2a2a2a" stroke-width="0.06">p &lt; 2.22×10<tspan font-size="4.0" dy="-2.7">−16</tspan></text>
<polygon points="360.2,275 360.18,275.29 360.16,275.58 360.15,275.87 360.13,276.16 360.11,276.45 360.1,276.74 360.08,277.03 360.06,277.31 360.04,277.6 360.03,277.89 360.01,278.18 359.99,278.47 359.97,278.76 359.96,279.05 359.94,279.34 359.92,279.63 359.89,279.92 359.87,280.21 359.84,280.5 359.8,280.79 359.77,281.08 359.74,281.36 359.7,281.65 359.67,281.94 359.63,282.23 359.6,282.52 359.56,282.81 359.53,283.1 359.49,283.39 359.46,283.68 359.42,283.97 359.39,284.26 359.35,284.55 359.31,284.84 359.27,285.13 359.22,285.42 359.17,285.7 359.12,285.99 359.07,286.28 359.02,286.57 358.96,286.86 358.91,287.15 358.86,287.44 358.81,287.73 358.76,288.02 358.7,288.31 358.65,288.6 358.6,288.89 358.55,289.18 358.5,289.47 358.44,289.75 358.39,290.04 358.33,290.33 358.27,290.62 358.22,290.91 358.16,291.2 358.1,291.49 358.04,291.78 357.99,292.07 357.93,292.36 357.87,292.65 357.81,292.94 357.76,293.23 357.71,293.52 357.66,293.81 357.62,294.09 357.58,294.38 357.55,294.67 357.53,294.96 357.51,295.25 357.49,295.54 357.47,295.83 357.45,296.12 357.42,296.41 357.4,296.7 357.38,296.99 357.36,297.28 357.34,297.57 357.32,297.86 357.3,298.14 357.28,298.43 357.26,298.72 357.25,299.01 357.24,299.3 357.25,299.59 357.26,299.88 357.28,300.17 357.3,300.46 357.34,300.75 357.37,301.04 357.4,301.33 357.43,301.62 357.46,301.91 357.49,302.19 357.53,302.48 357.56,302.77 357.59,303.06 357.62,303.35 357.65,303.64 357.68,303.93 357.72,304.22 357.75,304.51 357.8,304.8 357.84,305.09 357.89,305.38 357.95,305.67 358.01,305.96 358.07,306.25 358.14,306.53 358.2,306.82 358.26,307.11 358.33,307.4 358.39,307.69 358.46,307.98 358.52,308.27 358.58,308.56 358.65,308.85 358.71,309.14 358.77,309.43 358.83,309.72 358.88,310.01 358.93,310.3 358.98,310.58 359.02,310.87 359.06,311.16 359.1,311.45 359.14,311.74 359.18,312.03 359.22,312.32 359.27,312.61 359.31,312.9 359.35,313.19 359.39,313.48 359.43,313.77 359.47,314.06 359.51,314.35 359.54,314.64 359.58,314.92 359.62,315.21 359.65,315.5 359.68,315.79 359.71,316.08 359.74,316.37 359.77,316.66 359.79,316.95 359.82,317.24 359.85,317.53 359.88,317.82 359.91,318.11 359.94,318.4 359.97,318.69 360,318.97 360.03,319.26 360.06,319.55 360.08,319.84 360.11,320.13 360.14,320.42 360.16,320.71 360.2,321 360.8,321 360.84,320.71 360.86,320.42 360.89,320.13 360.92,319.84 360.94,319.55 360.97,319.26 361,318.97 361.03,318.69 361.06,318.4 361.09,318.11 361.12,317.82 361.15,317.53 361.18,317.24 361.21,316.95 361.23,316.66 361.26,316.37 361.29,316.08 361.32,315.79 361.35,315.5 361.38,315.21 361.42,314.92 361.46,314.64 361.49,314.35 361.53,314.06 361.57,313.77 361.61,313.48 361.65,313.19 361.69,312.9 361.73,312.61 361.78,312.32 361.82,312.03 361.86,311.74 361.9,311.45 361.94,311.16 361.98,310.87 362.02,310.58 362.07,310.3 362.12,310.01 362.17,309.72 362.23,309.43 362.29,309.14 362.35,308.85 362.42,308.56 362.48,308.27 362.54,307.98 362.61,307.69 362.67,307.4 362.74,307.11 362.8,306.82 362.86,306.53 362.93,306.25 362.99,305.96 363.05,305.67 363.11,305.38 363.16,305.09 363.2,304.8 363.25,304.51 363.28,304.22 363.32,303.93 363.35,303.64 363.38,303.35 363.41,303.06 363.44,302.77 363.47,302.48 363.51,302.19 363.54,301.91 363.57,301.62 363.6,301.33 363.63,301.04 363.66,300.75 363.7,300.46 363.72,300.17 363.74,299.88 363.75,299.59 363.76,299.3 363.75,299.01 363.74,298.72 363.72,298.43 363.7,298.14 363.68,297.86 363.66,297.57 363.64,297.28 363.62,296.99 363.6,296.7 363.58,296.41 363.55,296.12 363.53,295.83 363.51,295.54 363.49,295.25 363.47,294.96 363.45,294.67 363.42,294.38 363.38,294.09 363.34,293.81 363.29,293.52 363.24,293.23 363.19,292.94 363.13,292.65 363.07,292.36 363.01,292.07 362.96,291.78 362.9,291.49 362.84,291.2 362.78,290.91 362.73,290.62 362.67,290.33 362.61,290.04 362.56,289.75 362.5,289.47 362.45,289.18 362.4,288.89 362.35,288.6 362.3,288.31 362.24,288.02 362.19,287.73 362.14,287.44 362.09,287.15 362.04,286.86 361.98,286.57 361.93,286.28 361.88,285.99 361.83,285.7 361.78,285.42 361.73,285.13 361.69,284.84 361.65,284.55 361.61,284.26 361.58,283.97 361.54,283.68 361.51,283.39 361.47,283.1 361.44,282.81 361.4,282.52 361.37,282.23 361.33,281.94 361.3,281.65 361.26,281.36 361.23,281.08 361.2,280.79 361.16,280.5 361.13,280.21 361.11,279.92 361.08,279.63 361.06,279.34 361.04,279.05 361.03,278.76 361.01,278.47 360.99,278.18 360.97,277.89 360.96,277.6 360.94,277.31 360.92,277.03 360.9,276.74 360.89,276.45 360.87,276.16 360.85,275.87 360.84,275.58 360.82,275.29 360.8,275" fill="#5a88b6" stroke="#5a88b6" stroke-width="0.35" stroke-linejoin="round"/>
<circle cx="360.5" cy="266.8" r="0.9" fill="#2a2a2a"/>
<circle cx="360.5" cy="269.2" r="0.9" fill="#2a2a2a"/>
<circle cx="360.5" cy="271.6" r="0.9" fill="#2a2a2a"/>
<circle cx="360.5" cy="274" r="0.9" fill="#2a2a2a"/>
<circle cx="360.5" cy="322.2" r="0.9" fill="#2a2a2a"/>
<circle cx="360.5" cy="324.6" r="0.9" fill="#2a2a2a"/>
<circle cx="360.5" cy="327" r="0.9" fill="#2a2a2a"/>
<rect x="357.2" y="294.0" width="6.6" height="11.2" fill="#fff" stroke="#8a8a8a" stroke-width="0.6"/>
<line x1="357.2" y1="299.5" x2="363.8" y2="299.5" stroke="#8a8a8a" stroke-width="0.6"/>
<line x1="393.7" y1="362.2" x2="393.7" y2="372.3" stroke="#2a2a2a" stroke-width="1.2"/>
<polygon points="393.7,364.1 393.14,364.13 392.88,364.17 392.57,364.2 392.23,364.23 391.91,364.26 391.61,364.3 391.34,364.33 391.08,364.36 390.83,364.39 390.59,364.43 390.36,364.46 390.13,364.49 389.91,364.53 389.69,364.56 389.47,364.59 389.26,364.62 389.06,364.66 388.85,364.69 388.65,364.72 388.45,364.75 388.25,364.79 388.06,364.82 387.87,364.85 387.68,364.88 387.49,364.92 387.31,364.95 387.12,364.98 386.94,365.02 386.76,365.05 386.58,365.08 386.4,365.11 386.23,365.15 386.05,365.18 385.88,365.21 385.71,365.24 385.53,365.28 385.36,365.31 385.2,365.34 385.03,365.38 384.86,365.41 384.7,365.44 384.53,365.47 384.37,365.51 384.21,365.54 384.04,365.57 383.88,365.6 383.72,365.64 383.57,365.67 383.41,365.7 383.25,365.74 383.09,365.77 382.94,365.8 382.78,365.83 382.63,365.87 382.48,365.9 382.32,365.93 382.17,365.96 382.02,366 381.87,366.03 381.72,366.06 381.57,366.09 381.42,366.13 381.27,366.16 381.12,366.19 380.98,366.23 380.83,366.26 380.68,366.29 380.54,366.32 380.39,366.36 380.25,366.39 380.11,366.42 379.96,366.45 379.82,366.49 379.68,366.52 379.53,366.55 379.39,366.59 379.27,366.62 379.19,366.65 379.15,366.68 379.15,366.72 379.19,366.75 379.27,366.78 379.39,366.81 379.53,366.85 379.68,366.88 379.82,366.91 379.96,366.95 380.11,366.98 380.25,367.01 380.39,367.04 380.54,367.08 380.68,367.11 380.83,367.14 380.98,367.17 381.12,367.21 381.27,367.24 381.42,367.27 381.57,367.31 381.72,367.34 381.87,367.37 382.02,367.4 382.17,367.44 382.32,367.47 382.48,367.5 382.63,367.53 382.78,367.57 382.94,367.6 383.09,367.63 383.25,367.66 383.41,367.7 383.57,367.73 383.72,367.76 383.88,367.8 384.04,367.83 384.21,367.86 384.37,367.89 384.53,367.93 384.7,367.96 384.86,367.99 385.03,368.02 385.2,368.06 385.36,368.09 385.53,368.12 385.71,368.16 385.88,368.19 386.05,368.22 386.23,368.25 386.4,368.29 386.58,368.32 386.76,368.35 386.94,368.38 387.12,368.42 387.31,368.45 387.49,368.48 387.68,368.52 387.87,368.55 388.06,368.58 388.25,368.61 388.45,368.65 388.65,368.68 388.85,368.71 389.06,368.74 389.26,368.78 389.47,368.81 389.69,368.84 389.91,368.87 390.13,368.91 390.36,368.94 390.59,368.97 390.83,369.01 391.08,369.04 391.34,369.07 391.61,369.1 391.91,369.14 392.23,369.17 392.57,369.2 392.88,369.23 393.14,369.27 393.7,369.3 393.7,369.3 394.26,369.27 394.52,369.23 394.83,369.2 395.17,369.17 395.49,369.14 395.79,369.1 396.06,369.07 396.32,369.04 396.57,369.01 396.81,368.97 397.04,368.94 397.27,368.91 397.49,368.87 397.71,368.84 397.93,368.81 398.14,368.78 398.34,368.74 398.55,368.71 398.75,368.68 398.95,368.65 399.15,368.61 399.34,368.58 399.53,368.55 399.72,368.52 399.91,368.48 400.09,368.45 400.28,368.42 400.46,368.38 400.64,368.35 400.82,368.32 401,368.29 401.17,368.25 401.35,368.22 401.52,368.19 401.69,368.16 401.87,368.12 402.04,368.09 402.2,368.06 402.37,368.02 402.54,367.99 402.7,367.96 402.87,367.93 403.03,367.89 403.19,367.86 403.36,367.83 403.52,367.8 403.68,367.76 403.83,367.73 403.99,367.7 404.15,367.66 404.31,367.63 404.46,367.6 404.62,367.57 404.77,367.53 404.92,367.5 405.08,367.47 405.23,367.44 405.38,367.4 405.53,367.37 405.68,367.34 405.83,367.31 405.98,367.27 406.13,367.24 406.28,367.21 406.42,367.17 406.57,367.14 406.72,367.11 406.86,367.08 407.01,367.04 407.15,367.01 407.29,366.98 407.44,366.95 407.58,366.91 407.72,366.88 407.87,366.85 408.01,366.81 408.13,366.78 408.21,366.75 408.25,366.72 408.25,366.68 408.21,366.65 408.13,366.62 408.01,366.59 407.87,366.55 407.72,366.52 407.58,366.49 407.44,366.45 407.29,366.42 407.15,366.39 407.01,366.36 406.86,366.32 406.72,366.29 406.57,366.26 406.42,366.23 406.28,366.19 406.13,366.16 405.98,366.13 405.83,366.09 405.68,366.06 405.53,366.03 405.38,366 405.23,365.96 405.08,365.93 404.92,365.9 404.77,365.87 404.62,365.83 404.46,365.8 404.31,365.77 404.15,365.74 403.99,365.7 403.83,365.67 403.68,365.64 403.52,365.6 403.36,365.57 403.19,365.54 403.03,365.51 402.87,365.47 402.7,365.44 402.54,365.41 402.37,365.38 402.2,365.34 402.04,365.31 401.87,365.28 401.69,365.24 401.52,365.21 401.35,365.18 401.17,365.15 401,365.11 400.82,365.08 400.64,365.05 400.46,365.02 400.28,364.98 400.09,364.95 399.91,364.92 399.72,364.88 399.53,364.85 399.34,364.82 399.15,364.79 398.95,364.75 398.75,364.72 398.55,364.69 398.34,364.66 398.14,364.62 397.93,364.59 397.71,364.56 397.49,364.53 397.27,364.49 397.04,364.46 396.81,364.43 396.57,364.39 396.32,364.36 396.06,364.33 395.79,364.3 395.49,364.26 395.17,364.23 394.83,364.2 394.52,364.17 394.26,364.13 393.7,364.1" fill="#8cc63f" stroke="#4f7a25" stroke-width="0.55" stroke-linejoin="round"/>
<rect x="390.7" y="365.4" width="6" height="2.6" fill="#d4d4d4" stroke="#8a8a8a" stroke-width="0.45"/>
<line x1="390.7" y1="366.7" x2="396.7" y2="366.7" stroke="#999" stroke-width="0.4"/>
<line x1="427.3" y1="328.0" x2="427.3" y2="343.1" stroke="#2a2a2a" stroke-width="1.2"/>
<polygon points="427.3,330.9 426.89,330.96 426.7,331.02 426.48,331.08 426.24,331.14 426.01,331.2 425.8,331.26 425.6,331.32 425.43,331.38 425.26,331.44 425.09,331.5 424.93,331.56 424.78,331.62 424.62,331.68 424.47,331.75 424.33,331.81 424.19,331.87 424.05,331.93 423.91,331.99 423.77,332.05 423.64,332.11 423.51,332.17 423.38,332.23 423.25,332.29 423.13,332.35 423,332.41 422.88,332.47 422.75,332.53 422.63,332.59 422.51,332.65 422.4,332.71 422.28,332.77 422.16,332.83 422.05,332.89 421.93,332.95 421.82,333.01 421.71,333.07 421.59,333.13 421.48,333.19 421.37,333.25 421.27,333.32 421.16,333.38 421.05,333.44 420.94,333.5 420.84,333.56 420.73,333.62 420.63,333.68 420.52,333.74 420.42,333.8 420.31,333.86 420.21,333.92 420.11,333.98 420.01,334.04 419.91,334.1 419.81,334.16 419.71,334.22 419.61,334.28 419.51,334.34 419.41,334.4 419.31,334.46 419.22,334.52 419.12,334.58 419.02,334.64 418.93,334.7 418.83,334.76 418.74,334.82 418.64,334.88 418.55,334.95 418.45,335.01 418.36,335.07 418.27,335.13 418.18,335.19 418.08,335.25 417.99,335.31 417.9,335.37 417.81,335.43 417.72,335.49 417.64,335.55 417.59,335.61 417.56,335.67 417.56,335.73 417.59,335.79 417.64,335.85 417.72,335.91 417.81,335.97 417.9,336.03 417.99,336.09 418.08,336.15 418.18,336.21 418.27,336.27 418.36,336.33 418.45,336.39 418.55,336.45 418.64,336.52 418.74,336.58 418.83,336.64 418.93,336.7 419.02,336.76 419.12,336.82 419.22,336.88 419.31,336.94 419.41,337 419.51,337.06 419.61,337.12 419.71,337.18 419.81,337.24 419.91,337.3 420.01,337.36 420.11,337.42 420.21,337.48 420.31,337.54 420.42,337.6 420.52,337.66 420.63,337.72 420.73,337.78 420.84,337.84 420.94,337.9 421.05,337.96 421.16,338.02 421.27,338.08 421.37,338.15 421.48,338.21 421.59,338.27 421.71,338.33 421.82,338.39 421.93,338.45 422.05,338.51 422.16,338.57 422.28,338.63 422.4,338.69 422.51,338.75 422.63,338.81 422.75,338.87 422.88,338.93 423,338.99 423.13,339.05 423.25,339.11 423.38,339.17 423.51,339.23 423.64,339.29 423.77,339.35 423.91,339.41 424.05,339.47 424.19,339.53 424.33,339.59 424.47,339.65 424.62,339.72 424.78,339.78 424.93,339.84 425.09,339.9 425.26,339.96 425.43,340.02 425.6,340.08 425.8,340.14 426.01,340.2 426.24,340.26 426.48,340.32 426.7,340.38 426.89,340.44 427.3,340.5 427.3,340.5 427.71,340.44 427.9,340.38 428.12,340.32 428.36,340.26 428.59,340.2 428.8,340.14 429,340.08 429.17,340.02 429.34,339.96 429.51,339.9 429.67,339.84 429.82,339.78 429.98,339.72 430.13,339.65 430.27,339.59 430.41,339.53 430.55,339.47 430.69,339.41 430.83,339.35 430.96,339.29 431.09,339.23 431.22,339.17 431.35,339.11 431.47,339.05 431.6,338.99 431.72,338.93 431.85,338.87 431.97,338.81 432.09,338.75 432.2,338.69 432.32,338.63 432.44,338.57 432.55,338.51 432.67,338.45 432.78,338.39 432.89,338.33 433.01,338.27 433.12,338.21 433.23,338.15 433.33,338.08 433.44,338.02 433.55,337.96 433.66,337.9 433.76,337.84 433.87,337.78 433.97,337.72 434.08,337.66 434.18,337.6 434.29,337.54 434.39,337.48 434.49,337.42 434.59,337.36 434.69,337.3 434.79,337.24 434.89,337.18 434.99,337.12 435.09,337.06 435.19,337 435.29,336.94 435.38,336.88 435.48,336.82 435.58,336.76 435.67,336.7 435.77,336.64 435.86,336.58 435.96,336.52 436.05,336.45 436.15,336.39 436.24,336.33 436.33,336.27 436.42,336.21 436.52,336.15 436.61,336.09 436.7,336.03 436.79,335.97 436.88,335.91 436.96,335.85 437.01,335.79 437.04,335.73 437.04,335.67 437.01,335.61 436.96,335.55 436.88,335.49 436.79,335.43 436.7,335.37 436.61,335.31 436.52,335.25 436.42,335.19 436.33,335.13 436.24,335.07 436.15,335.01 436.05,334.95 435.96,334.88 435.86,334.82 435.77,334.76 435.67,334.7 435.58,334.64 435.48,334.58 435.38,334.52 435.29,334.46 435.19,334.4 435.09,334.34 434.99,334.28 434.89,334.22 434.79,334.16 434.69,334.1 434.59,334.04 434.49,333.98 434.39,333.92 434.29,333.86 434.18,333.8 434.08,333.74 433.97,333.68 433.87,333.62 433.76,333.56 433.66,333.5 433.55,333.44 433.44,333.38 433.33,333.32 433.23,333.25 433.12,333.19 433.01,333.13 432.89,333.07 432.78,333.01 432.67,332.95 432.55,332.89 432.44,332.83 432.32,332.77 432.2,332.71 432.09,332.65 431.97,332.59 431.85,332.53 431.72,332.47 431.6,332.41 431.47,332.35 431.35,332.29 431.22,332.23 431.09,332.17 430.96,332.11 430.83,332.05 430.69,331.99 430.55,331.93 430.41,331.87 430.27,331.81 430.13,331.75 429.98,331.68 429.82,331.62 429.67,331.56 429.51,331.5 429.34,331.44 429.17,331.38 429,331.32 428.8,331.26 428.59,331.2 428.36,331.14 428.12,331.08 427.9,331.02 427.71,330.96 427.3,330.9" fill="#f5a443" stroke="#a86a28" stroke-width="0.55" stroke-linejoin="round"/>
<rect x="424.3" y="334.2" width="6" height="3" fill="#d4d4d4" stroke="#8a8a8a" stroke-width="0.45"/>
<line x1="424.3" y1="335.7" x2="430.3" y2="335.7" stroke="#999" stroke-width="0.4"/>
<line x1="460.6" y1="330.5" x2="460.6" y2="349.8" stroke="#2a2a2a" stroke-width="1.2"/>
<polygon points="460.6,332.9 460.26,332.99 460.11,333.08 459.93,333.17 459.73,333.26 459.54,333.35 459.37,333.44 459.21,333.53 459.07,333.62 458.93,333.72 458.79,333.81 458.66,333.9 458.53,333.99 458.41,334.08 458.29,334.17 458.17,334.26 458.05,334.35 457.94,334.44 457.83,334.53 457.72,334.62 457.61,334.71 457.5,334.8 457.39,334.89 457.29,334.98 457.18,335.07 457.08,335.16 456.98,335.25 456.88,335.35 456.78,335.44 456.68,335.53 456.59,335.62 456.49,335.71 456.4,335.8 456.3,335.89 456.21,335.98 456.12,336.07 456.02,336.16 455.93,336.25 455.84,336.34 455.75,336.43 455.66,336.52 455.57,336.61 455.49,336.7 455.4,336.79 455.31,336.88 455.22,336.98 455.14,337.07 455.05,337.16 454.97,337.25 454.88,337.34 454.8,337.43 454.72,337.52 454.63,337.61 454.55,337.7 454.47,337.79 454.39,337.88 454.31,337.97 454.23,338.06 454.15,338.15 454.07,338.24 453.99,338.33 453.91,338.42 453.83,338.52 453.75,338.61 453.67,338.7 453.59,338.79 453.52,338.88 453.44,338.97 453.36,339.06 453.29,339.15 453.21,339.24 453.13,339.33 453.06,339.42 452.98,339.51 452.91,339.6 452.83,339.69 452.76,339.78 452.7,339.87 452.65,339.96 452.63,340.05 452.63,340.15 452.65,340.24 452.7,340.33 452.76,340.42 452.83,340.51 452.91,340.6 452.98,340.69 453.06,340.78 453.13,340.87 453.21,340.96 453.29,341.05 453.36,341.14 453.44,341.23 453.52,341.32 453.59,341.41 453.67,341.5 453.75,341.59 453.83,341.68 453.91,341.78 453.99,341.87 454.07,341.96 454.15,342.05 454.23,342.14 454.31,342.23 454.39,342.32 454.47,342.41 454.55,342.5 454.63,342.59 454.72,342.68 454.8,342.77 454.88,342.86 454.97,342.95 455.05,343.04 455.14,343.13 455.22,343.22 455.31,343.32 455.4,343.41 455.49,343.5 455.57,343.59 455.66,343.68 455.75,343.77 455.84,343.86 455.93,343.95 456.02,344.04 456.12,344.13 456.21,344.22 456.3,344.31 456.4,344.4 456.49,344.49 456.59,344.58 456.68,344.67 456.78,344.76 456.88,344.85 456.98,344.95 457.08,345.04 457.18,345.13 457.29,345.22 457.39,345.31 457.5,345.4 457.61,345.49 457.72,345.58 457.83,345.67 457.94,345.76 458.05,345.85 458.17,345.94 458.29,346.03 458.41,346.12 458.53,346.21 458.66,346.3 458.79,346.39 458.93,346.48 459.07,346.58 459.21,346.67 459.37,346.76 459.54,346.85 459.73,346.94 459.93,347.03 460.11,347.12 460.26,347.21 460.6,347.3 460.6,347.3 460.94,347.21 461.09,347.12 461.27,347.03 461.47,346.94 461.66,346.85 461.83,346.76 461.99,346.67 462.13,346.58 462.27,346.48 462.41,346.39 462.54,346.3 462.67,346.21 462.79,346.12 462.91,346.03 463.03,345.94 463.15,345.85 463.26,345.76 463.37,345.67 463.48,345.58 463.59,345.49 463.7,345.4 463.81,345.31 463.91,345.22 464.02,345.13 464.12,345.04 464.22,344.95 464.32,344.85 464.42,344.76 464.52,344.67 464.61,344.58 464.71,344.49 464.8,344.4 464.9,344.31 464.99,344.22 465.08,344.13 465.18,344.04 465.27,343.95 465.36,343.86 465.45,343.77 465.54,343.68 465.63,343.59 465.71,343.5 465.8,343.41 465.89,343.32 465.98,343.22 466.06,343.13 466.15,343.04 466.23,342.95 466.32,342.86 466.4,342.77 466.48,342.68 466.57,342.59 466.65,342.5 466.73,342.41 466.81,342.32 466.89,342.23 466.97,342.14 467.05,342.05 467.13,341.96 467.21,341.87 467.29,341.78 467.37,341.68 467.45,341.59 467.53,341.5 467.61,341.41 467.68,341.32 467.76,341.23 467.84,341.14 467.91,341.05 467.99,340.96 468.07,340.87 468.14,340.78 468.22,340.69 468.29,340.6 468.37,340.51 468.44,340.42 468.5,340.33 468.55,340.24 468.57,340.15 468.57,340.05 468.55,339.96 468.5,339.87 468.44,339.78 468.37,339.69 468.29,339.6 468.22,339.51 468.14,339.42 468.07,339.33 467.99,339.24 467.91,339.15 467.84,339.06 467.76,338.97 467.68,338.88 467.61,338.79 467.53,338.7 467.45,338.61 467.37,338.52 467.29,338.42 467.21,338.33 467.13,338.24 467.05,338.15 466.97,338.06 466.89,337.97 466.81,337.88 466.73,337.79 466.65,337.7 466.57,337.61 466.48,337.52 466.4,337.43 466.32,337.34 466.23,337.25 466.15,337.16 466.06,337.07 465.98,336.98 465.89,336.88 465.8,336.79 465.71,336.7 465.63,336.61 465.54,336.52 465.45,336.43 465.36,336.34 465.27,336.25 465.18,336.16 465.08,336.07 464.99,335.98 464.9,335.89 464.8,335.8 464.71,335.71 464.61,335.62 464.52,335.53 464.42,335.44 464.32,335.35 464.22,335.25 464.12,335.16 464.02,335.07 463.91,334.98 463.81,334.89 463.7,334.8 463.59,334.71 463.48,334.62 463.37,334.53 463.26,334.44 463.15,334.35 463.03,334.26 462.91,334.17 462.79,334.08 462.67,333.99 462.54,333.9 462.41,333.81 462.27,333.72 462.13,333.62 461.99,333.53 461.83,333.44 461.66,333.35 461.47,333.26 461.27,333.17 461.09,333.08 460.94,332.99 460.6,332.9" fill="#ee6b5d" stroke="#9a3e36" stroke-width="0.55" stroke-linejoin="round"/>
<rect x="457.6" y="338.6" width="6" height="3" fill="#d4d4d4" stroke="#8a8a8a" stroke-width="0.45"/>
<line x1="457.6" y1="340.1" x2="463.6" y2="340.1" stroke="#999" stroke-width="0.4"/>
<text x="10.6" y="401.6" font-size="12.3" text-anchor="start" fill="#333" stroke="#333" stroke-width="0.3" >g</text>
<rect x="153.0" y="411.8" width="68.2" height="118.1" fill="#fff"/>
<line x1="144" y1="411.8" x2="144" y2="529.9" stroke="#ececec" stroke-width="0.5"/>
<line x1="168.85" y1="411.8" x2="168.85" y2="529.9" stroke="#ececec" stroke-width="0.5"/>
<line x1="193.7" y1="411.8" x2="193.7" y2="529.9" stroke="#ececec" stroke-width="0.5"/>
<line x1="218.55" y1="411.8" x2="218.55" y2="529.9" stroke="#ececec" stroke-width="0.5"/>
<line x1="156.4" y1="411.8" x2="156.4" y2="529.9" stroke="#e2e2e2" stroke-width="0.8"/>
<line x1="181.3" y1="411.8" x2="181.3" y2="529.9" stroke="#e2e2e2" stroke-width="0.8"/>
<line x1="206.1" y1="411.8" x2="206.1" y2="529.9" stroke="#e2e2e2" stroke-width="0.8"/>
<line x1="153.0" y1="418.6" x2="221.2" y2="418.6" stroke="#e2e2e2" stroke-width="0.8"/>
<line x1="153.0" y1="430.25" x2="221.2" y2="430.25" stroke="#e2e2e2" stroke-width="0.8"/>
<line x1="153.0" y1="441.9" x2="221.2" y2="441.9" stroke="#e2e2e2" stroke-width="0.8"/>
<line x1="153.0" y1="453.55" x2="221.2" y2="453.55" stroke="#e2e2e2" stroke-width="0.8"/>
<line x1="153.0" y1="465.2" x2="221.2" y2="465.2" stroke="#e2e2e2" stroke-width="0.8"/>
<line x1="153.0" y1="476.85" x2="221.2" y2="476.85" stroke="#e2e2e2" stroke-width="0.8"/>
<line x1="153.0" y1="488.5" x2="221.2" y2="488.5" stroke="#e2e2e2" stroke-width="0.8"/>
<line x1="153.0" y1="500.15" x2="221.2" y2="500.15" stroke="#e2e2e2" stroke-width="0.8"/>
<line x1="153.0" y1="511.8" x2="221.2" y2="511.8" stroke="#e2e2e2" stroke-width="0.8"/>
<line x1="153.0" y1="523.45" x2="221.2" y2="523.45" stroke="#e2e2e2" stroke-width="0.8"/>
<rect x="153.0" y="411.8" width="68.2" height="118.1" fill="none" stroke="#777" stroke-width="0.9"/>
<line x1="151.4" y1="418.6" x2="153.0" y2="418.6" stroke="#444" stroke-width="0.8"/>
<text x="150.9" y="420.95" font-size="6.65" text-anchor="end" fill="#2a2a2a" stroke="#2a2a2a" stroke-width="0.07" >muscle tissue development</text>
<line x1="151.4" y1="430.25" x2="153.0" y2="430.25" stroke="#444" stroke-width="0.8"/>
<text x="150.9" y="432.6" font-size="6.65" text-anchor="end" fill="#2a2a2a" stroke="#2a2a2a" stroke-width="0.07" >actin filament organization</text>
<line x1="151.4" y1="441.9" x2="153.0" y2="441.9" stroke="#444" stroke-width="0.8"/>
<text x="150.9" y="444.25" font-size="6.65" text-anchor="end" fill="#2a2a2a" stroke="#2a2a2a" stroke-width="0.07" >striated muscle tissue development</text>
<line x1="151.4" y1="453.55" x2="153.0" y2="453.55" stroke="#444" stroke-width="0.8"/>
<text x="150.9" y="455.9" font-size="6.65" text-anchor="end" fill="#2a2a2a" stroke="#2a2a2a" stroke-width="0.07" >epithelial cell proliferation</text>
<line x1="151.4" y1="465.2" x2="153.0" y2="465.2" stroke="#444" stroke-width="0.8"/>
<text x="150.9" y="467.55" font-size="6.65" text-anchor="end" fill="#2a2a2a" stroke="#2a2a2a" stroke-width="0.07" >ameboidal−type cell migration</text>
<line x1="151.4" y1="476.85" x2="153.0" y2="476.85" stroke="#444" stroke-width="0.8"/>
<text x="150.9" y="479.2" font-size="6.65" text-anchor="end" fill="#2a2a2a" stroke="#2a2a2a" stroke-width="0.07" >small GTPase mediated signal transduction</text>
<line x1="151.4" y1="488.5" x2="153.0" y2="488.5" stroke="#444" stroke-width="0.8"/>
<text x="150.9" y="490.85" font-size="6.65" text-anchor="end" fill="#2a2a2a" stroke="#2a2a2a" stroke-width="0.07" >muscle organ development</text>
<line x1="151.4" y1="500.15" x2="153.0" y2="500.15" stroke="#444" stroke-width="0.8"/>
<text x="150.9" y="502.5" font-size="6.65" text-anchor="end" fill="#2a2a2a" stroke="#2a2a2a" stroke-width="0.07" >regulation of actin filament−based process</text>
<line x1="151.4" y1="511.8" x2="153.0" y2="511.8" stroke="#444" stroke-width="0.8"/>
<text x="150.9" y="514.15" font-size="6.65" text-anchor="end" fill="#2a2a2a" stroke="#2a2a2a" stroke-width="0.07" >muscle cell differentiation</text>
<line x1="151.4" y1="523.45" x2="153.0" y2="523.45" stroke="#444" stroke-width="0.8"/>
<text x="150.9" y="525.8" font-size="6.65" text-anchor="end" fill="#2a2a2a" stroke="#2a2a2a" stroke-width="0.07" >regulation of supramolecular fiber organization</text>
<circle cx="218.7" cy="418.6" r="3.55" fill="#e8172a"/>
<circle cx="209.9" cy="430.25" r="3.45" fill="#e8172a"/>
<circle cx="202.4" cy="441.9" r="3.35" fill="#e8172a"/>
<circle cx="188.2" cy="453.55" r="3.15" fill="#e8172a"/>
<circle cx="186.2" cy="465.2" r="3.15" fill="#e8182b"/>
<circle cx="182.9" cy="476.85" r="3.25" fill="#2c4fae"/>
<circle cx="179.1" cy="488.5" r="3.05" fill="#da1846"/>
<circle cx="175.7" cy="500.15" r="2.85" fill="#d6194f"/>
<circle cx="170.1" cy="511.8" r="2.85" fill="#d51c55"/>
<circle cx="155.9" cy="523.45" r="1.75" fill="#4b3fae"/>
<line x1="156.4" y1="529.9" x2="156.4" y2="531.5" stroke="#444" stroke-width="0.8"/>
<text x="156.4" y="537" font-size="6.9" text-anchor="middle" fill="#2a2a2a" stroke="#2a2a2a" stroke-width="0.07" >0.036</text>
<line x1="181.3" y1="529.9" x2="181.3" y2="531.5" stroke="#444" stroke-width="0.8"/>
<text x="181.3" y="537" font-size="6.9" text-anchor="middle" fill="#2a2a2a" stroke="#2a2a2a" stroke-width="0.07" >0.040</text>
<line x1="206.1" y1="529.9" x2="206.1" y2="531.5" stroke="#444" stroke-width="0.8"/>
<text x="206.1" y="537" font-size="6.9" text-anchor="middle" fill="#2a2a2a" stroke="#2a2a2a" stroke-width="0.07" >0.044</text>
<text x="189" y="542.6" font-size="6.65" text-anchor="middle" fill="#2a2a2a" stroke="#2a2a2a" stroke-width="0.07" >GeneRatio</text>
<text x="153" y="408.5" font-size="6.65" text-anchor="start" fill="#2a2a2a" stroke="#2a2a2a" stroke-width="0.07" >EnrichmentGO</text>
<text x="271" y="400.3" font-size="12.3" text-anchor="start" fill="#333" stroke="#333" stroke-width="0.3" >h</text>
<rect x="369.4" y="411.8" width="70" height="117.8" fill="#fff"/>
<line x1="374" y1="411.8" x2="374" y2="529.6" stroke="#ececec" stroke-width="0.5"/>
<line x1="388.6" y1="411.8" x2="388.6" y2="529.6" stroke="#ececec" stroke-width="0.5"/>
<line x1="403.1" y1="411.8" x2="403.1" y2="529.6" stroke="#ececec" stroke-width="0.5"/>
<line x1="417.7" y1="411.8" x2="417.7" y2="529.6" stroke="#ececec" stroke-width="0.5"/>
<line x1="432.2" y1="411.8" x2="432.2" y2="529.6" stroke="#ececec" stroke-width="0.5"/>
<line x1="381.3" y1="411.8" x2="381.3" y2="529.6" stroke="#e2e2e2" stroke-width="0.8"/>
<line x1="395.85" y1="411.8" x2="395.85" y2="529.6" stroke="#e2e2e2" stroke-width="0.8"/>
<line x1="410.4" y1="411.8" x2="410.4" y2="529.6" stroke="#e2e2e2" stroke-width="0.8"/>
<line x1="424.95" y1="411.8" x2="424.95" y2="529.6" stroke="#e2e2e2" stroke-width="0.8"/>
<line x1="369.4" y1="418.6" x2="439.4" y2="418.6" stroke="#e2e2e2" stroke-width="0.8"/>
<line x1="369.4" y1="430.25" x2="439.4" y2="430.25" stroke="#e2e2e2" stroke-width="0.8"/>
<line x1="369.4" y1="441.9" x2="439.4" y2="441.9" stroke="#e2e2e2" stroke-width="0.8"/>
<line x1="369.4" y1="453.55" x2="439.4" y2="453.55" stroke="#e2e2e2" stroke-width="0.8"/>
<line x1="369.4" y1="465.2" x2="439.4" y2="465.2" stroke="#e2e2e2" stroke-width="0.8"/>
<line x1="369.4" y1="476.85" x2="439.4" y2="476.85" stroke="#e2e2e2" stroke-width="0.8"/>
<line x1="369.4" y1="488.5" x2="439.4" y2="488.5" stroke="#e2e2e2" stroke-width="0.8"/>
<line x1="369.4" y1="500.15" x2="439.4" y2="500.15" stroke="#e2e2e2" stroke-width="0.8"/>
<line x1="369.4" y1="511.8" x2="439.4" y2="511.8" stroke="#e2e2e2" stroke-width="0.8"/>
<line x1="369.4" y1="523.45" x2="439.4" y2="523.45" stroke="#e2e2e2" stroke-width="0.8"/>
<rect x="369.4" y="411.8" width="70" height="117.8" fill="none" stroke="#777" stroke-width="0.9"/>
<line x1="367.79999999999995" y1="418.6" x2="369.4" y2="418.6" stroke="#444" stroke-width="0.8"/>
<text x="367.1" y="420.95" font-size="6.65" text-anchor="end" fill="#2a2a2a" stroke="#2a2a2a" stroke-width="0.07" >Human papillomavirus infection</text>
<line x1="367.79999999999995" y1="430.25" x2="369.4" y2="430.25" stroke="#444" stroke-width="0.8"/>
<text x="367.1" y="432.6" font-size="6.65" text-anchor="end" fill="#2a2a2a" stroke="#2a2a2a" stroke-width="0.07" >PI3K−Akt signaling pathway</text>
<line x1="367.79999999999995" y1="441.9" x2="369.4" y2="441.9" stroke="#444" stroke-width="0.8"/>
<text x="367.1" y="444.25" font-size="6.65" text-anchor="end" fill="#2a2a2a" stroke="#2a2a2a" stroke-width="0.07" >Proteoglycans in cancer</text>
<line x1="367.79999999999995" y1="453.55" x2="369.4" y2="453.55" stroke="#444" stroke-width="0.8"/>
<text x="367.1" y="455.9" font-size="6.65" text-anchor="end" fill="#2a2a2a" stroke="#2a2a2a" stroke-width="0.07" >Regulation of actin cytoskeleton</text>
<line x1="367.79999999999995" y1="465.2" x2="369.4" y2="465.2" stroke="#444" stroke-width="0.8"/>
<text x="367.1" y="467.55" font-size="6.65" text-anchor="end" fill="#2a2a2a" stroke="#2a2a2a" stroke-width="0.07" >Focal adhesion</text>
<line x1="367.79999999999995" y1="476.85" x2="369.4" y2="476.85" stroke="#444" stroke-width="0.8"/>
<text x="367.1" y="479.2" font-size="6.65" text-anchor="end" fill="#2a2a2a" stroke="#2a2a2a" stroke-width="0.07" >Rap1 signaling pathway</text>
<line x1="367.79999999999995" y1="488.5" x2="369.4" y2="488.5" stroke="#444" stroke-width="0.8"/>
<text x="367.1" y="490.85" font-size="6.65" text-anchor="end" fill="#2a2a2a" stroke="#2a2a2a" stroke-width="0.07" >Axon guidance</text>
<line x1="367.79999999999995" y1="500.15" x2="369.4" y2="500.15" stroke="#444" stroke-width="0.8"/>
<text x="367.1" y="502.5" font-size="6.65" text-anchor="end" fill="#2a2a2a" stroke="#2a2a2a" stroke-width="0.07" >Tight junction</text>
<line x1="367.79999999999995" y1="511.8" x2="369.4" y2="511.8" stroke="#444" stroke-width="0.8"/>
<text x="367.1" y="514.15" font-size="6.65" text-anchor="end" fill="#2a2a2a" stroke="#2a2a2a" stroke-width="0.07" >Hippo signaling pathway</text>
<line x1="367.79999999999995" y1="523.45" x2="369.4" y2="523.45" stroke="#444" stroke-width="0.8"/>
<text x="367.1" y="525.8" font-size="6.65" text-anchor="end" fill="#2a2a2a" stroke="#2a2a2a" stroke-width="0.07" >Adherens junction</text>
<circle cx="436.0" cy="418.6" r="3.65" fill="#d91b5e"/>
<circle cx="433.3" cy="430.25" r="3.65" fill="#2350ae"/>
<circle cx="416.5" cy="441.9" r="3.45" fill="#e8172a"/>
<circle cx="407.0" cy="453.55" r="3.25" fill="#e8172a"/>
<circle cx="406.1" cy="465.2" r="3.25" fill="#e8172a"/>
<circle cx="401.9" cy="476.85" r="3.25" fill="#6a3fa6"/>
<circle cx="400.0" cy="488.5" r="3.15" fill="#e8172a"/>
<circle cx="399.2" cy="500.15" r="3.15" fill="#e8172a"/>
<circle cx="393.2" cy="511.8" r="3.15" fill="#e8172a"/>
<circle cx="372.4" cy="523.45" r="1.85" fill="#e8172a"/>
<line x1="381.3" y1="529.6" x2="381.3" y2="531.2" stroke="#444" stroke-width="0.8"/>
<text x="381.3" y="537" font-size="6.3" text-anchor="middle" fill="#2a2a2a" stroke="#2a2a2a" stroke-width="0.07" >0.03</text>
<line x1="395.85" y1="529.6" x2="395.85" y2="531.2" stroke="#444" stroke-width="0.8"/>
<text x="395.85" y="537" font-size="6.3" text-anchor="middle" fill="#2a2a2a" stroke="#2a2a2a" stroke-width="0.07" >0.04</text>
<line x1="410.4" y1="529.6" x2="410.4" y2="531.2" stroke="#444" stroke-width="0.8"/>
<text x="410.4" y="537" font-size="6.3" text-anchor="middle" fill="#2a2a2a" stroke="#2a2a2a" stroke-width="0.07" >0.05</text>
<line x1="424.95" y1="529.6" x2="424.95" y2="531.2" stroke="#444" stroke-width="0.8"/>
<text x="424.95" y="537" font-size="6.3" text-anchor="middle" fill="#2a2a2a" stroke="#2a2a2a" stroke-width="0.07" >0.06</text>
<text x="407.3" y="542.6" font-size="6.65" text-anchor="middle" fill="#2a2a2a" stroke="#2a2a2a" stroke-width="0.07" >GeneRatio</text>
<text x="369.4" y="408.5" font-size="6.65" text-anchor="start" fill="#2a2a2a" stroke="#2a2a2a" stroke-width="0.07" >EnrichmentKEGG</text>
<text x="228.5" y="435.6" font-size="6.65" text-anchor="start" fill="#2a2a2a" stroke="#2a2a2a" stroke-width="0.07" >Count</text>
<circle cx="232.4" cy="442.0" r="2.5" fill="#111"/>
<text x="237.7" y="444.5" font-size="7.2" text-anchor="start" fill="#2a2a2a" stroke="#2a2a2a" stroke-width="0.07" >130</text>
<circle cx="232.4" cy="448.9" r="2.9" fill="#111"/>
<text x="237.7" y="451.4" font-size="7.2" text-anchor="start" fill="#2a2a2a" stroke="#2a2a2a" stroke-width="0.07" >140</text>
<circle cx="232.4" cy="456.5" r="3.4" fill="#111"/>
<text x="237.7" y="459" font-size="7.2" text-anchor="start" fill="#2a2a2a" stroke="#2a2a2a" stroke-width="0.07" >150</text>
<text x="228.5" y="473.3" font-size="6.65" text-anchor="start" fill="#2a2a2a" stroke="#2a2a2a" stroke-width="0.07" >p.adjust</text>
<defs><linearGradient id="gg" x1="0" y1="0" x2="0" y2="1"><stop offset="0" stop-color="#e8102a"/><stop offset="0.45" stop-color="#c4168a"/><stop offset="0.75" stop-color="#8a2aa8"/><stop offset="1" stop-color="#3550b8"/></linearGradient></defs>
<rect x="228.3" y="476.0" width="6.6" height="33.6" fill="url(#gg)"/>
<line x1="228.3" y1="485.2" x2="229.6" y2="485.2" stroke="#fff" stroke-width="0.5"/><line x1="233.6" y1="485.2" x2="234.9" y2="485.2" stroke="#fff" stroke-width="0.5"/>
<line x1="228.3" y1="493.2" x2="229.6" y2="493.2" stroke="#fff" stroke-width="0.5"/><line x1="233.6" y1="493.2" x2="234.9" y2="493.2" stroke="#fff" stroke-width="0.5"/>
<line x1="228.3" y1="501.2" x2="229.6" y2="501.2" stroke="#fff" stroke-width="0.5"/><line x1="233.6" y1="501.2" x2="234.9" y2="501.2" stroke="#fff" stroke-width="0.5"/>
<text x="237.7" y="478" font-size="6.6" fill="#2a2a2a" stroke="#2a2a2a" stroke-width="0.05">4.53×10<tspan font-size="4.09" dy="-2.6">−23</tspan></text>
<text x="237.7" y="486.6" font-size="6.6" fill="#2a2a2a" stroke="#2a2a2a" stroke-width="0.05">1.68×10<tspan font-size="4.09" dy="-2.6">−17</tspan></text>
<text x="237.7" y="494.5" font-size="6.6" fill="#2a2a2a" stroke="#2a2a2a" stroke-width="0.05">3.35×10<tspan font-size="4.09" dy="-2.6">−17</tspan></text>
<text x="237.7" y="502.6" font-size="6.6" fill="#2a2a2a" stroke="#2a2a2a" stroke-width="0.05">5.03×10<tspan font-size="4.09" dy="-2.6">−17</tspan></text>
<text x="237.7" y="510.7" font-size="6.6" fill="#2a2a2a" stroke="#2a2a2a" stroke-width="0.05">6.70×10<tspan font-size="4.09" dy="-2.6">−17</tspan></text>
<text x="445.9" y="431.8" font-size="6.65" text-anchor="start" fill="#2a2a2a" stroke="#2a2a2a" stroke-width="0.07" >Count</text>
<circle cx="450.5" cy="437.8" r="1.9" fill="#111"/>
<text x="456.8" y="440.3" font-size="7.2" text-anchor="start" fill="#2a2a2a" stroke="#2a2a2a" stroke-width="0.07" >40</text>
<circle cx="450.5" cy="444.2" r="2.5" fill="#111"/>
<text x="456.8" y="446.7" font-size="7.2" text-anchor="start" fill="#2a2a2a" stroke="#2a2a2a" stroke-width="0.07" >60</text>
<circle cx="450.5" cy="451.5" r="3.0" fill="#111"/>
<text x="456.8" y="454" font-size="7.2" text-anchor="start" fill="#2a2a2a" stroke="#2a2a2a" stroke-width="0.07" >80</text>
<circle cx="450.5" cy="460.0" r="3.5" fill="#111"/>
<text x="456.8" y="462.5" font-size="7.2" text-anchor="start" fill="#2a2a2a" stroke="#2a2a2a" stroke-width="0.07" >100</text>
<text x="445.9" y="477.3" font-size="6.65" text-anchor="start" fill="#2a2a2a" stroke="#2a2a2a" stroke-width="0.07" >p.adjust</text>
<rect x="445.9" y="480.0" width="6.9" height="33.6" fill="url(#gg)"/>
<text x="454.6" y="488" font-size="6.6" fill="#2a2a2a" stroke="#2a2a2a" stroke-width="0.05">1.00×10<tspan font-size="4.09" dy="-2.6">−6</tspan></text>
<text x="454.6" y="494.6" font-size="6.6" fill="#2a2a2a" stroke="#2a2a2a" stroke-width="0.05">2.00×10<tspan font-size="4.09" dy="-2.6">−6</tspan></text>
<text x="454.6" y="501" font-size="6.6" fill="#2a2a2a" stroke="#2a2a2a" stroke-width="0.05">3.00×10<tspan font-size="4.09" dy="-2.6">−6</tspan></text>
<text x="454.6" y="507.3" font-size="6.6" fill="#2a2a2a" stroke="#2a2a2a" stroke-width="0.05">4.00×10<tspan font-size="4.09" dy="-2.6">−6</tspan></text>
<text x="454.6" y="513.6" font-size="6.6" fill="#2a2a2a" stroke="#2a2a2a" stroke-width="0.05">5.00×10<tspan font-size="4.09" dy="-2.6">−6</tspan></text>
</svg></body></html>
